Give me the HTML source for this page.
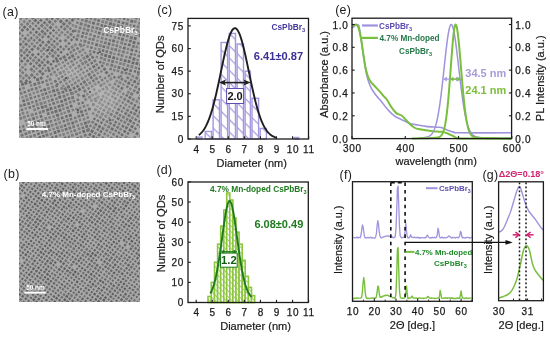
<!DOCTYPE html>
<html><head><meta charset="utf-8"><title>Figure</title>
<style>
html,body{margin:0;padding:0;background:#fff;width:550px;height:338px;overflow:hidden}
svg{display:block}
text{font-family:"Liberation Sans", Arial, sans-serif}
</style></head><body>
<svg width="550" height="338" viewBox="0 0 550 338">
<rect width="550" height="338" fill="#fff"/>
<defs><filter id="tblur" x="-5%" y="-5%" width="110%" height="110%"><feGaussianBlur stdDeviation="0.7"/></filter></defs>
<clipPath id="ca"><rect x="19" y="18" width="121" height="120"/></clipPath>
<rect x="19" y="18" width="121" height="120" fill="#adadad"/>
<g clip-path="url(#ca)" filter="url(#tblur)">
<path fill="#6a6a6a" d="M23.6 14.4 25.4 16 23.9 17.8 22 16.3zM28.9 13.3 30.9 15 29.2 17.1 27.2 15.4zM32.5 16.4 34.3 17.9 32.8 19.8 30.9 18.2zM24.4 25.2 26.6 27 24.8 29.1 22.6 27.3zM22.2 28.3 24.3 30 22.5 32.1 20.5 30.4zM35.1 18.4 37.3 20.3 35.5 22.5 33.3 20.6zM27.4 27.8 29.2 29.4 27.7 31.2 25.8 29.7zM40.7 18.5 42.7 20.2 41.1 22.1 39.1 20.5zM38.1 21.1 39.9 22.6 38.4 24.5 36.6 22.9zM33.1 27.4 35 29 33.4 30.9 31.5 29.3zM25.2 36.8 27.2 38.5 25.5 40.5 23.5 38.8zM20.5 42.6 22.4 44.2 20.8 46.2 18.9 44.6zM49.3 14.7 51.5 16.6 49.7 18.8 47.5 16.9zM44.3 21 46.3 22.6 44.6 24.6 42.6 22.9zM38.8 26.9 40.6 28.4 39.1 30.3 37.2 28.7zM36.3 30.2 38.3 31.9 36.6 34 34.5 32.3zM31.1 36.4 32.9 37.9 31.4 39.7 29.5 38.2zM25.9 42.4 28.1 44.1 26.3 46.3 24.1 44.5zM54.8 14.4 56.8 16.1 55.1 18 53.1 16.4zM52 17.2 53.9 18.7 52.3 20.6 50.5 19zM49.5 20.1 51.7 22 49.9 24.1 47.7 22.3zM42.1 29.6 44.2 31.3 42.5 33.4 40.4 31.6zM21.3 53.8 23.2 55.4 21.6 57.3 19.8 55.7zM50.4 25.5 52.6 27.3 50.7 29.6 48.5 27.7zM47.3 29.1 49.1 30.5 47.6 32.3 45.9 30.8zM39.6 38.3 41.5 40 39.9 41.9 37.9 40.3zM32.1 47.5 34.1 49.3 32.4 51.3 30.3 49.6zM29.4 50.4 31.2 51.9 29.7 53.7 27.9 52.2zM27.2 53.5 29.3 55.2 27.6 57.3 25.5 55.6zM24.4 56.4 26.3 58 24.7 60 22.8 58.3zM21.6 59.3 23.6 61 21.9 63 19.9 61.3zM60.7 19.3 62.9 21.2 61 23.5 58.8 21.6zM53.4 28.7 55.3 30.3 53.7 32.1 51.8 30.6zM50.4 31.5 52.2 33 50.7 34.9 48.8 33.3zM48.3 34.9 50.3 36.6 48.6 38.6 46.6 36.9zM42.7 40.6 44.7 42.2 43 44.1 41.1 42.5zM40.3 43.6 42.3 45.3 40.7 47.3 38.7 45.6zM32.5 53 34.5 54.7 32.8 56.7 30.8 55zM27.5 58.9 29.5 60.7 27.8 62.7 25.7 61zM17.3 71.4 19.1 72.9 17.6 74.7 15.9 73.2zM69.4 15.7 71.4 17.3 69.7 19.3 67.7 17.6zM66.6 18.9 68.6 20.6 66.9 22.6 64.9 20.9zM63.7 21.9 65.9 23.8 64 26 61.8 24.1zM61.1 25.2 63 26.7 61.4 28.6 59.6 27zM48.5 40 50.8 41.9 48.9 44.1 46.6 42.3zM38.2 52.5 40.1 54 38.5 55.9 36.7 54.3zM30.5 62 32.5 63.6 30.9 65.5 28.9 63.9zM72.4 17.9 74.6 19.8 72.7 22.1 70.5 20.2zM54.1 39.7 55.9 41.2 54.4 43.1 52.6 41.5zM49 45.8 50.8 47.3 49.3 49.2 47.5 47.6zM38.7 58.2 40.7 59.9 39 61.9 37 60.2zM33.8 64.7 35.6 66.2 34.1 67.9 32.4 66.5zM60.1 39.2 62 40.8 60.4 42.7 58.5 41.1zM51.9 48.3 54.2 50.2 52.3 52.4 50.1 50.6zM47.1 54.7 49.1 56.4 47.5 58.4 45.5 56.7zM39.5 63.6 41.7 65.4 39.8 67.6 37.6 65.8zM26.3 79.1 28.2 80.7 26.6 82.6 24.7 81zM72.9 29.4 74.9 31 73.2 33 71.3 31.3zM60.5 45.3 62.3 46.7 60.8 48.5 59 47zM57.9 47.8 59.8 49.4 58.2 51.2 56.4 49.7zM47.7 60.1 49.9 61.9 48 64.2 45.8 62.3zM39.9 69.4 42.1 71.2 40.3 73.4 38.1 71.6zM34.4 75.8 36.3 77.4 34.7 79.2 32.9 77.7zM71.4 38.3 73.2 39.8 71.7 41.6 69.9 40.1zM68.8 41.8 70.6 43.3 69.1 45.1 67.3 43.6zM60.9 50.5 62.8 52 61.2 53.9 59.4 52.3zM58.1 54 59.9 55.5 58.4 57.4 56.6 55.8zM56 56.8 57.8 58.3 56.3 60.2 54.4 58.6zM53.4 59.5 55.4 61.2 53.7 63.1 51.7 61.5zM50.8 62.6 52.7 64.2 51.1 66.1 49.2 64.5zM48 66.2 49.8 67.7 48.3 69.6 46.5 68zM42.6 72 44.6 73.7 42.9 75.8 40.8 74zM75.9 37.7 78.4 38.4 77.7 40.9 75.2 40.2zM86 15.7 88.9 16.4 88.1 19.3 85.3 18.5zM82.3 31.5 84.6 32.1 84 34.4 81.7 33.8zM81.3 34.9 83.7 35.5 83.1 37.9 80.6 37.3zM87.7 24.5 90.2 25.2 89.5 27.7 87 27.1zM92.5 21.4 95.2 22.2 94.5 24.9 91.8 24.1zM97.7 19 100.2 19.7 99.5 22.1 97 21.5zM93.7 34.7 96 35.3 95.4 37.5 93.1 36.9zM90.5 46.2 92.8 46.8 92.2 49.1 89.9 48.5zM102.7 15.7 105.4 16.4 104.7 19.2 101.9 18.4zM100.9 24 103.3 24.6 102.6 26.9 100.3 26.3zM99.6 27.6 102 28.3 101.4 30.6 99 30zM98.2 31.4 100.9 32.1 100.2 34.8 97.5 34.1zM95.6 43.1 98.3 43.8 97.5 46.5 94.9 45.8zM93.2 50.6 95.6 51.3 95 53.6 92.6 53zM104.2 24.8 107 25.6 106.3 28.4 103.5 27.6zM97.1 51.7 99.3 52.3 98.7 54.5 96.5 53.9zM109.5 22 112.3 22.7 111.5 25.6 108.7 24.8zM107.4 29.7 109.9 30.4 109.3 32.9 106.8 32.2zM102.9 45.1 105.4 45.7 104.7 48.2 102.2 47.5zM102.3 49.1 104.6 49.7 104 52.1 101.7 51.4zM108.1 42.3 110.7 43 110 45.6 107.4 44.9zM104.6 53.7 107.4 54.4 106.7 57.2 103.9 56.5zM118 20.3 120.3 21 119.7 23.3 117.4 22.7zM117.3 24.2 119.8 24.8 119.1 27.3 116.6 26.6zM112.6 39.2 115.3 39.9 114.6 42.6 111.9 41.9zM108.6 54.8 111.3 55.6 110.6 58.4 107.8 57.6zM123.3 17.2 125.7 17.8 125 20.1 122.7 19.5zM122.1 21.4 124.7 22.1 124 24.6 121.5 23.9zM120.9 24.9 123.4 25.5 122.8 28 120.3 27.4zM118.9 32.6 121.6 33.3 120.9 36 118.2 35.3zM112.7 55.9 115.4 56.7 114.7 59.4 111.9 58.7zM124.9 26.2 127.7 26.9 126.9 29.6 124.2 28.9zM123.6 29.9 126.3 30.6 125.6 33.2 122.9 32.5zM122.9 33.8 125.2 34.4 124.6 36.7 122.3 36.1zM121.4 37.5 124.2 38.2 123.4 40.9 120.7 40.2zM130.8 19.5 133.5 20.3 132.8 23 130.1 22.3zM124.5 42.7 126.7 43.3 126.1 45.6 123.8 45zM123.3 46.4 126 47.1 125.3 49.7 122.6 49zM118 65.8 120.6 66.4 119.9 69.1 117.3 68.4zM133.4 24.5 135.6 25.1 135 27.3 132.8 26.7zM132.5 28.3 135 28.9 134.3 31.4 131.9 30.7zM129.5 39.5 132 40.1 131.3 42.6 128.8 42zM128.3 43.2 130.9 43.9 130.2 46.6 127.6 45.8zM124.2 59 126.9 59.7 126.2 62.5 123.4 61.8zM139.7 17.7 142.1 18.3 141.5 20.7 139.1 20.1zM134.2 36.8 136.9 37.5 136.2 40.3 133.5 39.5zM133 40.8 135.8 41.5 135 44.4 132.2 43.6zM130.9 48.4 133.6 49.1 132.9 51.8 130.2 51.1zM130.4 52.7 132.8 53.4 132.1 55.7 129.7 55.1zM129.2 56.1 131.5 56.8 130.9 59.1 128.6 58.5zM128 59.7 130.7 60.4 130 63.2 127.3 62.4zM126.1 67.7 128.4 68.4 127.8 70.7 125.5 70.1zM140 30.1 142.7 30.9 141.9 33.6 139.2 32.9zM138.9 33.9 141.5 34.6 140.8 37.2 138.2 36.5zM135.5 49.6 137.7 50.2 137.1 52.4 134.9 51.8zM132.9 57.3 135.7 58.1 134.9 60.9 132.1 60.1zM132 61.3 134.7 62 134 64.6 131.3 63.9zM129.8 69.1 132.2 69.7 131.5 72.2 129.1 71.5zM141 42.7 143.9 43.5 143.1 46.3 140.3 45.6zM135.9 61.8 138.7 62.5 138 65.3 135.2 64.5zM134.2 70 136.3 70.6 135.8 72.8 133.6 72.2zM138.4 67.2 140.8 67.8 140.2 70.2 137.8 69.5zM137.4 70.9 139.9 71.6 139.2 74.1 136.7 73.4zM141.2 72.1 143.8 72.8 143.1 75.4 140.5 74.7zM16.2 123 18.7 122.1 19.5 124.6 17 125.5zM17.6 126.6 19.9 125.8 20.7 128.1 18.3 128.9zM18.7 130.5 21.3 129.6 22.2 132.3 19.5 133.1zM21.2 138 23.7 137.2 24.6 139.8 22 140.6zM16.3 97.2 19 96.4 19.9 99.1 17.2 99.9zM20.6 109.1 22.8 108.4 23.5 110.6 21.3 111.3zM26.8 127.9 29.3 127.2 30 129.6 27.6 130.3zM17.9 88.4 20.4 87.6 21.3 90.2 18.7 91zM21.9 100.1 24.5 99.2 25.3 101.8 22.8 102.6zM22.9 103.9 25.3 103.1 26.1 105.5 23.6 106.3zM31.7 130.4 34 129.7 34.8 132 32.5 132.7zM20.8 83.4 23.4 82.5 24.3 85.2 21.6 86.1zM23.2 91.4 25.4 90.7 26.2 92.9 23.9 93.6zM28.3 106.7 30.5 106 31.3 108.2 29 109zM31.9 117.7 34.4 116.8 35.3 119.4 32.7 120.2zM34.1 125.4 36.7 124.6 37.6 127.2 35 128zM35.7 129.2 38.1 128.4 38.9 130.9 36.5 131.7zM36.9 133 39.3 132.2 40.1 134.6 37.7 135.4zM38 136.7 40.7 135.8 41.6 138.5 38.9 139.4zM24 82.2 26.8 81.3 27.7 84.1 24.9 85zM32.1 105.5 34.3 104.8 35 107 32.8 107.7zM38.1 124.4 40.4 123.7 41.2 126 38.9 126.7zM40.6 131.5 43 130.8 43.8 133.2 41.4 134zM41.9 135.3 44.3 134.6 45 136.9 42.7 137.7zM28.4 81.3 30.9 80.5 31.7 83 29.2 83.8zM34.8 100.5 37 99.8 37.7 102 35.5 102.7zM36.7 107.5 39 106.8 39.8 109.1 37.5 109.8zM39.4 115.6 41.9 114.8 42.7 117.3 40.2 118.1zM41.8 122.6 44.5 121.7 45.4 124.4 42.7 125.3zM33.1 83.4 35.7 82.6 36.5 85.2 33.9 86zM40.6 106.2 43.3 105.4 44.2 108.1 41.5 109zM45.7 121.6 48.3 120.7 49.2 123.3 46.6 124.2zM47 125.6 49.6 124.8 50.5 127.4 47.8 128.3zM50.9 136.8 53.2 136 54 138.3 51.6 139.1zM35.8 78.7 38.6 77.8 39.5 80.5 36.7 81.4zM39.9 89.9 42 89.2 42.7 91.3 40.6 92zM45.8 109.1 48.5 108.2 49.3 110.8 46.7 111.7zM53.3 131.6 55.9 130.7 56.8 133.4 54.1 134.3zM54.7 135.8 57 135.1 57.7 137.3 55.4 138.1zM55.8 139.6 58.1 138.8 58.9 141.1 56.5 141.9zM39.5 77.1 42 76.3 42.9 78.9 40.3 79.7zM41.1 81.4 43.4 80.6 44.2 82.9 41.8 83.7zM43 88.8 45.6 88 46.5 90.6 43.9 91.5zM44.4 92.7 46.8 91.9 47.6 94.3 45.2 95.1zM49.1 107.6 51.9 106.7 52.8 109.5 50 110.4zM50.9 111.6 53.1 110.9 53.9 113.2 51.6 113.9zM56.9 130.3 59.6 129.5 60.4 132.1 57.8 133zM50.7 99.1 53.1 98.3 53.9 100.7 51.5 101.5zM52.1 102.6 54.5 101.9 55.3 104.3 52.9 105zM54.1 110.4 56.9 109.5 57.7 112.3 55 113.2zM55.7 114.3 58.5 113.4 59.4 116.2 56.6 117.1zM63.4 137 65.9 136.2 66.8 138.8 64.2 139.6zM51.8 89.9 54.6 89 55.5 91.8 52.7 92.7zM53.3 94.2 55.6 93.5 56.4 95.8 54 96.5zM57.2 105.4 59.9 104.5 60.8 107.2 58.1 108.1zM58.3 109.2 60.9 108.4 61.8 111 59.1 111.9zM60.6 117 63.1 116.2 63.9 118.7 61.4 119.6zM63.4 124.7 65.9 123.9 66.7 126.3 64.2 127.1zM64.4 128.4 67 127.6 67.8 130.1 65.3 131zM58 96.2 60.7 95.3 61.6 98 58.9 98.9zM59.9 100.5 62.5 99.7 63.3 102.3 60.7 103.1zM64.8 115.5 67.2 114.7 68 117.1 65.6 117.9zM61.3 91.2 63.8 90.4 64.6 92.9 62.1 93.7zM63.5 98.9 66.2 98 67.1 100.7 64.4 101.5zM68.4 114.4 71.3 113.5 72.2 116.3 69.4 117.2zM71 122.1 73.6 121.3 74.4 123.9 71.9 124.7zM76.2 137.4 78.5 136.6 79.3 139 77 139.7zM67.4 97.7 69.7 96.9 70.5 99.2 68.2 100zM69.5 105.3 72 104.4 72.9 107 70.3 107.8zM69.9 92.6 72.5 91.8 73.4 94.4 70.8 95.2zM76.4 111.7 78.6 111 79.3 113.1 77.1 113.8zM82 130.6 84.7 129.7 85.6 132.4 82.9 133.3zM79.7 110.8 82.4 109.9 83.2 112.6 80.6 113.5zM81 114.3 83.4 113.5 84.2 116 81.8 116.8zM83.6 122.2 86.3 121.3 87.1 123.9 84.5 124.8zM86 129.3 88.8 128.4 89.7 131.2 86.9 132.1zM81.2 102 83.4 101.3 84.1 103.5 81.9 104.2zM84.1 109.7 86.3 109 87 111.2 84.8 111.9zM87.6 108.1 90.3 107.2 91.2 109.9 88.5 110.8zM95.4 99 97.5 100.3 96.3 102.4 94.2 101.2zM100.9 97.9 103.2 99.3 101.9 101.6 99.5 100.3zM94.1 117.3 96 118.5 94.9 120.4 92.9 119.3zM117.9 84.6 120.1 85.9 118.9 88.1 116.7 86.8zM113.5 91.2 116.1 92.7 114.6 95.2 112.1 93.7zM111.9 95.1 113.9 96.2 112.8 98.2 110.8 97.1zM107.9 101.7 110.3 103.1 108.9 105.5 106.5 104.1zM103.5 108.5 105.7 109.7 104.4 111.9 102.2 110.7zM97.5 119.1 99.5 120.3 98.3 122.3 96.3 121.1zM95.4 122.7 97.7 124 96.4 126.3 94.1 125zM91.6 129.3 94.1 130.8 92.6 133.3 90.1 131.8zM89.5 132.8 91.7 134.1 90.4 136.4 88.1 135.1zM121.4 86.4 123.8 87.8 122.4 90.2 120 88.8zM114.9 96.7 117.1 98 115.8 100.2 113.6 98.9zM103 118 105 119.2 103.8 121.3 101.8 120.1zM101 121 103 122.2 101.8 124.2 99.9 123zM99 124.7 101.3 126.1 100 128.4 97.6 127.1zM93 134.8 95.3 136.1 94 138.4 91.7 137.1zM91.3 138.7 93.5 140 92.3 142.2 90.1 140.9zM128.3 81.3 130.7 82.7 129.3 85.1 126.9 83.7zM120.7 95.6 122.7 96.7 121.6 98.7 119.5 97.6zM110.7 112.5 113.1 113.9 111.7 116.3 109.3 114.9zM100.5 129.9 102.6 131.1 101.4 133.2 99.3 132zM98.6 133.3 100.9 134.5 99.6 136.8 97.3 135.5zM134.1 79.7 136.6 81.1 135.2 83.6 132.8 82.2zM126.3 93.7 128.4 95 127.2 97.1 125 95.9zM120.1 104.4 122.1 105.6 120.9 107.6 118.9 106.4zM118 107.4 120.5 108.8 119.1 111.3 116.6 109.9zM116.3 111.2 118.7 112.6 117.3 115 114.9 113.6zM129.4 95.7 131.7 97 130.4 99.3 128.1 98zM127.8 99.5 129.9 100.8 128.7 102.9 126.5 101.7zM123.4 106.6 125.3 107.8 124.2 109.7 122.2 108.6zM117.7 116.8 120.1 118.1 118.7 120.5 116.4 119.1zM115.3 120.6 117.3 121.7 116.1 123.7 114.1 122.6zM113.7 123.5 115.9 124.8 114.6 127 112.5 125.7zM111.6 127.1 114 128.5 112.6 130.9 110.3 129.5zM138.9 87.4 141.2 88.7 139.9 91 137.6 89.7zM137.2 90.8 139.3 92 138.1 94.2 135.9 92.9zM134.4 103.7 136.5 105 135.3 107.1 133.2 105.9zM130.6 110.7 132.7 111.9 131.5 113.9 129.4 112.8zM122.4 124.5 124.6 125.7 123.3 127.9 121.2 126.6zM116.6 134.9 118.6 136.1 117.5 138.1 115.4 137zM114.6 137.8 117.1 139.3 115.6 141.8 113.1 140.3zM142.1 98.3 144.6 99.8 143.1 102.3 140.6 100.8zM138 105.7 140.1 106.9 138.9 109 136.8 107.8zM135.8 108.7 138.1 110 136.8 112.3 134.5 111zM129.8 119.1 132.3 120.5 130.9 123 128.4 121.6zM125.9 126 128.2 127.3 126.9 129.6 124.6 128.3zM124.2 129.6 126.6 130.9 125.2 133.3 122.8 131.9zM121.6 133.1 123.9 134.4 122.6 136.6 120.4 135.3zM141.4 107 143.9 108.5 142.4 110.9 139.9 109.5zM139.6 110.5 142.2 112 140.7 114.5 138.1 113zM135.2 118 137.3 119.2 136.1 121.2 134.1 120zM131.5 124.7 133.9 126.1 132.5 128.5 130.1 127.1zM129.5 128.3 131.9 129.7 130.5 132.1 128.1 130.7zM127.6 132 129.6 133.1 128.4 135.1 126.4 133.9zM140.6 116.2 142.8 117.4 141.5 119.6 139.3 118.3zM138.9 119.7 140.9 120.9 139.7 122.9 137.7 121.7zM134.9 127.1 136.9 128.2 135.7 130.3 133.7 129.1zM136.6 131.8 139 133.2 137.6 135.6 135.1 134.2zM132.2 139 134.7 140.5 133.3 143 130.8 141.5zM69.2 47.6 70.4 49.6 68.4 50.8 67.2 48.8zM77.9 46.9 79.1 48.8 77.2 50 76 48.1zM67.9 52.9 69.2 54.9 67.2 56.1 65.9 54.1zM64.6 54.9 66.2 57.4 63.7 58.9 62.2 56.5zM61.1 56.9 62.5 59.1 60.3 60.5 58.9 58.3zM57.8 58.9 59.4 61.4 56.9 62.9 55.4 60.5zM73.1 54 74.6 56.4 72.2 57.9 70.6 55.5zM69.9 56.1 71.3 58.3 69.1 59.6 67.7 57.5zM66.2 58.3 67.6 60.6 65.3 62.1 63.9 59.7zM56.4 64.6 57.6 66.6 55.6 67.8 54.4 65.9zM49.5 68.7 51 71 48.6 72.5 47.2 70.1zM75 57.6 76.3 59.6 74.3 60.9 73 58.9zM68.3 61.9 69.5 63.9 67.6 65.1 66.4 63.1zM65 64.3 66.2 66.2 64.3 67.4 63.1 65.5zM87.8 54.6 89.2 56.9 86.9 58.4 85.4 56zM73.7 63.1 75 65.1 73 66.4 71.7 64.4zM60.7 71.1 62.2 73.5 59.8 75 58.3 72.6zM93 55.6 94.4 57.8 92.2 59.1 90.8 56.9zM89.8 58.1 91.1 60.2 89 61.4 87.8 59.4zM79.4 64.2 80.9 66.7 78.5 68.2 77 65.7zM76.1 66.7 77.4 68.8 75.3 70 74 68zM62.6 74.8 64 77.1 61.8 78.4 60.4 76.2zM55.8 79.4 57.2 81.6 55 83 53.6 80.8zM92.1 61.5 93.4 63.5 91.3 64.8 90 62.8zM81.5 67.4 83 69.8 80.6 71.3 79.1 68.9zM78.5 70 79.8 72 77.8 73.2 76.5 71.2zM65 78 66.5 80.5 64.1 82 62.5 79.5zM57.6 82.7 58.9 84.7 56.9 85.9 55.6 83.9zM100.6 60.5 101.8 62.5 99.9 63.7 98.7 61.7zM94.2 64.8 95.7 67.1 93.3 68.6 91.9 66.2zM87.4 69.3 88.6 71.3 86.7 72.5 85.5 70.6zM83.9 70.9 85.2 73 83.1 74.3 81.8 72.2zM77 75.6 78.3 77.6 76.3 78.9 75 76.9zM102.6 64.3 103.8 66.3 101.8 67.5 100.6 65.6zM99.2 66.3 100.5 68.3 98.4 69.6 97.2 67.6zM89.6 72.4 91.1 74.9 88.6 76.4 87.1 73.9zM68.9 84.8 70.4 87.3 67.9 88.9 66.4 86.4zM105 67.2 106.4 69.6 104.1 71.1 102.6 68.7zM91.6 75.8 93.1 78.1 90.8 79.5 89.3 77.2zM84.8 79.9 86.3 82.4 83.9 83.9 82.3 81.4zM81.4 82.4 82.7 84.4 80.7 85.6 79.4 83.6zM78.1 84.4 79.5 86.7 77.2 88.1 75.8 85.8zM74.5 86.3 75.9 88.5 73.7 89.9 72.3 87.7zM70.8 88.2 72.3 90.5 69.9 92 68.5 89.6zM107 70.8 108.5 73.1 106.1 74.6 104.6 72.3zM93.8 79.1 95.1 81.2 93 82.5 91.7 80.4zM79.9 87.6 81.4 90 79 91.5 77.5 89.1zM102.6 78.4 103.8 80.4 101.8 81.7 100.5 79.7zM98.9 80.6 100.2 82.7 98.2 84 96.9 81.9zM114.7 75.7 116 77.7 114 78.9 112.8 76.9zM101.4 83.3 102.9 85.8 100.5 87.4 98.9 84.9zM84.2 93.9 85.8 96.4 83.3 98 81.7 95.5zM106.7 85.4 107.9 87.5 105.9 88.7 104.7 86.7zM103.5 87.4 104.8 89.5 102.7 90.8 101.3 88.7zM95.3 97.3 96.5 99.2 94.6 100.4 93.4 98.5z"/>
<path fill="#747474" d="M18.8 25.9 20.7 27.5 19.1 29.5 17.1 27.8zM16.1 29.2 17.9 30.7 16.4 32.5 14.7 31zM29.6 19.5 31.4 21 29.9 22.8 28.1 21.3zM27.4 22 29.4 23.7 27.7 25.7 25.7 24zM19.3 31.4 21.4 33.2 19.6 35.2 17.5 33.5zM16.8 34.8 18.5 36.3 17 38 15.3 36.6zM37.9 15.8 39.8 17.3 38.2 19.2 36.4 17.6zM32.7 21.8 34.5 23.3 33 25.1 31.2 23.6zM30 24.8 31.9 26.4 30.3 28.4 28.4 26.8zM35.9 24.2 37.7 25.8 36.2 27.6 34.3 26zM30.6 30.7 32.6 32.4 31 34.4 29 32.7zM46.7 17.5 48.7 19.2 47 21.2 45 19.5zM41.7 23.6 43.9 25.5 42 27.7 39.8 25.8zM21 48.5 23.1 50.3 21.4 52.4 19.3 50.6zM39.3 32.6 41.4 34.3 39.7 36.4 37.6 34.7zM34 38.6 35.8 40.1 34.3 41.9 32.5 40.4zM26.5 48 28.6 49.8 26.8 51.9 24.7 50.1zM24.2 50.8 26.1 52.4 24.5 54.4 22.5 52.7zM16.1 60.1 17.9 61.6 16.4 63.5 14.6 61.9zM57.6 16.7 59.6 18.3 58 20.4 55.9 18.7zM55.2 19.6 57.1 21.2 55.5 23.1 53.6 21.5zM44.7 31.8 47 33.6 45.1 35.9 42.9 34zM42.4 35.1 44.4 36.8 42.8 38.8 40.8 37.1zM34.4 44.5 36.4 46.2 34.8 48.2 32.8 46.5zM37.9 46.6 40 48.3 38.3 50.4 36.2 48.7zM30.2 56.3 32.1 58 30.5 59.9 28.6 58.3zM46.1 43.2 48.1 44.9 46.4 46.9 44.4 45.2zM43.6 46.6 45.6 48.3 43.9 50.4 41.9 48.7zM35.4 55.8 37.3 57.4 35.7 59.3 33.9 57.7zM25.4 67.9 27.2 69.4 25.7 71.2 23.9 69.7zM22.6 70.9 24.5 72.5 22.9 74.4 21 72.8zM75 15.2 77.2 17 75.3 19.2 73.1 17.4zM69.6 21.1 71.7 22.9 69.9 25.1 67.7 23.3zM64.6 27.1 66.7 28.9 64.9 31 62.8 29.2zM56.8 36.8 58.7 38.3 57.1 40.2 55.3 38.6zM51.8 42.9 53.8 44.5 52.1 46.5 50.1 44.8zM41.3 55.2 43 56.7 41.5 58.4 39.8 57zM36.4 61.1 38.5 62.8 36.7 64.9 34.7 63.1zM31.2 67.3 33.4 69.2 31.5 71.4 29.3 69.5zM26.1 73.5 28.3 75.3 26.5 77.5 24.3 75.7zM20.9 79.5 23.1 81.4 21.3 83.6 19.1 81.7zM70.2 27.1 72 28.6 70.5 30.4 68.7 28.9zM67.5 30.4 69.3 31.9 67.8 33.7 66 32.2zM49.6 51.7 51.6 53.3 50 55.2 48 53.6zM44.2 58 46 59.5 44.5 61.3 42.7 59.8zM41.9 60.4 44.2 62.2 42.3 64.5 40.1 62.6zM31.6 73 33.9 74.9 32 77.2 29.8 75.3zM29 76.1 31 77.7 29.4 79.7 27.4 78zM70.7 32.4 72.9 34.2 71.1 36.4 68.9 34.6zM68 35.4 70 37.1 68.3 39.1 66.3 37.4zM65.4 38.5 67.5 40.3 65.7 42.5 63.6 40.7zM52.7 54 55 55.9 53.1 58.1 50.8 56.2zM44.6 63.4 46.6 65.1 45 67.1 43 65.4zM42.6 66.7 44.4 68.2 42.9 70 41.1 68.5zM73.7 35.4 75.5 36.9 73.9 38.7 72.1 37.2zM63.5 47.4 65.4 49 63.8 50.9 62 49.3zM76.6 21.3 78.8 21.9 78.2 24.1 76 23.5zM74.4 29.2 76.8 29.9 76.1 32.3 73.7 31.7zM82.1 14.4 84.9 15.1 84.1 17.9 81.3 17.2zM81.6 18.7 83.8 19.3 83.2 21.5 81 20.9zM80.1 22.1 82.9 22.9 82.1 25.7 79.3 25zM79.2 26.5 81.6 27.1 81 29.6 78.5 28.9zM85.2 19.1 88 19.9 87.3 22.7 84.5 21.9zM79.1 42.9 81.5 43.6 80.8 46 78.4 45.3zM90.1 16.9 92.5 17.5 91.9 19.9 89.5 19.3zM86.9 28.4 89.7 29.1 88.9 31.9 86.2 31.1zM85.7 32.2 88.1 32.8 87.4 35.2 85 34.6zM83.9 39.6 86.6 40.3 85.9 43 83.2 42.3zM95 13.5 97.9 14.3 97.1 17.1 94.2 16.4zM91.9 25.8 94.4 26.4 93.7 28.9 91.2 28.3zM88.9 37.5 91.2 38.1 90.6 40.4 88.3 39.8zM87.7 41.1 90.2 41.7 89.5 44.2 87.1 43.5zM98.8 15.2 101.2 15.9 100.5 18.2 98.2 17.6zM97 22.5 99.5 23.2 98.9 25.8 96.3 25.1zM95.9 26.5 98.6 27.2 97.9 29.9 95.2 29.1zM92.3 37.8 94.9 38.5 94.2 41.1 91.6 40.4zM106.6 17.1 109.5 17.8 108.7 20.7 105.9 19.9zM102.3 32.9 104.6 33.5 103.9 35.8 101.6 35.2zM106.4 33.4 108.8 34 108.2 36.4 105.8 35.8zM105.2 37.8 107.4 38.4 106.9 40.6 104.6 40zM104.3 41.3 106.9 42 106.2 44.5 103.7 43.8zM100.9 52.8 103.5 53.5 102.8 56 100.3 55.3zM100.3 56.4 102.8 57.1 102.2 59.6 99.7 58.9zM113 23.1 115.7 23.8 114.9 26.5 112.2 25.8zM112.3 26.9 114.9 27.6 114.2 30.2 111.6 29.5zM111.3 30.8 114 31.5 113.3 34.2 110.6 33.5zM109.1 38.7 111.4 39.4 110.8 41.7 108.4 41.1zM105.8 49.9 108.5 50.6 107.8 53.3 105.1 52.5zM116.2 27.5 119 28.3 118.2 31.1 115.4 30.3zM110 51.1 112.6 51.8 111.9 54.4 109.3 53.7zM108 58.9 110.3 59.6 109.7 61.9 107.3 61.3zM123.8 13.4 126.5 14.1 125.8 16.8 123.1 16.1zM120.1 28.9 122.6 29.6 121.9 32.1 119.5 31.4zM118 36.8 120.3 37.4 119.7 39.8 117.3 39.1zM115.9 44.2 118.3 44.8 117.6 47.2 115.2 46.6zM114.7 47.9 117.4 48.6 116.7 51.4 113.9 50.6zM111.6 59.8 114.4 60.6 113.6 63.3 110.9 62.6zM110.7 63.6 113.4 64.3 112.7 67.1 110 66.3zM109.8 67.4 112.2 68.1 111.6 70.5 109.1 69.9zM127.9 14.3 130.7 15 129.9 17.8 127.2 17zM125.8 21.9 128.6 22.7 127.9 25.5 125.1 24.7zM117.8 53 120 53.6 119.4 55.9 117.2 55.3zM116.4 57.2 118.6 57.7 118 60 115.8 59.4zM128.4 26.8 131 27.5 130.3 30.1 127.7 29.4zM127.7 31.2 130 31.9 129.4 34.2 127.1 33.6zM126.5 34.6 128.9 35.3 128.2 37.7 125.9 37zM122.5 50.2 125 50.9 124.4 53.4 121.8 52.8zM120.1 58 122.7 58.7 122 61.2 119.4 60.5zM135.4 16.3 138 17 137.3 19.7 134.7 19zM130.4 35.9 133.3 36.7 132.5 39.5 129.6 38.8zM122.2 67 124.4 67.7 123.8 69.9 121.5 69.3zM121 70.8 123.7 71.5 122.9 74.2 120.3 73.5zM140.7 13.6 143.4 14.3 142.6 17 139.9 16.3zM135.2 32.9 137.8 33.6 137.1 36.3 134.4 35.6zM132.4 44.7 135.1 45.4 134.4 48.1 131.7 47.4zM125.1 71.5 127.7 72.2 127 74.8 124.4 74.1zM141.4 26 144.2 26.7 143.5 29.6 140.7 28.8zM137.4 41.7 139.9 42.4 139.2 45 136.7 44.3zM134.1 53.3 136.3 53.9 135.7 56.1 133.5 55.5zM128.8 72.5 131.1 73.2 130.5 75.5 128.1 74.9zM142 38.5 144.8 39.2 144 42.1 141.2 41.3zM139.1 50.9 141.4 51.5 140.8 53.7 138.5 53.1zM137.9 54.4 140.3 55 139.7 57.5 137.2 56.8zM135.1 66.4 137.4 67 136.8 69.3 134.5 68.7zM140.7 59.6 143 60.2 142.4 62.5 140.1 61.9zM139.6 63.5 141.9 64.1 141.3 66.5 138.9 65.9zM15.3 131.3 17.9 130.5 18.8 133.1 16.1 134zM16.4 135.3 18.7 134.6 19.4 136.9 17.1 137.6zM17.8 138.9 20.4 138 21.3 140.7 18.6 141.5zM20.3 134.4 23 133.5 23.8 136.1 21.2 137zM15.1 106 17.7 105.1 18.6 107.8 15.9 108.6zM16.9 110.2 19.3 109.4 20.1 111.8 17.7 112.5zM18.3 114 20.4 113.3 21.1 115.5 19 116.2zM19.1 117.6 21.7 116.7 22.5 119.3 20 120.1zM21.7 125.6 24 124.8 24.8 127.2 22.4 128zM22.6 129.1 25 128.4 25.7 130.7 23.4 131.4zM24.1 132.9 26.8 132 27.7 134.7 25 135.6zM27.8 131.6 30.2 130.8 30.9 133.2 28.6 134zM29.2 135.8 31.5 135.1 32.3 137.4 29.9 138.2zM29.8 139.2 32.6 138.3 33.5 141.1 30.7 142zM26.6 115.1 28.9 114.4 29.6 116.6 27.4 117.3zM30.2 126.5 33 125.6 33.9 128.3 31.1 129.2zM32.9 134.6 35.4 133.8 36.1 136.2 33.7 137zM34.5 138 36.8 137.2 37.6 139.6 35.2 140.4zM26.8 102.7 29.6 101.8 30.5 104.6 27.7 105.6zM32.8 121.5 35.5 120.7 36.3 123.3 33.7 124.2zM27.1 89.8 29.6 89 30.4 91.5 27.9 92.3zM29.2 97.2 31.9 96.4 32.7 99 30.1 99.8zM30.9 101.5 33.1 100.8 33.8 103 31.6 103.7zM34.5 113 36.7 112.3 37.5 114.6 35.2 115.3zM36.7 120.5 39.5 119.5 40.4 122.4 37.6 123.3zM30.4 88.5 32.9 87.7 33.7 90.2 31.2 91zM33.4 96.3 35.7 95.6 36.4 97.8 34.2 98.6zM38.4 111.8 40.8 111 41.6 113.4 39.2 114.2zM40.6 119.3 42.9 118.6 43.7 120.9 41.4 121.6zM42.7 126.5 45.5 125.5 46.5 128.4 43.7 129.3zM44 130.4 46.8 129.5 47.7 132.2 44.9 133.1zM45.1 134.1 47.8 133.2 48.7 135.9 46 136.8zM46.8 138.2 49.1 137.4 49.9 139.8 47.5 140.6zM34.5 87.6 37 86.8 37.8 89.3 35.3 90.2zM37.1 95.2 39.5 94.4 40.2 96.8 37.9 97.5zM41.6 110.5 44.2 109.6 45.1 112.2 42.4 113.1zM37 82.2 39.7 81.3 40.6 84 37.9 84.9zM44 105.4 46.7 104.5 47.6 107.2 44.9 108.1zM46.5 112.7 49.2 111.8 50.1 114.5 47.4 115.4zM49.3 120.5 51.7 119.8 52.5 122.1 50.1 122.9zM48.4 104 50.6 103.2 51.3 105.4 49.1 106.1zM53.7 119.4 55.9 118.7 56.6 120.9 54.4 121.6zM54.5 123.3 56.9 122.5 57.7 124.9 55.3 125.6zM45 79.9 47.2 79.2 48 81.5 45.7 82.2zM45.9 83.8 48.3 83.1 49.1 85.4 46.7 86.2zM53.6 106.8 56 106 56.8 108.4 54.4 109.2zM54.9 97.9 57.2 97.2 57.9 99.5 55.6 100.2zM62.3 120.4 64.7 119.6 65.4 121.9 63.1 122.7zM67.4 136 69.6 135.3 70.3 137.5 68.1 138.2zM55 85 57.4 84.3 58.2 86.7 55.8 87.4zM55.7 89.1 58.3 88.3 59.1 90.9 56.5 91.7zM57.1 92.3 59.9 91.4 60.8 94.2 58 95.1zM60.7 104.4 63.3 103.5 64.2 106.2 61.5 107zM68.1 127.1 70.7 126.2 71.6 128.9 68.9 129.7zM71.9 138.5 74.3 137.8 75 140.1 72.7 140.8zM62.4 95.3 64.9 94.5 65.8 97.1 63.2 97.9zM65.7 106.9 68.3 106 69.2 108.6 66.6 109.5zM66.9 110.3 69.7 109.4 70.6 112.2 67.8 113.1zM69.4 118.3 71.8 117.5 72.6 120 70.2 120.8zM72 125.8 74.5 125 75.3 127.5 72.8 128.4zM73.2 129.8 75.7 128.9 76.5 131.5 74 132.3zM74.8 133.2 77.5 132.3 78.3 135 75.7 135.8zM64.8 90 67.1 89.3 67.8 91.5 65.6 92.3zM73.7 117.1 75.9 116.4 76.7 118.6 74.4 119.4zM76.4 124.8 78.6 124.1 79.3 126.3 77.1 127zM70.8 96.7 73.6 95.8 74.5 98.6 71.7 99.5zM72.4 100.5 74.7 99.7 75.4 102.1 73.1 102.8zM77.2 115.4 79.9 114.5 80.7 117.2 78 118.1zM81.2 127 83.8 126.2 84.6 128.7 82.1 129.6zM83.5 134.4 86.1 133.5 87 136.1 84.4 136.9zM84.7 138.3 87.1 137.5 87.8 139.9 85.4 140.7zM76.3 99.1 78.6 98.3 79.4 100.6 77.1 101.4zM77.3 102.9 79.7 102.2 80.4 104.5 78.1 105.3zM84.8 125.5 87.6 124.6 88.5 127.4 85.7 128.3zM86.3 116.8 88.5 116.1 89.2 118.3 87 119zM92.9 102.6 95.5 104.1 94 106.6 91.5 105.2zM105.1 91.1 107.2 92.3 106 94.4 103.8 93.2zM102.7 94.6 104.9 95.9 103.6 98.1 101.4 96.8zM99 101 101.3 102.4 100 104.7 97.6 103.3zM95 107.8 97.3 109.2 96 111.5 93.6 110.2zM118.4 75.5 120.7 76.8 119.4 79.1 117.1 77.8zM114.5 82.2 116.8 83.6 115.5 85.9 113.1 84.6zM112.3 85.8 114.8 87.2 113.4 89.8 110.9 88.3zM101.9 103 104.4 104.4 102.9 106.9 100.5 105.4zM100 106.7 102.1 107.9 100.9 109.9 98.9 108.7zM98.2 109.9 100.6 111.3 99.2 113.7 96.8 112.3zM96.5 113.8 98.7 115 97.4 117.3 95.2 116zM92.2 120.4 94.4 121.7 93.2 123.9 91 122.6zM90.1 124.3 92.1 125.4 90.9 127.4 89 126.2zM88 127.7 90.2 128.9 88.9 131.1 86.8 129.8zM121.5 77.5 123.8 78.8 122.5 81 120.2 79.7zM115.5 87.8 117.9 89.1 116.5 91.5 114.2 90.1zM105.6 105 108.1 106.5 106.6 108.9 104.2 107.5zM101.8 112.1 104.2 113.5 102.8 115.9 100.4 114.5zM99.9 115.6 102.1 116.8 100.9 119 98.7 117.7zM87.7 136.6 89.7 137.8 88.6 139.8 86.6 138.6zM127.3 76.1 129.6 77.4 128.3 79.6 126 78.3zM125 79.4 127.2 80.7 126 82.9 123.8 81.6zM108.9 107.3 111.3 108.7 109.9 111.2 107.5 109.7zM107.3 110.6 109.8 112 108.4 114.4 105.9 113zM97.4 127.9 99.5 129.1 98.3 131.2 96.2 130zM126.9 85.1 129 86.3 127.8 88.4 125.7 87.2zM122.9 92.3 124.9 93.5 123.7 95.6 121.7 94.4zM116.3 102.1 118.8 103.6 117.3 106.1 114.8 104.7zM114.4 105.8 116.5 107 115.3 109 113.2 107.9zM112.5 109.5 114.5 110.7 113.4 112.8 111.3 111.6zM106.6 119.8 108.8 121 107.5 123.3 105.3 122zM102.4 126.6 104.9 128 103.5 130.5 101 129.1zM96.3 136.6 98.8 138 97.3 140.6 94.8 139.1zM136.2 76.1 138.8 77.5 137.3 80.1 134.8 78.6zM131.9 83.6 133.9 84.7 132.7 86.7 130.8 85.6zM124.1 97.3 126.5 98.7 125.1 101.2 122.7 99.8zM122.3 101 124.3 102.2 123.1 104.3 121.1 103.1zM114.2 114.7 116.5 116 115.2 118.2 112.9 116.9zM110 121.5 112.3 122.8 111 125.2 108.6 123.8zM108.2 124.9 110.6 126.3 109.2 128.8 106.8 127.4zM104.3 132.3 106.3 133.5 105.1 135.5 103.1 134.3zM100.3 138.5 102.8 139.9 101.3 142.5 98.8 141zM137.6 81.9 139.9 83.3 138.6 85.6 136.3 84.3zM135.4 85.2 137.8 86.5 136.4 88.9 134.1 87.5zM133.8 89 135.9 90.3 134.7 92.4 132.6 91.2zM131.2 92 133.6 93.5 132.2 95.9 129.8 94.5zM121.5 109.7 123.5 110.9 122.3 112.9 120.3 111.8zM119.6 113.5 121.8 114.8 120.5 117 118.3 115.7zM130.9 101.4 133.3 102.8 131.9 105.1 129.5 103.8zM127.1 108.4 129.4 109.8 128.1 112.1 125.7 110.8zM125.2 111.5 127.7 112.9 126.3 115.4 123.8 114zM123 115.3 125.4 116.7 124 119.1 121.6 117.7zM120.9 119.1 122.9 120.2 121.7 122.2 119.7 121.1zM118.8 122.3 120.8 123.4 119.7 125.4 117.7 124.2zM117.1 125.4 119.5 126.8 118.1 129.2 115.8 127.8zM115.3 129 117.4 130.2 116.2 132.4 114 131.1zM113.1 132.5 115.3 133.8 114 135.9 111.9 134.7zM110.8 136.3 113 137.6 111.8 139.8 109.5 138.5zM140.5 92.9 142.9 94.3 141.5 96.8 139.1 95.4zM132.7 106.5 135 107.9 133.6 110.2 131.3 108.9zM128.5 113.7 130.9 115.1 129.5 117.6 127.1 116.2zM126.6 117.5 128.8 118.7 127.6 120.9 125.4 119.7zM118.5 131 120.8 132.3 119.5 134.6 117.2 133.3zM134 111.9 136.5 113.3 135 115.8 132.6 114.3zM127.9 122.8 130.1 124 128.8 126.1 126.7 124.9zM119.8 136.5 121.8 137.6 120.7 139.7 118.7 138.5zM133.2 121.4 135.5 122.7 134.2 124.9 131.9 123.6zM123.3 138.3 125.6 139.6 124.3 142 121.9 140.6zM137.1 123.4 139.1 124.6 138 126.6 136 125.4zM128.9 137.1 131.5 138.6 130 141.1 127.4 139.7zM142.4 121.4 144.9 122.8 143.4 125.3 140.9 123.9zM140 125 142.3 126.3 141 128.7 138.7 127.3zM74.3 48.3 75.7 50.5 73.5 51.9 72.1 49.7zM63.2 60.9 64.4 62.9 62.5 64.1 61.2 62.1zM53 66.7 54.3 68.9 52.2 70.2 50.9 68.1zM78.7 55.6 79.9 57.7 77.9 59 76.6 56.9zM72.1 59.8 73.5 62.1 71.2 63.6 69.7 61.2zM61.9 66.2 63.1 68.2 61.2 69.4 59.9 67.4zM58.2 68 59.5 70 57.5 71.3 56.2 69.3zM55 70.3 56.4 72.5 54.2 73.9 52.8 71.7zM48 75 49.2 76.9 47.3 78.1 46.1 76.2zM70.8 65 72.3 67.4 69.9 68.9 68.4 66.5zM64.2 69.4 65.7 71.9 63.3 73.4 61.8 71zM86.3 60.1 87.8 62.6 85.3 64.1 83.8 61.7zM83.1 61.8 84.6 64.2 82.2 65.7 80.7 63.3zM72.9 68.9 74.2 70.9 72.1 72.2 70.9 70.2zM69.1 70.5 70.4 72.6 68.3 74 66.9 71.8zM65.7 72.9 66.9 74.9 64.9 76.1 63.7 74.2zM59.1 76.9 60.4 78.9 58.4 80.2 57.1 78.2zM95.3 59 96.7 61.3 94.4 62.7 93 60.4zM88.4 63.2 89.7 65.4 87.5 66.8 86.2 64.6zM85 65.9 86.2 67.9 84.3 69.1 83.1 67.1zM68.1 75.9 69.6 78.4 67.2 79.9 65.6 77.4zM61.1 80.3 62.5 82.6 60.2 84.1 58.7 81.7zM97.1 63 98.3 65.1 96.3 66.3 95 64.3zM90.4 67.2 91.7 69.2 89.6 70.5 88.4 68.5zM70.1 79.9 71.4 81.9 69.3 83.1 68.1 81.1zM82.7 76.3 84.2 78.8 81.7 80.4 80.2 77.9zM78.9 78.8 80.3 81.1 78 82.5 76.6 80.2zM75.6 81.1 77 83.3 74.8 84.7 73.5 82.5zM72.4 83.2 73.7 85.2 71.7 86.5 70.4 84.5zM65.5 86.9 67 89.2 64.7 90.7 63.2 88.3zM94.7 73.7 96 75.8 93.9 77.2 92.6 75.1zM100.6 75.4 101.8 77.4 99.8 78.6 98.6 76.6zM96.9 76.8 98.4 79.1 96 80.6 94.5 78.2zM83.5 85.7 84.9 87.9 82.7 89.3 81.4 87.1zM76.4 89.9 77.7 92.1 75.6 93.5 74.2 91.3zM109.4 74 110.8 76.3 108.6 77.7 107.2 75.4zM105.5 76.4 106.8 78.5 104.8 79.8 103.5 77.7zM89 86.8 90.3 88.8 88.3 90.2 86.9 88.1zM85.3 89 86.9 91.4 84.4 92.9 82.9 90.5zM110.2 82.9 111.7 85.2 109.3 86.7 107.9 84.3zM96.5 91.7 97.9 93.9 95.7 95.4 94.2 93.1zM90.1 95.3 91.6 97.7 89.1 99.2 87.6 96.8z"/>
<path fill="#7e7e7e" d="M17.7 14.8 19.5 16.3 18 18.1 16.2 16.6zM20.7 16.9 22.7 18.5 21 20.5 19.1 18.8zM18.2 20 20.4 21.9 18.6 24.1 16.3 22.3zM26.4 16.5 28.3 18.1 26.7 20 24.8 18.4zM24.1 19.8 26 21.4 24.4 23.4 22.5 21.7zM21.5 22.8 23.5 24.5 21.8 26.5 19.8 24.8zM22.3 34.1 24.1 35.6 22.6 37.4 20.8 35.9zM19.9 37.2 22 39 20.2 41.1 18.1 39.3zM17.4 40.3 19.4 42 17.7 43.9 15.7 42.3zM43.5 15.3 45.2 16.8 43.7 18.5 42 17zM27.8 33.5 29.7 35.1 28.1 37 26.3 35.4zM23.2 39.9 25.1 41.5 23.5 43.4 21.6 41.8zM17.6 45.8 19.6 47.5 17.9 49.5 15.9 47.8zM33.8 33.4 35.6 34.9 34.1 36.7 32.3 35.2zM28.6 38.7 30.9 40.6 29 42.8 26.7 40.9zM23.1 45.3 25.1 47 23.5 49 21.5 47.3zM18.3 51 20.5 52.8 18.6 54.9 16.5 53.1zM47 23.3 49 25 47.3 27 45.3 25.3zM44.7 26.4 46.8 28.1 45.1 30.1 43 28.4zM36.8 35.4 38.9 37.2 37.1 39.4 35 37.6zM31.8 42 33.8 43.6 32.1 45.6 30.1 44zM29.1 44.7 31 46.3 29.4 48.2 27.6 46.6zM18.6 56.7 20.8 58.5 19 60.6 16.8 58.8zM60.7 13.6 62.7 15.3 61 17.3 59 15.6zM52.7 22.6 54.6 24.2 53 26.1 51.1 24.5zM37 41.1 38.9 42.7 37.3 44.5 35.4 43zM19.1 62.6 21.2 64.3 19.4 66.4 17.4 64.6zM16.7 66 18.6 67.6 17 69.6 15.1 67.9zM63.3 16.2 65.1 17.7 63.6 19.6 61.8 18zM56 25.6 57.8 27.1 56.3 28.8 54.5 27.3zM25.1 62.4 27.2 64.1 25.4 66.2 23.4 64.4zM22.3 65.4 24.5 67.2 22.7 69.3 20.5 67.5zM19.9 68.5 22 70.2 20.3 72.2 18.2 70.5zM58.7 28.3 60.5 29.8 59 31.7 57.1 30.1zM56.2 31 58.2 32.7 56.6 34.6 54.6 33zM53.4 34.3 55.3 35.9 53.7 37.7 51.9 36.2zM51 37.4 52.9 39 51.3 40.9 49.4 39.3zM41.1 49.2 43.1 50.8 41.4 52.8 39.4 51.1zM33.3 58.4 35.5 60.3 33.6 62.5 31.4 60.6zM20 74.1 22.1 75.9 20.4 78 18.2 76.2zM17.6 76.7 19.9 78.6 18 80.9 15.7 79zM67.2 24.3 69.4 26.2 67.6 28.4 65.3 26.5zM61.7 30.8 63.7 32.5 62 34.4 60 32.8zM59.3 33.6 61.2 35.2 59.6 37.1 57.7 35.5zM46.5 48.9 48.4 50.5 46.8 52.4 44.9 50.8zM43.6 52.3 45.5 53.9 43.9 55.8 42 54.2zM23.1 76.3 25.1 78 23.4 80 21.4 78.3zM72.8 23.8 74.6 25.3 73.1 27.1 71.3 25.6zM65 33.2 66.9 34.7 65.3 36.6 63.5 35zM57.1 41.9 59.3 43.8 57.4 46.1 55.2 44.2zM54.4 45 56.6 46.9 54.7 49.1 52.5 47.2zM36.5 66.9 38.3 68.5 36.8 70.3 34.9 68.8zM33.8 69.7 35.8 71.3 34.1 73.3 32.2 71.6zM55 50.6 57.3 52.5 55.4 54.8 53.2 52.9zM37.1 72.4 39 74 37.4 76 35.5 74.4zM66 44.4 68.1 46.2 66.3 48.3 64.2 46.5zM45.6 69 47.5 70.6 45.9 72.4 44 70.9zM78.3 14.1 80.5 14.7 79.9 16.9 77.7 16.3zM77.3 17.3 79.7 17.9 79 20.3 76.6 19.7zM75.1 25 77.6 25.7 76.9 28.1 74.4 27.5zM78 29.8 80.5 30.5 79.8 33 77.3 32.4zM77 33.8 79.8 34.6 79 37.4 76.2 36.7zM84.3 23.2 87.1 23.9 86.3 26.7 83.5 26zM83.2 27.2 86 28 85.2 30.7 82.5 30zM80.2 39.3 82.4 39.9 81.8 42.1 79.6 41.5zM88.9 20.6 91.3 21.2 90.7 23.7 88.2 23zM85 35.9 87.3 36.5 86.7 38.8 84.4 38.2zM83.1 43.7 85.3 44.3 84.7 46.5 82.5 45.9zM94 17.9 96.7 18.6 96 21.2 93.3 20.5zM91.1 29.3 93.5 29.9 92.8 32.3 90.5 31.6zM89.7 33.1 92.2 33.7 91.5 36.2 89 35.5zM86.8 45.2 89 45.8 88.4 48.1 86.2 47.5zM94.9 30.3 97.2 31 96.6 33.3 94.2 32.7zM91.4 41.8 94 42.5 93.3 45.1 90.8 44.4zM89.4 49.7 91.7 50.3 91.1 52.5 88.8 51.9zM101.8 20 104.4 20.7 103.7 23.3 101.1 22.6zM97.3 35.4 99.8 36 99.2 38.6 96.6 37.9zM96.6 39.4 98.8 40 98.3 42.2 96 41.6zM94.4 47.3 96.7 47.9 96.1 50.1 93.9 49.5zM105.4 20.9 107.8 21.6 107.2 24.1 104.7 23.4zM103.2 28.6 105.5 29.2 104.9 31.5 102.6 30.9zM101.2 36.5 103.8 37.2 103.1 39.8 100.5 39.1zM100.5 40.2 103 40.9 102.4 43.4 99.9 42.7zM99.4 43.9 102.1 44.6 101.4 47.3 98.7 46.6zM98.4 47.8 101 48.5 100.3 51.1 97.7 50.4zM96.1 55.6 98.3 56.2 97.7 58.4 95.5 57.8zM111.3 14.1 113.5 14.7 112.9 16.9 110.7 16.3zM110.2 18.3 112.7 19 112.1 21.5 109.5 20.9zM108 25.3 110.9 26.1 110.1 28.9 107.3 28.1zM115.5 15.5 118 16.2 117.4 18.7 114.8 18zM114.6 19.1 116.9 19.7 116.3 22 114 21.4zM109.9 34.5 112.2 35.1 111.6 37.5 109.3 36.8zM106.8 45.8 109.6 46.5 108.8 49.3 106.1 48.5zM103.7 57.7 106.4 58.5 105.7 61.2 102.9 60.5zM102.7 61.5 105.1 62.2 104.5 64.6 102.1 63.9zM119.1 16.6 121.4 17.3 120.8 19.6 118.4 19zM114.2 35.7 116.7 36.4 116 38.9 113.5 38.2zM112.1 43.2 114.7 43.9 114 46.5 111.4 45.8zM111 47.2 113.7 47.9 113 50.5 110.3 49.8zM106.4 62.8 109 63.5 108.3 66 105.8 65.4zM116.5 40.5 119 41.1 118.3 43.6 115.9 42.9zM113.6 52.5 115.8 53.1 115.2 55.3 113 54.7zM127 18.2 129.5 18.9 128.8 21.4 126.3 20.7zM120.7 41.1 123.5 41.9 122.8 44.7 120 43.9zM119.4 45.6 121.9 46.3 121.2 48.8 118.7 48.1zM118.4 49.3 121 50 120.3 52.6 117.7 51.9zM115.7 60.8 118 61.4 117.4 63.7 115.1 63.1zM114.2 64.9 116.7 65.6 116 68.1 113.5 67.4zM113.3 68.6 115.8 69.2 115.1 71.7 112.7 71zM132 15.8 134.2 16.4 133.6 18.6 131.4 18zM129.8 23.7 132 24.3 131.4 26.5 129.2 25.9zM125.6 38.8 127.9 39.4 127.3 41.8 124.9 41.1zM121 53.8 123.8 54.5 123.1 57.3 120.3 56.6zM119.4 61.9 122 62.6 121.3 65.2 118.7 64.5zM117 69.2 119.7 69.9 119 72.6 116.3 71.9zM134.3 20.1 136.9 20.8 136.2 23.3 133.6 22.6zM127.2 47.5 129.6 48.2 128.9 50.5 126.6 49.9zM126.6 51.3 128.8 51.9 128.2 54.1 126 53.5zM125.6 55.5 127.8 56.1 127.2 58.3 125 57.7zM122.9 62.5 125.5 63.2 124.8 65.9 122.2 65.2zM119.9 74.7 122.4 75.4 121.7 77.8 119.3 77.2zM138.5 21.6 141.1 22.3 140.4 24.9 137.8 24.2zM137.1 24.9 139.8 25.7 139.1 28.4 136.3 27.7zM136.6 29 139.2 29.7 138.5 32.4 135.9 31.7zM127 64 129.8 64.7 129.1 67.5 126.3 66.8zM136 45.4 138.5 46.1 137.8 48.6 135.3 47.9zM130.9 64.9 133.7 65.6 132.9 68.4 130.1 67.7zM140 46.5 142.3 47.1 141.6 49.5 139.3 48.8zM136.8 58.6 139 59.2 138.4 61.4 136.2 60.8zM141.7 55.7 144.2 56.3 143.5 58.8 141 58.2zM15.4 118.9 17.8 118.1 18.6 120.6 16.2 121.4zM25.5 136.7 28 135.9 28.8 138.4 26.3 139.2zM15.4 93.6 17.6 92.9 18.3 95.1 16.1 95.8zM19.2 104.8 21.9 104 22.8 106.7 20 107.6zM21.4 112.5 23.9 111.6 24.7 114.1 22.2 114.9zM22.5 116.2 25.2 115.3 26.1 118 23.4 118.9zM24.3 120.1 26.8 119.2 27.7 121.8 25.1 122.6zM25.6 123.8 28.1 122.9 29 125.5 26.4 126.3zM16.8 84.9 19.2 84.1 20 86.5 17.6 87.3zM19.4 92.5 22.1 91.6 23 94.4 20.3 95.3zM21 96.6 23.2 95.9 23.9 98.1 21.7 98.8zM24.3 107.8 26.5 107.1 27.2 109.3 25 110zM25.9 111.8 28.1 111.1 28.8 113.3 26.6 114zM27.9 118.9 30.5 118 31.4 120.6 28.7 121.5zM29.3 122.9 31.9 122.1 32.7 124.6 30.2 125.4zM21.8 87.3 24.4 86.4 25.3 89 22.7 89.8zM24.5 95.3 26.9 94.5 27.7 96.9 25.2 97.7zM25.5 98.8 28.2 97.9 29.1 100.6 26.4 101.5zM30.3 113.9 33.1 113 34 115.8 31.2 116.7zM28.4 93.8 30.9 92.9 31.7 95.4 29.2 96.3zM33 108.9 35.6 108.1 36.4 110.6 33.8 111.5zM35.4 116.5 37.7 115.8 38.4 118.1 36.2 118.8zM39.2 128.1 41.4 127.4 42.1 129.6 39.9 130.3zM43 139.2 45.5 138.4 46.3 140.9 43.9 141.7zM29.5 84.8 31.8 84 32.5 86.3 30.3 87zM32.3 92.4 34.5 91.7 35.2 93.8 33 94.5zM35.4 103.6 38.1 102.7 39 105.4 36.3 106.3zM36 91.1 38.4 90.3 39.1 92.7 36.7 93.5zM38.2 98.9 40.4 98.2 41.2 100.5 38.9 101.2zM39.3 102.5 42.1 101.6 43 104.4 40.2 105.4zM44.1 117.6 46.7 116.7 47.5 119.3 44.9 120.2zM48.1 129.2 50.4 128.5 51.1 130.7 48.9 131.5zM49.2 133.3 51.7 132.5 52.5 135 50 135.8zM38.2 86.2 40.5 85.4 41.2 87.7 38.9 88.5zM40.8 93.6 43.5 92.7 44.3 95.4 41.7 96.2zM41.9 97.4 44.6 96.5 45.5 99.2 42.8 100.1zM43.2 101.7 45.8 100.8 46.6 103.4 44 104.3zM48 116.8 50.4 116 51.2 118.4 48.8 119.2zM50.5 124.2 53.1 123.4 53.9 126 51.3 126.9zM52 128.3 54.3 127.5 55 129.8 52.8 130.5zM45.9 96.2 48.5 95.3 49.3 97.9 46.7 98.8zM47.4 100.2 49.7 99.5 50.4 101.8 48.1 102.5zM52 115.7 54.4 114.9 55.2 117.4 52.8 118.2zM55.6 126.8 58.4 125.9 59.3 128.7 56.5 129.6zM58.5 134.4 60.8 133.7 61.5 135.9 59.2 136.7zM59.8 138.5 62 137.7 62.7 140 60.5 140.7zM46.8 87.6 49.4 86.7 50.2 89.3 47.6 90.2zM48.1 91.2 50.6 90.4 51.4 92.9 48.9 93.7zM49.7 95.3 51.9 94.6 52.6 96.8 50.4 97.5zM56.6 118.1 59.2 117.3 60.1 119.9 57.5 120.8zM58 121.7 60.5 120.9 61.3 123.4 58.8 124.2zM59.5 125.8 62.3 124.9 63.2 127.7 60.4 128.6zM61 129.6 63.4 128.8 64.1 131.2 61.8 132zM62 133.5 64.5 132.7 65.3 135.2 62.8 136zM50 82.7 52.2 82 53 84.2 50.7 85zM51 86.3 53.5 85.5 54.3 88 51.8 88.8zM55.9 101.3 58.4 100.5 59.2 103 56.7 103.8zM59.9 113 62.3 112.2 63.1 114.6 60.7 115.4zM66.2 132.3 68.4 131.6 69.2 133.8 66.9 134.5zM68 139.6 70.8 138.7 71.7 141.5 68.9 142.4zM62 107.9 64.3 107.2 65 109.4 62.8 110.2zM63.3 112 65.5 111.3 66.2 113.5 64 114.2zM65.6 119.1 68.4 118.2 69.3 121 66.5 121.9zM66.8 122.9 69.6 122 70.5 124.7 67.7 125.6zM69.7 130.8 71.9 130.1 72.6 132.2 70.4 132.9zM70.5 134.3 73.2 133.4 74.1 136.2 71.4 137.1zM60 87.6 62.6 86.7 63.4 89.3 60.9 90.1zM64.5 103 67.1 102.1 68 104.8 65.4 105.6zM65.8 93.8 68.2 93 69 95.4 66.6 96.2zM68.5 101.3 71.1 100.5 72 103.1 69.3 104zM71.3 109.1 73.7 108.4 74.5 110.7 72.1 111.5zM74.3 120.7 77 119.8 77.9 122.5 75.2 123.3zM77.4 128 80 127.2 80.8 129.7 78.3 130.5zM78.3 131.9 80.6 131.1 81.4 133.4 79.1 134.1zM79.4 136.1 81.9 135.3 82.7 137.7 80.2 138.5zM80.9 139.4 83.7 138.5 84.6 141.3 81.8 142.2zM75 108.2 77.4 107.4 78.1 109.8 75.7 110.6zM78.6 119.3 80.8 118.6 81.6 120.8 79.3 121.6zM80 123.3 82.4 122.5 83.1 124.9 80.8 125.7zM78.6 107.1 80.9 106.4 81.7 108.7 79.4 109.4zM82.5 118.3 84.9 117.5 85.7 119.9 83.2 120.7zM82.3 105.5 84.9 104.6 85.7 107.2 83.1 108zM85.1 113 87.4 112.2 88.1 114.5 85.9 115.2zM86.9 120.9 89.7 120 90.6 122.8 87.8 123.7zM86.2 104.5 88.4 103.8 89.2 106 86.9 106.7zM97.1 95.8 99.6 97.3 98.1 99.8 95.6 98.3zM106.8 87.4 109.1 88.7 107.8 91 105.5 89.7zM97 105 99 106.1 97.8 108.1 95.8 107zM92.7 111.7 94.9 113 93.7 115.3 91.4 114zM116.3 79.2 118.5 80.4 117.2 82.6 115 81.4zM110.4 89.6 112.6 90.9 111.3 93.1 109.2 91.8zM108 92.4 110.5 93.9 109 96.4 106.5 94.9zM106 96.2 108.2 97.4 107 99.6 104.8 98.3zM104.4 99.7 106.7 101 105.4 103.4 103 102zM119.4 80.8 121.9 82.2 120.5 84.6 118 83.2zM109.4 98.5 111.6 99.8 110.3 101.9 108.2 100.7zM93.4 125.7 95.9 127.2 94.5 129.6 92 128.2zM123 83 125 84.2 123.9 86.1 121.9 85zM119.3 89.5 121.8 91 120.3 93.5 117.8 92zM117.3 93.3 119.3 94.4 118.2 96.4 116.2 95.3zM113.3 100.4 115.5 101.7 114.3 103.9 112 102.6zM111.4 103.5 113.6 104.8 112.3 107 110.1 105.7zM105.2 114.1 107.7 115.6 106.3 118 103.8 116.6zM95 131.6 97.1 132.8 95.9 135 93.8 133.8zM132.4 74.4 134.7 75.7 133.4 78.1 131 76.7zM130.6 78.2 132.8 79.5 131.5 81.7 129.3 80.4zM118.7 98.8 121.2 100.2 119.8 102.7 117.3 101.3zM108.7 116.4 110.7 117.5 109.5 119.5 107.6 118.3zM104.7 123.3 106.9 124.5 105.7 126.7 103.5 125.5zM137.9 73 140 74.2 138.8 76.3 136.7 75.1zM129.9 87.2 131.9 88.4 130.7 90.4 128.7 89.2zM127.9 90.4 130.3 91.8 128.9 94.2 126.5 92.8zM112.2 118.4 114.3 119.6 113.1 121.6 111.1 120.4zM106.2 128.6 108.7 130.1 107.3 132.6 104.8 131.1zM102.3 135.8 104.4 137 103.2 139.2 101 137.9zM141.7 74.9 144 76.2 142.7 78.6 140.4 77.2zM139.5 78.7 141.9 80.1 140.5 82.5 138.1 81.1zM125.3 103.1 127.5 104.4 126.3 106.6 124.1 105.3zM109.8 130.8 111.8 132 110.7 134 108.7 132.8zM107.4 134 109.5 135.2 108.3 137.3 106.2 136.1zM105.4 137.4 107.8 138.8 106.4 141.1 104.1 139.8zM141 84.5 142.9 85.7 141.8 87.7 139.8 86.5zM132.8 97.5 135.3 99 133.9 101.5 131.3 100zM128.9 105.2 130.9 106.4 129.7 108.3 127.8 107.2zM142.7 89.6 144.7 90.7 143.5 92.8 141.5 91.6zM138.5 96.2 141 97.6 139.6 100.1 137.1 98.7zM136.4 99.6 138.7 100.9 137.4 103.2 135.1 101.9zM124.3 120.3 126.8 121.7 125.4 124.2 122.9 122.8zM120.2 127.6 122.5 128.9 121.1 131.1 118.9 129.8zM140.1 101.6 142.6 103.1 141.1 105.6 138.6 104.1zM131.9 115.9 134.1 117.2 132.8 119.5 130.6 118.2zM137.4 114 139.9 115.5 138.4 118 135.9 116.6zM125.5 135 128 136.4 126.6 138.8 124.2 137.5zM132.7 130.2 134.9 131.4 133.6 133.6 131.5 132.3zM134.4 135.4 136.5 136.7 135.3 138.8 133.1 137.6zM142.1 130.8 144.1 132 142.9 134 140.9 132.8zM140 134.1 142.3 135.4 141 137.7 138.7 136.4zM138 137.7 140.3 139.1 139 141.4 136.7 140zM75.8 43 77.2 45.3 74.9 46.7 73.4 44.4zM72.5 45 74.1 47.5 71.6 49 70.1 46.5zM81.5 44 82.9 46.3 80.7 47.7 79.3 45.4zM71.4 50.5 72.8 52.8 70.5 54.2 69 51.9zM83.4 48 84.8 50.2 82.6 51.6 81.2 49.3zM80.2 49.8 81.7 52.1 79.3 53.6 77.9 51.3zM76.4 52.2 77.6 54.1 75.7 55.3 74.5 53.4zM59.5 62.5 60.9 64.7 58.7 66.1 57.3 63.9zM85.7 51.5 86.9 53.4 84.9 54.6 83.7 52.7zM82.3 53.7 83.5 55.6 81.6 56.8 80.4 54.9zM51.6 72.5 53 74.7 50.7 76.2 49.3 73.9zM90.8 52.6 92.2 54.9 89.9 56.3 88.5 54.1zM84.6 56.2 86.1 58.7 83.6 60.2 82.1 57.8zM81.1 58.8 82.5 61.1 80.3 62.5 78.9 60.2zM77.1 61 78.4 63 76.4 64.2 75.2 62.3zM67 67.2 68.4 69.3 66.2 70.7 64.9 68.5zM56.9 73.6 58.2 75.7 56.1 77 54.8 74.9zM50.6 77.6 52 79.9 49.7 81.3 48.3 79zM75.1 72.1 76.5 74.4 74.2 75.8 72.8 73.5zM71.5 73.9 72.9 76.1 70.7 77.5 69.3 75.3zM80.7 72.8 82.2 75.2 79.8 76.7 78.3 74.3zM73.5 77.2 75.1 79.7 72.6 81.2 71.1 78.7zM66.9 81.7 68.2 83.9 66.1 85.2 64.7 83zM63.6 84.2 64.9 86.3 62.9 87.6 61.6 85.5zM96.2 68.2 97.7 70.6 95.3 72.1 93.8 69.7zM92.8 70.2 94.1 72.4 91.9 73.8 90.5 71.6zM86 74.4 87.3 76.5 85.2 77.9 83.8 75.7zM101.7 69.8 102.9 71.8 100.9 73 99.7 71zM98.1 71.7 99.3 73.6 97.4 74.8 96.2 72.9zM87.8 78 89.1 80.1 87 81.4 85.7 79.4zM90.3 81 91.8 83.4 89.4 84.9 87.9 82.5zM86.8 83.1 88.2 85.4 85.9 86.8 84.5 84.5zM73.1 91.5 74.5 93.8 72.2 95.3 70.8 93zM112.3 72.3 113.6 74.4 111.5 75.6 110.3 73.6zM95.7 82.3 97.1 84.7 94.8 86.1 93.3 83.8zM92.4 84.6 93.8 86.7 91.7 88 90.3 85.9zM78.9 93.1 80.5 95.5 78 97 76.5 94.6zM111.4 77 112.9 79.4 110.5 80.9 109 78.5zM107.9 79.4 109.4 81.8 107 83.3 105.5 80.9zM104.6 81.7 106.1 84.2 103.7 85.8 102.1 83.3zM94.6 87.8 96 90 93.8 91.4 92.5 89.2zM87.8 92.5 89.1 94.6 87 95.9 85.7 93.8zM100 88.9 101.6 91.3 99.1 92.9 97.5 90.4zM93.1 93.2 94.6 95.6 92.2 97.1 90.7 94.7zM86.1 97.6 87.6 100.1 85.2 101.6 83.7 99.1zM98.8 94.9 100.1 96.9 98.1 98.2 96.8 96.1zM91.9 98.6 93.4 101 91 102.5 89.6 100.1z"/>
</g>
<defs><filter id="soft" x="-50%" y="-50%" width="200%" height="200%"><feGaussianBlur stdDeviation="5"/></filter></defs>
<g clip-path="url(#ca)" filter="url(#soft)" opacity="0.35"><ellipse cx="72" cy="72" rx="16" ry="9" fill="#c4c4c4"/><ellipse cx="105" cy="98" rx="16" ry="18" fill="#c4c4c4"/></g>
<circle cx="66" cy="78" r="1.1" fill="#3a3a3a" opacity="0.8"/>
<circle cx="90" cy="92" r="1.1" fill="#3a3a3a" opacity="0.8"/>
<circle cx="33" cy="122" r="1.1" fill="#3a3a3a" opacity="0.8"/>
<circle cx="110" cy="120" r="1.1" fill="#3a3a3a" opacity="0.8"/>
<circle cx="48" cy="50" r="1.1" fill="#3a3a3a" opacity="0.8"/>
<circle cx="125" cy="70" r="1.1" fill="#3a3a3a" opacity="0.8"/>
<circle cx="78" cy="110" r="1.1" fill="#3a3a3a" opacity="0.8"/>
<circle cx="100" cy="52" r="1.1" fill="#3a3a3a" opacity="0.8"/>
<clipPath id="cb"><rect x="19" y="182" width="121" height="120"/></clipPath>
<rect x="19" y="182" width="121" height="120" fill="#a9a9a9"/>
<g clip-path="url(#cb)" filter="url(#tblur)">
<path fill="#5e5e5e" d="M23 181 24.8 182.3 23.5 184.1 21.7 182.8zM28.2 180.3 30 181.6 28.7 183.4 26.9 182.1zM26 183.3 27.7 184.5 26.5 186.1 24.8 185zM23.8 186.2 25.5 187.4 24.3 189 22.7 187.9zM22.1 189.1 23.7 190.3 22.6 191.9 21 190.8zM17.9 195.1 19.6 196.3 18.4 198 16.7 196.8zM15.9 198 17.5 199.2 16.4 200.8 14.7 199.7zM33.1 179.4 35 180.7 33.7 182.6 31.8 181.3zM20.9 197.3 22.5 198.4 21.4 200 19.8 198.9zM38 178.7 39.9 180 38.6 181.9 36.6 180.6zM34.2 184.6 35.9 185.8 34.7 187.5 33 186.3zM30.1 190.5 31.7 191.7 30.6 193.4 28.9 192.2zM25.8 196 27.8 197.4 26.4 199.4 24.4 198zM23.5 199.3 25.2 200.5 24 202.1 22.4 201zM16.4 216.1 18.3 217.4 16.9 219.3 15 218zM46.1 179.9 47.8 181.1 46.6 182.8 44.9 181.6zM44 183.1 45.6 184.2 44.5 185.7 42.9 184.7zM38 191.8 39.8 193.1 38.5 194.8 36.8 193.6zM33.7 197.8 35.2 198.9 34.1 200.4 32.6 199.4zM31.5 200.7 33.2 201.8 32 203.5 30.4 202.3zM27.7 206.5 29.5 207.8 28.2 209.6 26.4 208.3zM19.1 218.2 21 219.5 19.6 221.4 17.8 220.1zM46.8 184.7 48.6 185.9 47.4 187.7 45.6 186.5zM40.7 194 42.4 195.1 41.2 196.7 39.6 195.6zM38.5 196.5 40.4 197.9 39.1 199.7 37.2 198.4zM34.8 202.3 36.8 203.7 35.4 205.7 33.4 204.3zM26.6 214.3 28.4 215.5 27.1 217.4 25.3 216.1zM54.2 180.9 55.9 182 54.7 183.7 53.1 182.5zM41.6 198.6 43.5 200 42.1 201.9 40.2 200.6zM39.6 201.9 41.2 203.1 40.1 204.7 38.4 203.6zM33.4 210.7 35 211.8 33.9 213.4 32.3 212.3zM29.4 216.3 31.3 217.6 30 219.5 28.1 218.2zM25.2 222.2 26.9 223.4 25.7 225 24.1 223.9zM59 180.2 60.9 181.5 59.6 183.3 57.8 182.1zM55.1 186.2 57 187.4 55.7 189.2 53.9 188zM53.1 189.2 54.8 190.3 53.6 192 52 190.8zM46.6 198 48.3 199.2 47.1 200.9 45.4 199.7zM44.6 200.7 46.4 202 45.1 203.9 43.3 202.6zM38.3 209.5 40.1 210.8 38.8 212.6 37 211.3zM36.5 212.5 38.2 213.7 37 215.4 35.3 214.2zM28.2 223.9 30.2 225.3 28.8 227.3 26.8 225.9zM15.5 242.1 17.5 243.4 16.1 245.4 14.1 244zM64 179.4 65.7 180.6 64.5 182.2 62.8 181.1zM61.8 182.1 63.8 183.5 62.4 185.5 60.5 184.1zM57.8 188.3 59.5 189.5 58.3 191.2 56.6 190zM53.8 193.8 55.7 195.1 54.4 197 52.5 195.7zM47.7 202.8 49.4 203.9 48.2 205.6 46.5 204.4zM37.2 217.5 39.1 218.9 37.8 220.8 35.8 219.5zM35.2 220.5 37.1 221.9 35.7 223.8 33.8 222.4zM33.3 223.5 34.9 224.7 33.8 226.3 32.1 225.1zM62.9 187.3 64.7 188.6 63.5 190.4 61.7 189.1zM60.8 190.1 62.7 191.5 61.4 193.4 59.5 192.1zM54.5 198.9 56.4 200.3 55 202.3 53.1 200.9zM46.5 210.5 48.4 211.8 47.1 213.6 45.3 212.4zM40 219.3 42 220.7 40.6 222.6 38.6 221.2zM36 225.2 38 226.6 36.6 228.6 34.6 227.2zM34.1 228.5 35.8 229.6 34.6 231.2 33 230.1zM32.1 231.2 33.8 232.4 32.6 234.2 30.8 233zM17.7 252.4 19.2 253.5 18.1 255 16.6 253.9zM72.2 180.6 74 181.8 72.8 183.6 71 182.3zM65.8 189.4 67.4 190.5 66.3 192.1 64.7 191zM59.7 198.2 61.6 199.5 60.2 201.4 58.4 200zM57.7 201.3 59.4 202.4 58.2 204.1 56.5 203zM55.7 203.7 57.6 205 56.3 207 54.4 205.6zM39.2 227.7 41 228.9 39.8 230.7 38 229.5zM35 233.3 36.9 234.6 35.6 236.6 33.6 235.2zM32.9 236.2 34.7 237.5 33.4 239.3 31.6 238zM30.7 239.5 32.5 240.8 31.3 242.6 29.5 241.3zM28.5 242.6 30.3 243.8 29 245.5 27.3 244.3zM26.8 245.6 28.4 246.7 27.3 248.3 25.7 247.2zM22.6 251.3 24.3 252.5 23.1 254.2 21.4 253zM77.1 179.4 78.9 180.7 77.6 182.5 75.9 181.2zM72.8 185.5 74.7 186.8 73.4 188.7 71.5 187.4zM69 191.3 70.8 192.5 69.5 194.2 67.8 193zM27.6 250.5 29.3 251.7 28.1 253.4 26.4 252.2zM25.5 253.1 27.5 254.5 26.1 256.4 24.2 255.1zM17.2 264.9 19 266.2 17.7 268 15.9 266.7zM82.1 178.6 83.8 179.8 82.6 181.5 80.9 180.3zM73.9 190.1 75.8 191.5 74.5 193.5 72.5 192.1zM63.6 205.3 65.4 206.6 64.1 208.4 62.3 207.1zM61.6 208.1 63.3 209.2 62.1 210.9 60.5 209.7zM55.4 216.9 57.1 218 55.9 219.7 54.2 218.5zM53.1 220.1 54.7 221.2 53.6 222.8 52 221.7zM42.9 235 44.5 236.1 43.4 237.7 41.8 236.6zM38.9 240.4 40.6 241.7 39.4 243.4 37.6 242.2zM20.1 267.1 21.8 268.3 20.6 269.9 19 268.8zM87.1 177.7 88.8 178.9 87.6 180.6 85.9 179.4zM76.9 192.6 78.7 193.9 77.4 195.7 75.6 194.4zM74.7 195.6 76.4 196.8 75.2 198.6 73.5 197.3zM72.6 198.2 74.4 199.5 73.1 201.3 71.3 200zM68.7 204.2 70.7 205.6 69.3 207.5 67.4 206.2zM62.4 213.1 64.1 214.3 63 216 61.2 214.8zM60.4 216 62.1 217.2 60.9 218.8 59.3 217.7zM54.1 224.8 55.9 226 54.6 227.8 52.8 226.6zM51.9 227.8 53.7 229.1 52.5 230.9 50.7 229.6zM17.1 277.7 18.9 279 17.6 280.9 15.8 279.6zM75.7 200.7 77.4 201.8 76.2 203.5 74.5 202.3zM65.3 215.2 66.9 216.3 65.8 217.9 64.2 216.8zM57.1 226.9 58.9 228.2 57.6 230 55.8 228.7zM50.7 235.7 52.5 237 51.2 238.9 49.4 237.6zM49 238.7 50.8 240 49.5 241.9 47.7 240.6zM44.8 244.4 46.7 245.7 45.4 247.6 43.5 246.3zM42.4 247.5 44.2 248.8 43 250.6 41.2 249.3zM40.7 250.6 42.6 251.9 41.2 253.9 39.3 252.5zM34.4 259.3 36.3 260.7 35 262.6 33 261.2zM26.1 271.4 27.7 272.5 26.6 274.1 25 273zM22.1 277.4 23.8 278.6 22.6 280.3 20.8 279.1zM84.9 193.6 86.9 195 85.5 197 83.5 195.6zM76.4 205.7 78.1 206.9 76.9 208.6 75.2 207.4zM74.3 208.5 75.9 209.5 74.8 211.1 73.2 210zM72.5 211.4 74.1 212.5 72.9 214.1 71.4 213zM70.2 214.1 71.9 215.3 70.7 217.1 69 215.9zM68.1 217.1 70.1 218.5 68.7 220.5 66.7 219.1zM59.9 229 61.6 230.2 60.4 231.9 58.7 230.7zM58 231.9 59.8 233.2 58.5 235 56.7 233.7zM49.7 243.8 51.5 245.1 50.2 246.9 48.4 245.6zM47.6 246.8 49.2 247.9 48.1 249.5 46.5 248.4zM43.3 252.6 45.1 253.9 43.9 255.7 42.1 254.4zM41.2 255.8 43 257.1 41.8 258.8 40 257.6zM39.5 258.8 41.1 259.9 40 261.5 38.4 260.4zM37.3 261.9 38.9 263 37.8 264.5 36.2 263.4zM33.1 267.2 35.1 268.6 33.7 270.6 31.7 269.2zM31.1 270.5 32.9 271.7 31.6 273.5 29.9 272.2zM29 272.9 30.9 274.3 29.6 276.3 27.6 274.9zM26.8 276.3 28.4 277.4 27.3 279 25.7 277.9zM16.8 291.1 18.6 292.4 17.3 294.3 15.5 293zM94.1 187.1 95.7 188.3 94.6 189.9 92.9 188.8zM83.7 201.7 85.4 202.9 84.2 204.7 82.5 203.4zM73.2 216.1 75.1 217.5 73.8 219.4 71.9 218zM71.3 219.5 73 220.6 71.8 222.3 70.1 221.2zM67.1 225.1 69.1 226.5 67.7 228.5 65.7 227.1zM60.9 234.1 62.6 235.3 61.4 237.1 59.6 235.9zM50.5 248.9 52.5 250.2 51.1 252.2 49.2 250.8zM48.5 251.6 50.3 252.8 49 254.6 47.2 253.4zM46.4 254.7 48.1 255.9 46.9 257.6 45.2 256.4zM38.2 266.2 40.1 267.6 38.8 269.5 36.9 268.1zM36.2 269.5 38.1 270.8 36.8 272.7 34.9 271.3zM32.1 275.2 33.8 276.4 32.6 278.1 30.9 276.9zM19.6 293.1 21.3 294.3 20.1 296 18.4 294.8zM17.6 295.8 19.3 297 18.1 298.7 16.4 297.6zM92.7 194.6 94.5 195.9 93.2 197.7 91.4 196.4zM80.3 212.4 82.3 213.8 80.9 215.8 78.8 214.4zM63.9 236 65.8 237.3 64.4 239.2 62.5 237.9zM61.9 239.3 63.6 240.5 62.4 242.1 60.7 241zM51.6 253.8 53.2 255 52.1 256.6 50.4 255.5zM47.3 259.5 49.2 260.8 47.8 262.7 45.9 261.4zM40.9 268.8 42.6 270 41.4 271.6 39.8 270.4zM39.2 271.6 40.8 272.7 39.6 274.3 38 273.2zM30.7 283.4 32.4 284.6 31.2 286.3 29.5 285.1zM105.9 181.8 107.9 183.2 106.5 185.1 104.5 183.8zM95.9 196.9 97.5 198 96.3 199.6 94.7 198.5zM79.3 220.5 81.1 221.8 79.8 223.7 78 222.4zM72.8 229.1 74.8 230.5 73.4 232.5 71.4 231.1zM68.9 235.5 70.6 236.7 69.4 238.4 67.7 237.2zM60.7 247.1 62.3 248.2 61.2 249.7 59.6 248.7zM58.3 250.2 60 251.4 58.8 253 57.2 251.9zM56.4 252.7 58.3 254 57 255.9 55.1 254.6zM50.4 261.4 52.4 262.8 51 264.8 49 263.4zM48 265 49.7 266.2 48.5 267.9 46.8 266.7zM44.2 270.4 46.1 271.7 44.8 273.6 42.9 272.3zM25.5 297.3 27.3 298.6 26 300.3 24.3 299.1zM110.8 181.1 112.5 182.3 111.3 184 109.6 182.8zM106.8 187.4 108.4 188.6 107.3 190.2 105.7 189zM79.8 225.2 81.8 226.5 80.4 228.5 78.4 227.1zM78.1 228.5 79.8 229.7 78.6 231.4 76.9 230.2zM71.6 237.5 73.3 238.7 72.1 240.4 70.5 239.2zM61.5 251.8 63.4 253.1 62 255 60.2 253.7zM59.3 254.9 61.2 256.2 59.9 258.1 58 256.8zM55 261.1 56.8 262.3 55.6 264.1 53.8 262.8zM48.9 269.9 50.5 270.9 49.4 272.5 47.8 271.4zM47.2 272.6 49.2 274 47.8 276 45.8 274.6zM44.8 275.7 46.6 276.9 45.4 278.7 43.6 277.4zM36.5 287.5 38.4 288.8 37.1 290.8 35.2 289.4zM30.7 296.4 32.3 297.6 31.2 299.2 29.6 298.1zM115.8 180.4 117.8 181.8 116.4 183.8 114.4 182.4zM107.7 192 109.5 193.2 108.3 195.1 106.4 193.8zM101.6 200.8 103.6 202.2 102.2 204.2 100.2 202.8zM97.4 207.2 99.1 208.4 97.9 210 96.2 208.9zM78.9 233.4 80.6 234.6 79.4 236.3 77.7 235.1zM76.8 236.6 78.3 237.7 77.3 239.3 75.7 238.2zM64.3 254.3 66 255.5 64.8 257.2 63.1 256zM60.4 259.8 62.3 261.2 61 263.1 59.1 261.7zM49.8 274.8 51.4 275.9 50.3 277.4 48.7 276.3zM47.8 277.6 49.6 278.9 48.3 280.8 46.4 279.5zM33.5 298.1 35.4 299.4 34.1 301.4 32.1 300zM121.1 179.4 123.1 180.8 121.7 182.8 119.7 181.4zM110.5 194.5 112.2 195.7 111 197.4 109.3 196.2zM108.6 197.3 110.2 198.5 109.1 200.2 107.4 199zM100.4 208.9 102.3 210.2 100.9 212.2 99 210.8zM98.2 211.8 100.1 213.1 98.8 215 96.9 213.7zM92 220.8 93.8 222.1 92.5 223.9 90.7 222.6zM87.8 226.7 89.5 227.9 88.3 229.6 86.6 228.4zM81.8 235.3 83.7 236.6 82.4 238.5 80.5 237.1zM75.5 244.6 77.1 245.7 76 247.4 74.4 246.2zM63.2 262 65.2 263.3 63.8 265.3 61.9 263.9zM58.9 267.8 60.9 269.2 59.5 271.2 57.5 269.8zM50.6 279.7 52.4 281 51.1 282.8 49.3 281.5zM38.5 297.5 40.4 298.8 39.1 300.7 37.2 299.4zM36.2 300.3 38 301.6 36.7 303.4 34.9 302.1zM34.4 303.1 36.2 304.4 34.9 306.3 33 305zM126.1 179 127.7 180.1 126.6 181.6 125 180.6zM123.8 181.6 125.6 182.8 124.4 184.5 122.6 183.3zM119.8 187.8 121.4 188.9 120.3 190.4 118.7 189.3zM99 216.9 100.8 218.2 99.6 220 97.8 218.7zM97.2 219.9 99 221.1 97.7 222.9 95.9 221.7zM95.1 222.7 96.9 224 95.6 225.7 93.9 224.5zM91 228.9 92.5 230 91.5 231.5 89.9 230.4zM80.7 243.6 82.5 244.9 81.2 246.8 79.4 245.5zM78.6 246.6 80.3 247.8 79.1 249.5 77.4 248.3zM72.4 255.5 74.1 256.7 72.9 258.4 71.2 257.2zM64.3 267.1 66.1 268.4 64.8 270.2 63 268.9zM57.9 276.1 59.5 277.2 58.4 278.8 56.8 277.7zM47.6 290.9 49.2 292 48.1 293.6 46.5 292.5zM45.5 293.6 47.2 294.8 46 296.5 44.3 295.3zM43.3 296.6 44.9 297.7 43.7 299.3 42.1 298.2zM131 177.5 132.9 178.8 131.5 180.7 129.6 179.4zM129.2 180.7 130.9 181.9 129.7 183.6 128 182.4zM124.8 186.8 126.3 187.9 125.2 189.5 123.7 188.4zM122.8 189.4 124.7 190.7 123.4 192.6 121.5 191.3zM118.6 195.5 120.3 196.7 119.1 198.4 117.4 197.2zM114.4 201.1 116.2 202.4 115 204.2 113.2 202.9zM110.2 207.1 112 208.3 110.8 210.2 108.9 208.9zM100.2 221.9 101.8 223.1 100.7 224.8 99 223.6zM95.8 227.8 97.7 229.2 96.4 231.1 94.4 229.7zM94 231 95.6 232.1 94.5 233.7 92.9 232.6zM87.6 239.7 89.2 240.8 88.1 242.4 86.5 241.3zM73.2 260.4 75.1 261.7 73.8 263.5 71.9 262.2zM69.3 266.4 71 267.6 69.8 269.3 68 268.1zM67.2 269.2 69.1 270.6 67.8 272.5 65.8 271.2zM48.4 295.7 50 296.8 48.8 298.4 47.2 297.3zM129.7 185.7 131.4 186.9 130.2 188.6 128.5 187.4zM125.7 191.6 127.4 192.8 126.2 194.5 124.5 193.3zM123.8 194.7 125.5 195.9 124.3 197.6 122.6 196.4zM115.2 206.4 117.2 207.8 115.8 209.8 113.8 208.4zM113.4 209.3 115.4 210.7 114 212.7 112 211.3zM109.2 215.3 111.1 216.6 109.7 218.4 107.9 217.1zM94.8 235.5 96.7 236.8 95.4 238.7 93.5 237.4zM92.5 239 94.1 240.1 93 241.6 91.5 240.5zM90.7 241.9 92.2 243 91.1 244.6 89.6 243.5zM80.3 256.6 82.2 257.9 80.9 259.7 79.1 258.4zM78.4 259.3 80.3 260.5 79 262.3 77.2 261.1zM61.7 283 63.5 284.2 62.3 286.1 60.4 284.8zM59.9 286.2 61.5 287.4 60.4 289 58.7 287.9zM55.5 291.8 57.1 292.9 56 294.5 54.4 293.4zM53.7 294.9 55.5 296.2 54.2 298.1 52.4 296.8zM51.6 298 53.2 299.2 52.1 300.9 50.4 299.7zM49.2 300.9 51.1 302.1 49.8 303.9 48 302.7zM134.7 184.5 136.7 185.9 135.3 187.9 133.3 186.5zM130.9 190.8 132.8 192.1 131.5 194 129.6 192.7zM103.9 229.1 105.8 230.4 104.5 232.3 102.6 231zM99.6 235.1 101.3 236.2 100.1 237.9 98.4 236.7zM97.6 237.9 99.3 239.1 98.1 240.8 96.3 239.6zM93.5 243.9 95.1 245.1 94 246.7 92.3 245.6zM87.5 252.6 89.5 254 88.1 256 86.1 254.6zM79 264.7 80.8 265.9 79.6 267.6 77.8 266.4zM74.9 270.2 76.9 271.6 75.5 273.6 73.5 272.2zM73.1 273 75 274.4 73.7 276.3 71.8 275zM68.9 279.4 70.5 280.5 69.4 282 67.9 280.9zM64.7 284.9 66.5 286.2 65.2 288.1 63.4 286.8zM56.4 296.6 58.3 298 56.9 299.9 55 298.6zM54.5 300 56.3 301.3 55 303.1 53.2 301.8zM141.9 181 143.5 182.1 142.4 183.8 140.8 182.6zM137.8 187 139.5 188.3 138.3 190.1 136.5 188.8zM135.7 189.9 137.5 191.1 136.2 192.9 134.5 191.7zM131.6 195.7 133.3 197 132.1 198.8 130.3 197.5zM129.6 198.5 131.3 199.7 130.1 201.4 128.4 200.3zM125.6 204.2 127.6 205.6 126.2 207.6 124.2 206.2zM123.5 207.3 125.2 208.6 124 210.4 122.2 209.1zM121.2 210.6 122.9 211.8 121.7 213.6 119.9 212.4zM100.6 239.8 102.4 241.1 101.1 242.8 99.3 241.6zM98.4 243 100.3 244.3 99 246.2 97.1 244.9zM94.5 248.8 96.2 250 95 251.8 93.2 250.6zM92.3 251.7 94.4 253.1 92.9 255.1 90.9 253.7zM90.5 254.6 92.4 255.8 91.1 257.7 89.2 256.4zM73.9 278.6 75.5 279.6 74.4 281.2 72.8 280.1zM71.6 281.5 73.2 282.6 72.1 284.2 70.5 283.1zM59.4 298.8 61.2 300 59.9 301.8 58.1 300.6zM57.4 302 59 303.1 57.9 304.7 56.3 303.6zM138.8 191.9 140.6 193.1 139.4 194.8 137.7 193.6zM136.8 195 138.6 196.3 137.3 198.1 135.5 196.8zM132.8 200.8 134.4 202 133.3 203.6 131.6 202.5zM128.6 207 130.2 208.1 129.1 209.6 127.5 208.5zM122.2 215.2 124.1 216.6 122.7 218.5 120.8 217.1zM111.8 230 113.7 231.4 112.3 233.3 110.4 231.9zM105.8 239.2 107.3 240.3 106.2 241.9 104.7 240.8zM95.3 253.5 97.2 254.9 95.9 256.9 93.9 255.5zM84.8 268.6 86.6 269.9 85.3 271.6 83.6 270.4zM81 274.6 82.7 275.7 81.5 277.4 79.8 276.2zM76.8 280.3 78.8 281.6 77.4 283.6 75.4 282.2zM68.4 292.4 70.1 293.6 68.9 295.3 67.1 294.1zM66.5 294.7 68.5 296.1 67.1 298.2 65.1 296.7zM64.5 298 66.5 299.5 65.1 301.5 63.1 300.1zM133.5 205.7 135.1 206.8 134 208.5 132.3 207.3zM125.3 217.6 126.9 218.7 125.8 220.2 124.3 219.1zM123 220.6 124.7 221.9 123.5 223.6 121.8 222.4zM119 226.4 120.9 227.8 119.6 229.7 117.7 228.3zM117.1 229.7 118.6 230.8 117.5 232.4 116 231.3zM112.9 235.4 114.5 236.6 113.4 238.2 111.7 237.1zM106.5 244.3 108.2 245.5 107 247.2 105.3 246zM96.1 258.9 97.7 260 96.6 261.6 95 260.5zM88 270.5 89.8 271.7 88.6 273.5 86.8 272.3zM75.5 288.7 77 289.8 76 291.3 74.4 290.2zM65.1 303 66.8 304.2 65.6 306 63.8 304.8zM142.8 198.7 144.6 200 143.3 201.9 141.5 200.6zM134.4 210.7 136 211.9 134.9 213.5 133.2 212.4zM130.2 216.5 132.2 217.9 130.8 219.9 128.9 218.5zM125.8 222.8 127.6 224 126.4 225.8 124.6 224.5zM113.5 240.4 115.4 241.7 114.1 243.6 112.2 242.3zM111.4 243.2 113.1 244.4 111.9 246.1 110.2 244.9zM109.5 246.1 111.2 247.3 110 249 108.3 247.8zM107.6 249.1 109.2 250.3 108.1 251.9 106.5 250.8zM90.9 272.6 92.9 274 91.5 276 89.5 274.6zM78.6 290.5 80.3 291.7 79.1 293.4 77.4 292.2zM135.4 215.7 137.2 217 135.9 218.9 134.1 217.6zM131.1 221.8 132.9 223.1 131.7 224.8 129.9 223.6zM128.8 224.4 130.7 225.8 129.3 227.6 127.5 226.3zM118.8 239.6 120.5 240.8 119.3 242.4 117.6 241.3zM114.7 245.4 116.4 246.6 115.2 248.3 113.5 247.1zM112.3 248.5 113.9 249.7 112.8 251.3 111.2 250.1zM110.3 251.2 111.9 252.3 110.8 253.9 109.2 252.8zM99.9 266.1 101.5 267.3 100.4 268.9 98.8 267.8zM96.1 272 97.8 273.1 96.6 274.8 95 273.6zM91.6 277.6 93.3 278.8 92.1 280.5 90.4 279.3zM89.7 280.6 91.5 281.8 90.2 283.5 88.5 282.3zM75.2 301.4 76.9 302.6 75.7 304.4 73.9 303.2zM142.5 212.2 144.2 213.4 143 215.1 141.3 213.9zM140 214.9 141.9 216.3 140.6 218.2 138.7 216.8zM132 226.8 133.5 227.9 132.4 229.5 130.9 228.4zM105.3 265.2 107.1 266.5 105.8 268.3 104 267zM99 274 100.7 275.2 99.5 276.9 97.8 275.7zM92.6 282.6 94.6 284 93.2 285.9 91.3 284.6zM88.6 288.4 90.3 289.7 89.1 291.4 87.3 290.2zM82.2 297.3 84.1 298.6 82.8 300.5 80.9 299.2zM141.2 220.2 142.7 221.2 141.6 222.8 140.1 221.7zM132.7 231.9 134.2 233 133.1 234.6 131.6 233.5zM130.6 234.8 132.4 236.1 131.1 237.9 129.3 236.7zM128.6 237.4 130.5 238.7 129.2 240.6 127.3 239.3zM122.5 246.4 124.1 247.6 122.9 249.2 121.3 248zM99.9 278.9 102 280.3 100.5 282.3 98.5 280.9zM91.5 290.8 93.2 292 92 293.6 90.4 292.5zM87.4 296.8 89.1 298 87.9 299.6 86.2 298.5zM85.4 299.6 87.1 300.8 85.9 302.6 84.2 301.4zM141.9 224.7 143.7 226 142.4 227.8 140.6 226.5zM135.9 233.6 137.9 235 136.5 237 134.5 235.6zM133.8 237 135.3 238.1 134.2 239.6 132.7 238.5zM131.5 239.6 133.5 241 132.1 242.9 130.2 241.6zM129.6 242.7 131.2 243.8 130 245.4 128.4 244.3zM121.2 254.6 122.8 255.8 121.7 257.4 120 256.3zM117.2 260.5 118.8 261.6 117.7 263.2 116.1 262.1zM114.9 263.3 116.8 264.6 115.5 266.5 113.6 265.2zM113 266 114.8 267.3 113.5 269.1 111.8 267.8zM102.7 280.8 104.6 282.1 103.3 284 101.4 282.6zM98.5 286.9 100.3 288.2 99 290.1 97.2 288.8zM94.4 292.5 96.4 293.8 95 295.8 93 294.4zM92.2 295.7 93.9 296.9 92.7 298.6 91 297.4zM134.8 242 136.5 243.1 135.3 244.8 133.7 243.6zM113.8 271.2 115.7 272.6 114.4 274.5 112.4 273.2zM103.5 285.8 105.4 287.2 104.1 289.1 102.2 287.7zM97.5 294.8 99.3 296.1 98 297.9 96.2 296.6zM95.5 297.8 97.4 299.1 96.1 301 94.2 299.7zM93.1 300.7 95 302 93.7 304 91.7 302.6zM129.2 255.7 131 256.9 129.7 258.7 127.9 257.5zM127.2 258.6 129 259.8 127.8 261.6 126 260.4zM102.4 293.9 104.1 295.1 102.9 296.8 101.2 295.6zM98.4 299.8 100.3 301.1 99 303 97.1 301.7zM96 302.8 97.9 304.1 96.6 306.1 94.7 304.7zM140.3 245.9 142.3 247.3 140.9 249.3 138.9 247.9zM128.2 263.4 130.1 264.8 128.8 266.8 126.8 265.4zM126.2 266.7 128 267.9 126.8 269.7 125 268.5zM121.9 272.1 123.9 273.5 122.5 275.4 120.6 274zM113.4 284.2 115.3 285.5 114 287.4 112.1 286.1zM105.2 295.9 107.1 297.3 105.8 299.2 103.8 297.9zM103.5 298.6 105.4 300 104.1 301.9 102.1 300.6zM139.1 253.6 141.1 254.9 139.7 256.9 137.8 255.5zM137.2 256.6 139.1 257.8 137.8 259.7 135.9 258.4zM122.8 277.5 124.7 278.7 123.4 280.6 121.6 279.3zM120.6 280.4 122.4 281.6 121.1 283.4 119.3 282.2zM114.5 289.2 116.3 290.4 115 292.2 113.3 291zM112.5 292.4 114.2 293.6 113 295.4 111.2 294.2zM108.4 298.2 109.9 299.2 108.8 300.8 107.3 299.7zM142.4 255.9 144.1 257.2 142.9 259 141.1 257.7zM140.2 259 141.9 260.2 140.7 261.9 139 260.7zM138.3 261.6 140.3 263 138.9 265 136.8 263.6zM131.8 270.9 133.5 272.1 132.3 273.7 130.7 272.6zM123.7 282.3 125.6 283.6 124.3 285.5 122.3 284.2zM115.4 294.4 117.2 295.6 116 297.3 114.2 296.1zM111.2 299.9 113 301.2 111.8 303 110 301.7zM141.2 263.5 143.2 264.9 141.8 266.9 139.8 265.5zM139.1 266.9 140.8 268 139.6 269.7 137.9 268.5zM124.6 287.2 126.5 288.6 125.2 290.5 123.2 289.1zM122.5 290.3 124.2 291.5 123 293.1 121.4 292zM120.4 293.7 122 294.8 120.9 296.3 119.4 295.2zM118.3 296.2 120 297.4 118.8 299.1 117.1 297.9zM141.8 268.6 143.6 269.9 142.3 271.8 140.5 270.5zM137.7 274.8 139.6 276 138.3 277.9 136.5 276.6zM125.2 292.5 127.2 293.9 125.8 295.8 123.9 294.4zM121.3 298.1 123.2 299.4 121.8 301.3 119.9 300zM134.5 285.6 136.1 286.7 135 288.3 133.4 287.2zM122.2 303 124.2 304.4 122.8 306.3 120.9 305zM129.3 299.6 131 300.8 129.8 302.6 128.1 301.3zM138.5 293 140.2 294.1 139 295.8 137.3 294.6zM136.6 295.7 138.1 296.8 137 298.3 135.5 297.3zM132.3 301.7 133.9 302.8 132.7 304.4 131.1 303.3z"/>
<path fill="#666666" d="M21.2 184.1 23.1 185.5 21.8 187.4 19.9 186.1zM19.1 187.1 21 188.4 19.7 190.3 17.8 189zM24.7 191.6 26.4 192.8 25.2 194.4 23.6 193.3zM18.6 200.2 20.3 201.4 19.1 203.2 17.4 202zM16.7 203.4 18.3 204.5 17.2 206.1 15.6 205zM32 187.3 33.8 188.6 32.5 190.5 30.6 189.1zM21.6 202.4 23.2 203.5 22.1 205.1 20.5 204zM17.4 208.1 18.9 209.2 17.8 210.7 16.3 209.6zM43.4 177.5 45.2 178.8 43.9 180.6 42.1 179.3zM41.1 180.7 42.6 181.8 41.5 183.4 40 182.3zM37.2 186.7 38.8 187.8 37.7 189.4 36.1 188.3zM35.1 189.4 37 190.7 35.6 192.6 33.7 191.3zM30.6 195.4 32.3 196.5 31.1 198.2 29.5 197zM28.7 198.4 30.5 199.7 29.2 201.5 27.4 200.3zM26.7 201.3 28.5 202.6 27.2 204.4 25.4 203.1zM24.6 204.1 26.4 205.4 25.1 207.3 23.3 205.9zM22.6 207.1 24.5 208.4 23.2 210.4 21.2 209zM20.6 210.2 22.2 211.3 21 212.9 19.4 211.8zM41.9 185.6 43.6 186.8 42.4 188.5 40.7 187.3zM35.7 194.5 37.5 195.8 36.2 197.7 34.4 196.4zM51.3 178.9 53.3 180.3 51.9 182.2 49.9 180.9zM30.5 208.5 32.3 209.8 31 211.6 29.2 210.3zM28.6 211.5 30.4 212.7 29.2 214.6 27.3 213.3zM20 222.8 21.9 224.2 20.5 226.2 18.6 224.8zM18.3 226.4 20 227.5 18.8 229.2 17.2 228zM15.9 229 17.9 230.4 16.5 232.4 14.5 231zM56 178.2 57.6 179.3 56.5 180.8 54.9 179.7zM51.9 184.1 53.6 185.3 52.4 186.9 50.8 185.8zM50.1 186.7 51.8 188 50.6 189.7 48.8 188.5zM37.4 204.4 39.3 205.7 38 207.6 36.1 206.2zM21.2 228 23.1 229.4 21.8 231.3 19.9 229.9zM19 231.2 20.6 232.3 19.5 233.9 17.8 232.8zM17 234.3 18.6 235.5 17.5 237.1 15.9 236zM51 192.1 52.7 193.3 51.5 195 49.8 193.8zM48.8 194.8 50.7 196.2 49.4 198.1 47.5 196.8zM42.8 203.7 44.4 204.9 43.3 206.5 41.7 205.4zM34.4 215.4 36.1 216.5 34.9 218.2 33.2 217zM22 233.3 23.6 234.4 22.5 236.1 20.8 234.9zM17.7 239.2 19.4 240.4 18.2 242.2 16.5 241zM55.8 191.1 57.6 192.3 56.4 194.1 54.6 192.9zM51.9 196.9 53.4 198.1 52.3 199.6 50.7 198.5zM39.2 214.8 41 216.1 39.7 217.8 38 216.6zM28.9 229.4 30.7 230.6 29.4 232.5 27.6 231.2zM26.8 232.1 28.6 233.3 27.3 235.2 25.5 233.9zM24.9 235.6 26.4 236.7 25.4 238.2 23.8 237.1zM67 181.3 68.7 182.5 67.5 184.2 65.8 183zM65 184.3 66.9 185.6 65.6 187.5 63.7 186.1zM52.7 201.6 54.6 203 53.2 204.9 51.3 203.5zM50.4 205 52.2 206.2 51 208 49.2 206.8zM48.4 207.9 50.3 209.3 48.9 211.1 47.1 209.8zM44.5 213.6 46.4 215 45 217 43.1 215.6zM38 222.5 39.9 223.8 38.5 225.7 36.7 224.4zM27.9 237.3 29.5 238.4 28.4 240.1 26.8 238.9zM23.6 243.2 25.5 244.6 24.2 246.6 22.2 245.2zM21.7 245.8 23.7 247.2 22.3 249.1 20.4 247.8zM70.1 183.3 71.7 184.5 70.6 186.1 69 184.9zM61.9 195.4 63.5 196.5 62.4 198.1 60.8 197zM53.4 206.7 55.4 208.1 54 210.1 52 208.7zM49.3 213.1 50.9 214.2 49.8 215.8 48.2 214.7zM47.4 216.1 49 217.2 47.9 218.8 46.3 217.7zM36.9 230.7 38.5 231.9 37.4 233.6 35.7 232.4zM24.7 248.2 26.4 249.4 25.2 251.1 23.5 249.9zM20.5 254 22.2 255.2 21 256.8 19.3 255.7zM18.4 257.2 20 258.4 18.9 260 17.2 258.8zM70.7 188.4 72.5 189.6 71.3 191.3 69.5 190.1zM64.7 196.9 66.7 198.3 65.3 200.3 63.3 198.9zM62.5 200.4 64.2 201.5 63 203.2 61.3 202.1zM54.5 211.9 56.2 213 55 214.6 53.4 213.5zM52.3 214.8 54.1 216 52.8 217.7 51.1 216.5zM48.3 221 50 222.2 48.8 223.9 47.1 222.7zM44 226.4 45.9 227.8 44.6 229.8 42.6 228.4zM40.1 232.5 41.9 233.8 40.6 235.5 38.9 234.3zM37.8 235.2 39.6 236.6 38.3 238.5 36.4 237.1zM33.6 241.7 35.3 242.8 34.1 244.5 32.5 243.3zM23.2 256.3 25 257.6 23.8 259.4 22 258.1zM19.2 262.2 20.8 263.3 19.7 264.8 18.1 263.7zM80.3 181.7 81.9 182.8 80.8 184.5 79.1 183.3zM78.1 184.4 79.8 185.6 78.6 187.3 76.9 186.1zM71.7 193.3 73.7 194.7 72.3 196.7 70.3 195.3zM69.8 196.1 71.7 197.4 70.4 199.3 68.5 197.9zM65.4 202 67.3 203.3 66 205.2 64.1 203.9zM50.9 222.7 52.8 224.1 51.5 226 49.6 224.6zM46.8 228.4 48.7 229.8 47.4 231.7 45.4 230.4zM40.8 237.7 42.6 238.9 41.3 240.7 39.5 239.5zM32.5 249.4 34.3 250.6 33.1 252.4 31.3 251.1zM28.6 255.3 30.2 256.4 29 258.1 27.4 256.9zM26.4 258.3 28.3 259.6 27 261.5 25.1 260.2zM24.3 261.3 26.1 262.5 24.8 264.3 23 263zM22 264.1 24 265.4 22.6 267.4 20.7 266zM82.9 183.8 84.5 184.9 83.4 186.6 81.7 185.4zM70.5 201.3 72.4 202.6 71.1 204.5 69.2 203.2zM66.4 207.1 68.1 208.3 66.9 210 65.3 208.8zM58.2 219.1 59.7 220.2 58.6 221.8 57.1 220.7zM56.3 222.2 57.9 223.3 56.8 224.8 55.2 223.7zM50 230.8 51.7 232 50.5 233.7 48.7 232.5zM47.7 233.6 49.6 234.9 48.3 236.8 46.4 235.5zM45.9 236.8 47.4 237.9 46.3 239.5 44.7 238.4zM37.7 248.3 39.6 249.7 38.2 251.6 36.3 250.3zM35.5 251.6 37.1 252.7 36 254.3 34.4 253.2zM33.4 254.6 35 255.8 33.8 257.4 32.2 256.3zM27.4 263 29.3 264.4 28 266.4 26 265zM25.4 266.5 27 267.6 25.9 269.3 24.2 268.1zM23.2 269.2 24.8 270.4 23.7 272.1 22 270.9zM20.8 272.1 22.6 273.3 21.4 275 19.6 273.8zM90.1 179.9 91.9 181.1 90.6 182.8 88.9 181.6zM87.8 182.8 89.6 184 88.3 185.7 86.6 184.5zM85.8 185.8 87.5 187 86.3 188.6 84.6 187.5zM83.7 188.8 85.3 190 84.2 191.6 82.5 190.5zM81.7 191.4 83.5 192.6 82.2 194.4 80.4 193.2zM61.1 220.8 63.1 222.2 61.7 224.1 59.8 222.7zM59 223.9 60.9 225.3 59.5 227.2 57.6 225.8zM52.9 232.6 54.8 233.9 53.5 235.8 51.6 234.5zM46.6 241.6 48.4 242.9 47.1 244.7 45.3 243.4zM38.3 253.5 40.3 254.9 38.9 256.8 37 255.5zM32.4 262.2 34.3 263.6 33 265.6 31 264.2zM28.2 268.3 29.8 269.4 28.7 271.1 27 269.9zM23.9 274.1 25.5 275.2 24.4 276.9 22.8 275.7zM18 283 19.6 284.2 18.4 285.8 16.8 284.7zM86.7 190.9 88.5 192.1 87.2 193.9 85.5 192.7zM80.7 199.5 82.4 200.7 81.2 202.4 79.5 201.2zM78.5 202.7 80.3 204 79 205.8 77.2 204.5zM64.1 223.5 65.7 224.6 64.6 226.3 62.9 225.1zM62.2 226.4 63.8 227.5 62.7 229.1 61.1 228zM55.8 234.8 57.6 236.1 56.3 238 54.4 236.7zM25.1 279.1 26.8 280.3 25.6 282 23.9 280.8zM22.8 282.2 24.6 283.5 23.3 285.4 21.5 284.1zM18.7 288.3 20.4 289.5 19.2 291.2 17.5 290zM99.9 177.8 101.8 179.1 100.5 181 98.6 179.7zM91.8 190 93.5 191.2 92.3 193 90.6 191.7zM89.6 192.6 91.4 193.8 90.1 195.6 88.4 194.4zM87.7 195.5 89.7 196.8 88.3 198.8 86.3 197.4zM85.5 198.9 87.1 200 86 201.6 84.3 200.5zM81.4 204.5 83.3 205.8 82 207.7 80.1 206.4zM79.5 207.7 81.2 208.9 80 210.5 78.4 209.4zM77.4 210.7 79.1 211.9 77.9 213.6 76.2 212.4zM54.9 243 56.5 244.1 55.3 245.8 53.7 244.6zM52.8 246.2 54.4 247.3 53.3 248.9 51.7 247.8zM44.3 257.6 46 258.7 44.8 260.4 43.2 259.2zM29.9 278.4 31.6 279.6 30.4 281.4 28.7 280.1zM23.6 287.1 25.4 288.4 24.2 290.1 22.4 288.9zM100.7 182.9 102.7 184.3 101.3 186.3 99.3 184.9zM96.7 188.7 98.6 190 97.3 191.9 95.4 190.6zM94.6 191.9 96.3 193 95.1 194.7 93.5 193.5zM90.9 198 92.6 199.2 91.4 200.9 89.7 199.7zM88.5 200.7 90.1 201.9 89 203.6 87.3 202.4zM78.1 215.7 79.7 216.8 78.6 218.4 77 217.3zM68.2 230.2 69.8 231.3 68.7 233 67 231.8zM65.8 233.1 67.7 234.4 66.4 236.2 64.5 234.9zM55.7 248 57.2 249.2 56.1 250.7 54.6 249.6zM53.4 250.9 55.2 252.2 53.9 254 52.1 252.8zM45.2 262.3 47.2 263.7 45.8 265.7 43.8 264.3zM43.2 265.7 44.8 266.8 43.7 268.4 42.1 267.3zM37.1 274.6 39 275.9 37.7 277.7 35.8 276.4zM32.7 280.4 34.3 281.6 33.2 283.2 31.6 282.1zM28.6 286.2 30.4 287.4 29.1 289.2 27.4 287.9zM22.4 294.7 24.4 296.1 23 298.1 21 296.7zM20.5 298 22.3 299.3 21 301.1 19.1 299.8zM18.6 301 20.4 302.2 19.1 304.1 17.3 302.8zM100 191.2 101.8 192.4 100.5 194.2 98.7 193zM97.6 194 99.3 195.2 98.1 196.9 96.4 195.7zM91.7 202.8 93.4 204 92.2 205.6 90.6 204.5zM89.6 205.8 91.6 207.2 90.2 209.1 88.3 207.8zM83.5 214.5 85.1 215.7 84 217.4 82.3 216.2zM75.1 226.5 77.1 227.8 75.7 229.8 73.8 228.4zM66.6 238.1 68.5 239.4 67.2 241.3 65.3 240zM62.8 244.1 64.5 245.2 63.3 246.9 61.7 245.7zM52.2 259 54 260.2 52.8 261.9 51 260.7zM45.9 267.7 47.9 269.1 46.5 271.1 44.5 269.7zM40 276.4 41.9 277.7 40.5 279.6 38.7 278.3zM33.8 285.2 35.8 286.6 34.4 288.5 32.5 287.1zM31.5 288.4 33.1 289.5 32 291 30.4 289.9zM29.8 291.5 31.4 292.6 30.3 294.2 28.7 293.1zM113.3 178.2 115 179.4 113.8 181.1 112.1 179.9zM108.7 184.1 110.6 185.4 109.3 187.2 107.4 185.9zM104.8 190.1 106.6 191.3 105.4 193.1 103.6 191.9zM100.8 195.9 102.6 197.1 101.4 198.9 99.6 197.7zM98.8 198.9 100.6 200.1 99.3 201.9 97.5 200.7zM86.3 217 88 218.1 86.8 219.8 85.1 218.6zM84.1 219.4 85.9 220.7 84.6 222.5 82.8 221.2zM82 222.7 83.8 224 82.5 225.8 80.7 224.5zM73.9 234.4 75.8 235.7 74.5 237.6 72.6 236.3zM69.8 240.4 71.7 241.7 70.4 243.5 68.5 242.2zM65.8 246.1 67.5 247.3 66.3 248.9 64.6 247.8zM63.4 248.9 65.3 250.2 64 252.1 62.1 250.8zM57.5 258 59.3 259.3 58 261 56.3 259.8zM53.3 263.8 54.9 265 53.7 266.6 52.1 265.4zM40.7 281.7 42.3 282.8 41.2 284.5 39.5 283.3zM114.2 183.3 115.7 184.4 114.6 186 113.1 184.9zM111.9 186.3 113.9 187.7 112.5 189.7 110.5 188.3zM105.7 195.1 107.3 196.2 106.2 197.8 104.6 196.7zM95.4 209.9 97.1 211.1 95.9 212.8 94.1 211.6zM91.2 215.6 93.2 217 91.8 218.9 89.8 217.6zM89.2 218.6 91.2 220 89.8 221.9 87.9 220.5zM81 230.4 82.7 231.6 81.5 233.3 79.8 232.1zM74.7 239.3 76.5 240.6 75.2 242.5 73.3 241.2zM66.6 250.9 68.6 252.3 67.2 254.3 65.2 252.9zM62.1 257 63.9 258.3 62.7 260.1 60.9 258.8zM54 269.1 55.6 270.2 54.5 271.7 53 270.6zM45.7 280.5 47.5 281.8 46.3 283.7 44.4 282.4zM43.7 283.9 45.3 285 44.2 286.7 42.5 285.5zM41.5 286.6 43.4 288 42 289.9 40.1 288.5zM37.6 292.5 39.5 293.9 38.2 295.8 36.3 294.4zM35.3 295.3 37.2 296.7 35.9 298.6 34 297.2zM112.8 191.2 114.6 192.5 113.3 194.3 111.5 193zM102.3 206.2 104.1 207.4 102.9 209.2 101.1 208zM94.3 218 96 219.2 94.8 221 93 219.7zM83.7 232.4 85.6 233.8 84.3 235.8 82.3 234.4zM79.9 238.7 81.6 239.8 80.4 241.5 78.8 240.3zM67.2 256.1 68.8 257.2 67.7 258.9 66.1 257.7zM61.1 265.1 62.9 266.4 61.6 268.3 59.8 267zM56.9 271 58.5 272.1 57.4 273.6 55.8 272.5zM48.5 282.3 50.5 283.7 49.1 285.7 47.1 284.3zM40.3 294.4 42.1 295.6 40.8 297.4 39.1 296.2zM121.8 184.4 123.6 185.6 122.3 187.4 120.5 186.2zM117.6 190.6 119.2 191.7 118.1 193.4 116.5 192.2zM115.7 193.4 117.6 194.7 116.2 196.7 114.3 195.3zM111.8 199 113.6 200.3 112.3 202.2 110.5 200.9zM107.5 205.1 109.5 206.4 108.1 208.4 106.1 207zM101.2 213.9 102.9 215.1 101.7 216.9 99.9 215.7zM93 226 94.6 227.2 93.5 228.8 91.8 227.6zM86.6 234.9 88.3 236 87.1 237.7 85.5 236.5zM84.7 237.5 86.6 238.8 85.3 240.7 83.4 239.4zM82.6 240.4 84.5 241.7 83.2 243.6 81.3 242.3zM74.2 252.2 76 253.4 74.8 255.1 73 253.9zM59.8 272.8 61.8 274.2 60.4 276.1 58.5 274.8zM53.7 281.7 55.7 283.1 54.3 285 52.4 283.6zM51.8 284.9 53.6 286.2 52.3 288.1 50.5 286.8zM39.2 302.1 41.2 303.6 39.8 305.6 37.8 304.2zM127.1 183.5 128.9 184.7 127.6 186.5 125.9 185.3zM112.6 204.2 114.5 205.5 113.2 207.4 111.3 206.1zM106.4 213.2 108.1 214.4 106.9 216 105.3 214.9zM104.4 216 106 217.2 104.9 218.8 103.2 217.7zM102.3 219.1 104.2 220.4 102.8 222.3 101 220.9zM91.8 233.7 93.5 234.9 92.3 236.6 90.7 235.4zM85.8 242.8 87.4 243.9 86.3 245.6 84.6 244.4zM83.5 245.4 85.2 246.6 84 248.4 82.3 247.1zM77.4 254.2 79.2 255.5 77.9 257.3 76.1 256.1zM75.3 257.4 77.3 258.7 75.9 260.7 73.9 259.3zM56.7 283.9 58.3 285 57.2 286.5 55.6 285.4zM50.7 293.1 52.3 294.2 51.2 295.8 49.6 294.7zM46.2 298.3 48.1 299.7 46.8 301.6 44.8 300.2zM44.2 301.7 46 303 44.8 304.8 43 303.5zM134 179.8 135.7 181 134.5 182.8 132.8 181.6zM128 188.8 129.6 190 128.5 191.6 126.9 190.5zM119.8 200.4 121.5 201.6 120.3 203.3 118.6 202.1zM117.6 203.3 119.3 204.6 118.1 206.3 116.4 205.1zM111.2 212.6 112.9 213.7 111.7 215.3 110.1 214.2zM107.2 218.5 108.7 219.6 107.6 221.1 106.1 220zM100.9 227 102.4 228.1 101.3 229.6 99.8 228.5zM98.8 230.1 100.6 231.4 99.3 233.2 97.6 231.9zM96.9 232.8 98.7 234.1 97.4 235.8 95.7 234.6zM88.8 244.9 90.3 246 89.2 247.6 87.7 246.5zM76.3 262.2 78.1 263.4 76.8 265.3 75 264zM72.1 268.3 74.1 269.7 72.7 271.6 70.8 270.2zM67.9 274 69.7 275.2 68.5 277 66.7 275.7zM65.9 277.1 67.7 278.3 66.4 280.1 64.7 278.8zM63.8 280.2 65.5 281.3 64.3 283 62.7 281.8zM137.1 182.1 138.7 183.2 137.6 184.8 136 183.7zM124.4 199.7 126.3 201 124.9 202.9 123 201.6zM122.7 202.6 124.3 203.8 123.1 205.4 121.5 204.3zM120.6 205.7 122.2 206.8 121.1 208.4 119.5 207.3zM114.4 214.4 116.1 215.6 114.9 217.3 113.2 216.1zM110.2 220.1 112.1 221.5 110.7 223.4 108.8 222.1zM105.8 226.2 107.5 227.4 106.3 229.1 104.6 227.9zM102.1 232.2 103.6 233.2 102.5 234.8 101 233.7zM89.6 249.7 91.3 250.9 90.1 252.6 88.3 251.4zM81.2 261.5 82.9 262.7 81.7 264.4 80 263.2zM76.9 267.4 78.5 268.5 77.4 270.1 75.8 269zM66.9 282.3 68.7 283.5 67.5 285.3 65.7 284.1zM58.4 293.7 60.3 295.1 59 297 57 295.6zM52.5 302.9 54.2 304.1 53 305.8 51.3 304.6zM127.4 201.3 129.4 202.6 128 204.6 126 203.2zM117.1 216.5 118.7 217.6 117.6 219.2 116 218.1zM111.2 225.2 113.1 226.6 111.7 228.6 109.8 227.2zM104.8 234.5 106.3 235.6 105.3 237.1 103.7 236zM96.7 246.1 98.3 247.3 97.2 248.9 95.6 247.8zM86.1 260.8 87.6 261.9 86.5 263.4 85 262.3zM81.9 266.6 83.7 267.9 82.4 269.7 80.6 268.4zM67.5 287.1 69.1 288.2 68 289.8 66.5 288.7zM126.4 209.6 128 210.7 126.9 212.3 125.3 211.2zM124.1 212.9 125.7 214 124.6 215.6 123.1 214.5zM103.8 242.3 105.4 243.5 104.2 245.1 102.6 243.9zM101.5 245.1 103.4 246.4 102.1 248.2 100.2 246.9zM97.4 250.9 99.3 252.2 98 254.1 96.1 252.8zM93.2 256.9 94.8 258.1 93.7 259.7 92 258.6zM91.4 259.3 93.4 260.7 92 262.7 90 261.3zM89.3 262.7 91.2 264.1 89.9 266 87.9 264.7zM87.3 265.4 89.1 266.7 87.8 268.5 86 267.2zM78.7 277.4 80.4 278.6 79.2 280.3 77.5 279.1zM74.9 283.4 76.6 284.6 75.4 286.3 73.7 285.1zM70.5 289.4 72.2 290.6 71 292.4 69.3 291.2zM62.1 300.8 64.1 302.2 62.7 304.2 60.7 302.8zM137.5 199.7 139.4 201 138.1 202.9 136.2 201.6zM135.5 202.7 137.2 203.9 136 205.7 134.2 204.5zM129.5 211.6 131.1 212.7 130 214.4 128.3 213.2zM114.8 232 116.8 233.4 115.4 235.4 113.4 234zM110.6 238 112.5 239.3 111.2 241.1 109.3 239.8zM108.6 241.2 110.3 242.4 109.1 244.1 107.4 242.9zM104.6 247.4 106.1 248.5 105 250 103.5 249zM102.4 250.1 104.2 251.3 102.9 253.1 101.2 251.8zM100.2 253 101.9 254.2 100.7 255.9 99.1 254.7zM92 264.8 93.7 266 92.5 267.8 90.7 266.5zM85.8 273.6 87.6 274.8 86.3 276.7 84.5 275.4zM83.9 276.6 85.7 277.8 84.4 279.6 82.7 278.3zM79.8 282.7 81.3 283.7 80.2 285.3 78.7 284.2zM77.7 285.4 79.5 286.6 78.3 288.5 76.4 287.2zM69.4 297.1 71.2 298.4 69.9 300.2 68.1 298.9zM67.2 299.9 69.1 301.2 67.8 303.2 65.9 301.8zM132.3 213.8 134.1 215 132.8 216.8 131 215.6zM128.2 219.3 130.1 220.6 128.8 222.6 126.8 221.2zM124 225.3 125.8 226.6 124.5 228.4 122.7 227.1zM105.5 252 107.4 253.4 106 255.4 104.1 254zM103.4 254.9 105.1 256.1 103.9 257.8 102.2 256.6zM101.2 258.2 103 259.4 101.7 261.2 100 259.9zM96.9 263.5 98.9 264.9 97.5 266.9 95.5 265.5zM95.1 266.6 97.1 268 95.7 270 93.7 268.6zM93 270 94.7 271.2 93.5 272.9 91.8 271.7zM86.7 278.5 88.3 279.7 87.1 281.3 85.5 280.2zM80.7 287.7 82.3 288.8 81.1 290.4 79.5 289.3zM74.5 296.3 76 297.4 74.9 299 73.4 297.9zM72.4 299.3 74.2 300.6 72.9 302.4 71.1 301.1zM141.3 206.7 143.2 208 141.8 209.9 139.9 208.6zM139.2 209.7 141.1 211 139.7 212.9 137.9 211.6zM137.1 212.8 138.6 213.9 137.5 215.5 136 214.4zM133.3 219 134.9 220.1 133.8 221.6 132.2 220.5zM125.1 230.5 126.8 231.7 125.6 233.5 123.9 232.3zM106.2 257.2 108.1 258.5 106.8 260.3 105 259zM104.3 260 106.3 261.4 104.9 263.4 102.9 262zM98.1 268.8 99.9 270.1 98.7 272 96.8 270.7zM94 274.6 95.9 275.9 94.6 277.9 92.7 276.5zM85.7 286.6 87.5 287.9 86.2 289.7 84.4 288.5zM81.4 292.6 83 293.7 81.9 295.3 80.3 294.2zM137.9 217.8 139.7 219 138.5 220.8 136.7 219.5zM136.2 220.9 137.9 222.1 136.7 223.8 135 222.6zM128 232.5 129.8 233.7 128.5 235.5 126.8 234.2zM123.8 238.6 125.8 239.9 124.4 241.9 122.5 240.5zM115.4 250.6 117 251.8 115.9 253.4 114.2 252.3zM113.2 252.8 115.2 254.2 113.8 256.2 111.8 254.8zM111.1 256.2 113.1 257.6 111.7 259.5 109.8 258.1zM109.3 258.8 111.2 260.1 109.9 262.1 107.9 260.7zM107.2 262 109.1 263.4 107.8 265.3 105.9 263.9zM102.9 267.9 104.5 269.1 103.4 270.7 101.7 269.6zM100.8 271 102.4 272.1 101.3 273.6 99.7 272.5zM90.7 285.4 92.5 286.7 91.2 288.5 89.4 287.3zM86.5 291.6 88.3 292.9 87 294.7 85.2 293.4zM134.8 229 136.5 230.2 135.3 231.9 133.6 230.7zM124.7 243.4 126.6 244.7 125.3 246.7 123.4 245.3zM114.4 258.2 116.3 259.6 115 261.6 113 260.2zM110 264.1 111.8 265.3 110.5 267.1 108.7 265.9zM108.1 267 109.9 268.3 108.6 270.1 106.8 268.8zM97.9 282.1 99.5 283.3 98.4 284.9 96.7 283.8zM140 227.9 141.9 229.2 140.6 231.1 138.7 229.8zM119.3 257.2 121.1 258.5 119.8 260.4 118 259zM111 269.1 112.8 270.4 111.5 272.3 109.7 271zM108.8 271.9 110.7 273.2 109.4 275.1 107.5 273.8zM104.9 278 106.7 279.2 105.5 281.1 103.7 279.8zM96.7 289.8 98.4 290.9 97.2 292.5 95.6 291.4zM90.4 298.4 92.2 299.7 90.9 301.5 89.1 300.2zM88.2 301.9 89.7 303 88.6 304.6 87.1 303.5zM140.9 232.9 142.5 234 141.4 235.6 139.8 234.5zM136.7 238.9 138.3 240 137.2 241.6 135.6 240.5zM130.5 247.3 132.5 248.6 131.1 250.6 129.1 249.2zM126.3 253.8 127.9 255 126.8 256.6 125.2 255.4zM122.4 259.6 123.9 260.7 122.8 262.3 121.3 261.2zM118.1 265.5 119.8 266.7 118.6 268.4 116.9 267.2zM116.2 268.4 118 269.6 116.7 271.4 114.9 270.1zM111.9 274.4 113.7 275.6 112.5 277.4 110.7 276.1zM109.9 277.2 111.5 278.3 110.4 280 108.7 278.8zM105.5 282.9 107.2 284.1 106 285.8 104.4 284.6zM101.5 288.8 103.4 290.1 102.1 292 100.2 290.7zM99.7 291.8 101.4 293 100.2 294.7 98.5 293.5zM141.6 237.7 143.3 239 142.1 240.8 140.3 239.5zM139.4 240.5 141.4 241.9 140 243.9 138 242.5zM135.4 246.7 137.2 248 135.9 249.9 134 248.6zM133.3 249.7 135.1 250.9 133.9 252.6 132.1 251.4zM131.5 252.7 133.1 253.8 132 255.4 130.4 254.3zM117 273.4 118.6 274.5 117.4 276.1 115.9 275zM114.9 276.5 116.6 277.7 115.4 279.4 113.7 278.2zM112.6 279.2 114.1 280.3 113 281.9 111.5 280.8zM110.8 282.1 112.7 283.4 111.4 285.3 109.5 284zM106.7 287.8 108.4 289.1 107.2 290.9 105.4 289.6zM100.3 296.7 102.2 298.1 100.9 300.1 98.9 298.7zM138.2 248.6 140.1 249.9 138.8 251.8 136.9 250.5zM136.5 251.8 138.5 253.2 137.1 255.1 135.2 253.8zM124.1 269.3 125.8 270.5 124.6 272.2 123 271zM115.9 281.5 117.4 282.6 116.4 284.2 114.8 283.1zM109.7 289.9 111.7 291.3 110.3 293.3 108.3 291.9zM141.2 251 143 252.3 141.7 254.1 139.9 252.8zM135.1 259.9 136.8 261.1 135.6 262.8 133.9 261.6zM132.9 262.7 134.7 263.9 133.4 265.7 131.7 264.4zM131 265.4 133 266.8 131.6 268.8 129.6 267.4zM129.1 268.6 130.7 269.7 129.6 271.3 128 270.2zM127.1 271.6 128.8 272.8 127.6 274.6 125.8 273.3zM118.4 283.2 120.4 284.6 119 286.6 117 285.2zM110.5 295 112.4 296.4 111.1 298.4 109.1 297zM130 273.3 131.8 274.6 130.5 276.4 128.7 275.2zM127.8 276.6 129.4 277.7 128.3 279.3 126.7 278.2zM121.8 285.4 123.6 286.6 122.3 288.4 120.5 287.2zM119.6 288.3 121.5 289.6 120.2 291.4 118.3 290.1zM132.9 275.7 134.5 276.8 133.4 278.3 131.8 277.2zM128.7 281.9 130.3 283 129.2 284.6 127.6 283.5zM116.3 299.3 118 300.5 116.8 302.1 115.1 301zM135.6 277.9 137.4 279.2 136.2 281 134.4 279.7zM131.7 283.7 133.4 284.9 132.2 286.5 130.5 285.4zM129.5 286.5 131.4 287.9 130.1 289.8 128.1 288.5zM119.2 301.3 120.8 302.4 119.7 304.1 118 302.9zM136.7 282.9 138.3 284 137.1 285.6 135.5 284.5zM132.7 288.4 134.5 289.7 133.3 291.5 131.4 290.2zM133.4 293.6 135.2 294.9 134 296.7 132.1 295.4zM131.3 296.9 132.9 298 131.8 299.7 130.1 298.5zM127.2 302.5 129 303.7 127.8 305.4 126 304.2zM140.5 289.5 142.5 290.9 141.1 292.8 139.1 291.4zM141.4 294.7 143.3 296.1 142 298 140 296.7z"/>
<path fill="#6e6e6e" d="M20.2 179.4 22 180.6 20.7 182.4 19 181.2zM18 182.3 19.7 183.5 18.5 185.3 16.7 184.1zM15.9 185.2 17.5 186.3 16.4 187.9 14.8 186.8zM25.2 178.3 27 179.5 25.8 181.3 24 180zM20.1 192.3 21.7 193.4 20.6 195 19 193.9zM31 182.7 32.6 183.8 31.4 185.4 29.9 184.3zM29 185.8 30.5 186.9 29.5 188.4 27.9 187.4zM27.1 188.3 28.9 189.5 27.6 191.2 25.9 190zM35.9 181.6 37.7 182.9 36.5 184.7 34.7 183.4zM28 193.2 29.8 194.4 28.6 196.2 26.8 195zM19.5 205 21.4 206.3 20.1 208.2 18.2 206.9zM39.1 183.7 41 185 39.7 186.9 37.8 185.6zM32.9 192.4 34.7 193.7 33.4 195.5 31.6 194.2zM18.4 213.4 20.1 214.5 18.9 216.2 17.2 215.1zM40.1 188.6 41.9 189.8 40.6 191.6 38.8 190.4zM29.8 203.4 31.4 204.5 30.3 206.1 28.7 205zM25.3 209.3 27.2 210.6 25.9 212.5 24 211.2zM23.3 212.2 25 213.4 23.8 215.1 22.1 213.9zM21.4 215.5 23 216.7 21.8 218.3 20.2 217.2zM17.1 221.5 18.7 222.5 17.6 224.1 16 223zM49.3 181.5 51.2 182.9 49.8 184.9 47.9 183.5zM45 188 46.7 189.1 45.5 190.8 43.8 189.6zM42.8 190.5 44.6 191.8 43.3 193.5 41.6 192.3zM36.9 199.7 38.7 201 37.4 202.8 35.6 201.5zM32.5 205.3 34.4 206.7 33.1 208.6 31.1 207.3zM24.1 217.1 25.8 218.3 24.6 220 22.9 218.8zM22.2 220 24.1 221.4 22.8 223.3 20.9 222zM48 190.2 49.6 191.3 48.5 192.8 46.9 191.7zM45.9 192.7 47.5 193.9 46.3 195.5 44.7 194.4zM43.6 195.6 45.4 196.8 44.2 198.6 42.4 197.4zM35.5 207.7 37.3 209 36 210.7 34.2 209.5zM31.3 213.6 33 214.8 31.8 216.5 30.1 215.3zM27.2 219 29.1 220.3 27.8 222.2 25.9 220.9zM22.9 225 24.8 226.3 23.5 228.2 21.6 226.9zM56.8 183.1 58.7 184.4 57.4 186.4 55.5 185zM40.5 206.4 42.5 207.8 41.1 209.8 39.1 208.4zM32.2 218.2 34.2 219.6 32.8 221.6 30.8 220.2zM30 221.3 31.8 222.6 30.6 224.4 28.7 223.1zM26.3 227.4 28.1 228.7 26.8 230.5 25 229.2zM24.2 230.2 26 231.4 24.7 233.2 22.9 232zM20 235.8 21.9 237.1 20.5 239 18.6 237.7zM60.1 185.3 61.7 186.4 60.6 188 59 186.9zM49.7 199.9 51.4 201 50.2 202.7 48.6 201.5zM45.4 205.8 47.4 207.2 46 209.2 44 207.8zM43.3 208.6 45 209.8 43.8 211.6 42.1 210.4zM41.3 211.4 43.2 212.8 41.8 214.7 39.9 213.3zM31.3 226.3 33.1 227.6 31.8 229.4 30 228.1zM22.9 238.1 24.6 239.3 23.4 240.9 21.7 239.8zM20.7 241.4 22.3 242.6 21.2 244.2 19.5 243.1zM18.6 243.8 20.5 245.1 19.2 247 17.3 245.7zM16.8 247.2 18.5 248.4 17.3 250 15.6 248.9zM69 178.3 70.8 179.5 69.6 181.2 67.8 180zM58.8 192.9 60.8 194.3 59.4 196.3 57.4 194.9zM56.7 196.1 58.4 197.3 57.2 199 55.5 197.8zM42.4 216.8 44.3 218.1 43 219.9 41.2 218.6zM29.8 234.3 31.6 235.5 30.3 237.3 28.5 236.1zM25.9 240.4 27.8 241.7 26.5 243.5 24.6 242.2zM19.8 249.3 21.5 250.5 20.3 252.2 18.6 251zM68.2 186.6 69.7 187.7 68.6 189.3 67 188.2zM51.3 209.7 53.4 211.1 52 213.1 49.9 211.7zM45.2 218.9 46.8 220.1 45.7 221.7 44 220.6zM43.3 221.7 45.2 223 43.8 225 41.9 223.6zM41.2 224.6 42.9 225.8 41.7 227.5 40 226.3zM16.5 260.2 18.1 261.3 17 262.9 15.4 261.8zM74.9 182.4 76.9 183.9 75.5 185.9 73.4 184.5zM66.9 194.1 68.7 195.4 67.4 197.2 65.6 195.9zM60.6 203.4 62.2 204.5 61.1 206.1 59.5 205zM58.5 205.9 60.4 207.2 59 209.1 57.1 207.8zM56.5 209 58.5 210.4 57.1 212.3 55.1 211zM50.2 217.9 51.8 219.1 50.7 220.8 49 219.6zM46.1 223.6 47.9 224.9 46.6 226.8 44.8 225.5zM42.1 229.6 43.9 230.8 42.7 232.6 40.9 231.4zM35.8 238.7 37.5 239.9 36.4 241.5 34.7 240.4zM31.6 244 33.6 245.4 32.2 247.4 30.2 246zM29.6 247.4 31.1 248.5 30.1 250.1 28.5 249zM75.7 187.4 77.6 188.8 76.2 190.6 74.4 189.3zM67.5 199.6 69.1 200.7 68 202.3 66.4 201.2zM59.2 211.3 61 212.5 59.7 214.3 58 213zM57.5 213.8 59.3 215 58 216.8 56.2 215.6zM44.9 231.6 46.6 232.8 45.4 234.4 43.8 233.3zM36.7 243.5 38.4 244.7 37.2 246.3 35.6 245.1zM34.6 246.7 36.3 247.9 35.1 249.6 33.4 248.4zM30.3 252.3 31.9 253.4 30.8 255.1 29.2 253.9zM18.2 270.2 19.8 271.4 18.7 273 17.1 271.8zM16.2 272.9 17.8 274 16.6 275.7 15 274.5zM85.1 180.6 87.1 182 85.7 184 83.7 182.6zM80.8 186.3 82.8 187.7 81.4 189.7 79.4 188.3zM78.7 189.4 80.7 190.8 79.3 192.8 77.3 191.4zM64.4 210.3 66.2 211.5 64.9 213.3 63.2 212.1zM43.7 239.7 45.2 240.7 44.1 242.3 42.6 241.2zM41.5 242.6 43.3 244 42 245.8 40.1 244.5zM39.8 245.4 41.7 246.7 40.4 248.5 38.5 247.2zM31.5 257.2 33.3 258.5 32 260.4 30.2 259.1zM29.3 260.4 30.9 261.5 29.7 263.1 28.1 262zM19.1 274.9 20.8 276.2 19.6 277.9 17.8 276.7zM77.9 197.8 79.4 198.9 78.3 200.5 76.8 199.4zM73.4 203.4 75.3 204.7 74 206.6 72.1 205.3zM71.4 206.3 73.1 207.4 71.9 209.1 70.2 208zM69.5 209.3 71.1 210.5 70 212.2 68.3 211zM67.4 212.4 69.1 213.6 67.9 215.3 66.2 214.1zM63.4 217.9 65.3 219.3 63.9 221.2 62 219.9zM55.1 229.9 57 231.3 55.6 233.2 53.7 231.9zM36.5 256.6 38.1 257.7 37 259.3 35.4 258.2zM30 265.6 31.7 266.8 30.5 268.4 28.9 267.2zM20 280.2 21.6 281.3 20.5 282.9 18.9 281.8zM95.3 178.8 97.2 180.1 95.9 182 93.9 180.7zM93.2 182 95 183.3 93.7 185.1 91.9 183.8zM90.9 185 92.6 186.2 91.4 187.9 89.7 186.7zM89.1 187.6 90.8 188.8 89.6 190.5 87.9 189.3zM82.7 196.8 84.4 198 83.2 199.7 81.5 198.5zM66 220 67.8 221.2 66.6 223.1 64.7 221.8zM53.8 237.6 55.7 238.9 54.4 240.9 52.4 239.5zM51.7 240.7 53.6 242.1 52.2 244 50.3 242.6zM45.3 249.5 47.3 250.9 45.9 252.9 43.9 251.5zM35.1 264.6 36.8 265.8 35.6 267.6 33.9 266.3zM20.9 284.9 22.8 286.2 21.5 288 19.7 286.7zM97.9 180.9 99.6 182.1 98.5 183.8 96.8 182.6zM95.8 184.1 97.7 185.4 96.4 187.2 94.5 185.9zM75.4 213.5 77.3 214.8 76 216.6 74.2 215.4zM69 222.2 70.6 223.3 69.5 225 67.9 223.8zM64.9 228.2 66.8 229.5 65.5 231.4 63.6 230.1zM62.7 231.3 64.6 232.6 63.3 234.4 61.4 233.1zM58.7 237.3 60.2 238.4 59.1 240 57.6 238.9zM56.8 240.1 58.7 241.4 57.4 243.2 55.5 241.9zM42.1 260.3 44 261.7 42.7 263.6 40.7 262.2zM40.4 263.6 42.2 264.8 40.9 266.5 39.2 265.3zM34.1 272.4 35.8 273.6 34.6 275.4 32.8 274.1zM28.1 281.4 29.7 282.5 28.5 284.1 26.9 283zM25.6 284.3 27.3 285.5 26.1 287.2 24.4 286zM21.6 290 23.3 291.2 22.1 292.9 20.4 291.7zM103.1 180.3 104.8 181.5 103.6 183.2 101.9 182zM99 186.3 100.7 187.4 99.5 189 97.9 187.9zM86.5 203.5 88.5 204.9 87.1 206.9 85.2 205.5zM84.5 206.8 86.2 208 85 209.6 83.4 208.5zM76.3 218.2 78.3 219.6 76.9 221.6 74.9 220.2zM74 221.5 75.8 222.8 74.5 224.6 72.7 223.3zM72.1 224.2 74 225.5 72.7 227.4 70.8 226.1zM70.2 227.2 71.9 228.4 70.7 230.1 69 228.9zM59.5 241.9 61.3 243.2 60.1 245 58.2 243.7zM57.6 245 59.4 246.3 58.1 248 56.4 246.8zM49.4 256.6 51.4 258 50 260 48 258.6zM35 277.5 36.8 278.8 35.6 280.6 33.7 279.3zM26.8 289.3 28.6 290.6 27.3 292.4 25.5 291.1zM24.4 292.2 26.3 293.5 25 295.4 23.1 294.1zM107.9 179.2 109.7 180.5 108.4 182.3 106.6 181zM103.9 185.2 105.5 186.3 104.4 187.9 102.8 186.8zM101.7 188.2 103.3 189.3 102.2 190.9 100.6 189.8zM93.6 199.7 95.6 201.1 94.2 203.1 92.2 201.7zM87.2 208.7 89 209.9 87.7 211.8 85.9 210.5zM85.5 211.7 87.2 212.8 86 214.5 84.4 213.3zM81 217.2 82.9 218.6 81.6 220.5 79.6 219.1zM70.9 232.4 72.6 233.6 71.4 235.3 69.7 234.1zM64.8 241.2 66.6 242.4 65.3 244.2 63.5 243zM54.6 256 56.2 257.1 55.1 258.7 53.5 257.6zM41.8 273.5 43.8 274.9 42.4 276.8 40.4 275.5zM38 279.6 39.9 280.9 38.6 282.8 36.7 281.5zM35.7 282.4 37.3 283.6 36.2 285.2 34.6 284zM27.3 294.1 29.3 295.4 27.9 297.4 25.9 296zM23.4 300.2 25.1 301.4 23.9 303.2 22.2 302zM21.2 303.1 22.8 304.2 21.6 305.8 20 304.7zM102.9 193 104.8 194.3 103.5 196.2 101.6 194.9zM96.8 202 98.4 203.1 97.2 204.7 95.7 203.6zM92.2 207.8 94.1 209.1 92.8 211.1 90.9 209.7zM90.2 210.9 91.8 212 90.7 213.7 89 212.5zM88.3 213.6 90 214.8 88.8 216.5 87.2 215.3zM76 231.5 77.7 232.6 76.5 234.3 74.8 233.1zM67.7 243.2 69.6 244.6 68.3 246.6 66.3 245.2zM51 266.6 52.9 267.9 51.6 269.7 49.7 268.4zM42.9 278.3 44.8 279.6 43.5 281.5 41.6 280.2zM38.7 284.8 40.4 286 39.2 287.6 37.5 286.5zM34.6 290.4 36.5 291.7 35.1 293.6 33.2 292.3zM32.7 293.2 34.7 294.6 33.3 296.5 31.3 295.1zM28.2 299.3 30.2 300.7 28.8 302.6 26.9 301.2zM26.3 302.2 28.1 303.5 26.8 305.4 25 304.1zM109.9 189.1 111.8 190.4 110.5 192.3 108.6 191zM103.7 198.1 105.4 199.2 104.2 200.9 102.5 199.7zM99.3 204 101.2 205.4 99.8 207.2 98 205.9zM93.1 212.5 95.1 213.8 93.7 215.8 91.8 214.4zM86.9 221.7 88.6 222.8 87.4 224.5 85.8 223.3zM85.1 224.7 86.9 226 85.6 227.7 83.9 226.5zM83 227.4 84.8 228.6 83.6 230.5 81.7 229.2zM72.7 242.1 74.5 243.4 73.2 245.3 71.4 244zM70.4 245 72.3 246.3 71 248.2 69.1 246.9zM68.6 248.5 70.3 249.7 69.1 251.3 67.5 250.2zM56 266 57.6 267.1 56.5 268.8 54.9 267.6zM52 271.9 53.8 273.2 52.5 275 50.7 273.7zM39.9 289.5 41.5 290.6 40.3 292.3 38.7 291.1zM31.2 301.2 33 302.5 31.7 304.4 29.9 303.1zM118.7 182.2 120.7 183.6 119.3 185.6 117.3 184.2zM116.9 185.6 118.6 186.8 117.4 188.5 115.6 187.3zM114.9 188.3 116.5 189.4 115.4 191 113.8 189.9zM106.4 200.4 108 201.5 106.9 203.1 105.3 202zM104.6 203.1 106.5 204.4 105.2 206.2 103.3 204.9zM96.1 214.6 98.1 216 96.7 217.9 94.8 216.6zM89.9 223.9 91.7 225.2 90.5 227 88.7 225.7zM85.7 229.7 87.7 231 86.3 232.9 84.4 231.6zM77.8 241.5 79.8 242.9 78.4 244.8 76.4 243.5zM73.4 247 75.4 248.4 74 250.4 72.1 249zM71.5 250.1 73.4 251.4 72.1 253.3 70.2 252zM69.2 253.1 71.1 254.4 69.8 256.3 67.9 255zM65.5 259.1 67.4 260.5 66.1 262.5 64.1 261.1zM54.8 273.6 56.8 275 55.4 276.9 53.5 275.6zM52.9 276.8 54.8 278.1 53.5 280 51.6 278.7zM46.6 285.8 48.5 287.1 47.2 288.9 45.3 287.7zM44.6 288.5 46.5 289.8 45.2 291.8 43.3 290.4zM42.6 291.8 44.1 292.8 43 294.4 41.5 293.3zM113.9 196.2 115.6 197.4 114.4 199.1 112.7 197.9zM109.4 202.2 111.3 203.6 110 205.5 108.1 204.1zM105.2 208.2 107.1 209.6 105.8 211.4 103.9 210.1zM103.3 211.1 105.3 212.5 103.9 214.5 102 213.1zM88.9 231.8 90.7 233 89.5 234.8 87.7 233.5zM76.4 249.5 78.1 250.7 76.9 252.4 75.2 251.2zM70.4 258.4 72 259.5 70.9 261.1 69.3 260zM68.1 261.4 69.7 262.5 68.5 264.1 66.9 263zM66.3 264.4 68 265.6 66.8 267.3 65.1 266.1zM62.2 269.8 64.1 271.2 62.8 273.1 60.9 271.7zM55.7 278.5 57.7 279.9 56.3 281.9 54.3 280.5zM49.5 287.8 51.3 289.1 50 290.9 48.2 289.6zM41.6 299.8 43.2 300.9 42.1 302.5 40.5 301.4zM120.6 192.6 122.4 193.9 121.2 195.7 119.4 194.4zM116.5 198.2 118.3 199.5 117 201.4 115.2 200.1zM108.4 210.2 110.3 211.5 109 213.3 107.1 212zM97.9 225.1 99.7 226.3 98.4 228.2 96.6 226.9zM89.7 236.8 91.3 238 90.2 239.6 88.6 238.5zM81.3 248.5 83.2 249.8 81.9 251.7 80 250.4zM79.3 251.8 80.9 252.9 79.8 254.5 78.2 253.3zM71.3 263.3 73.2 264.6 71.9 266.5 70 265.2zM65 272.2 66.7 273.4 65.5 275.1 63.8 273.9zM63.1 275.4 64.6 276.5 63.6 278 62 276.9zM61 277.9 62.7 279.1 61.6 280.8 59.9 279.6zM58.8 281.1 60.6 282.3 59.4 284 57.6 282.8zM54.5 286.7 56.3 288 55 289.8 53.2 288.5zM52.8 289.6 54.6 290.9 53.3 292.8 51.5 291.5zM132.1 182.7 134.1 184.1 132.7 186.1 130.7 184.7zM121.4 197.7 123.1 198.9 121.9 200.5 120.3 199.4zM105 220.9 107 222.3 105.6 224.3 103.6 222.9zM103 224 104.7 225.3 103.5 227 101.8 225.8zM86.5 247.6 88.4 249 87.1 250.9 85.1 249.6zM84.3 250.6 86.3 252 84.9 254 83 252.6zM82.6 253.6 84.5 254.9 83.2 256.9 81.2 255.5zM69.9 271 71.9 272.4 70.5 274.4 68.5 273zM57.8 288.8 59.6 290.1 58.3 292 56.5 290.7zM139.2 179 140.8 180.2 139.7 181.9 138 180.7zM133 187.8 134.9 189.1 133.5 191.1 131.6 189.7zM128.5 193.8 130.3 195 129 196.8 127.3 195.5zM126.6 196.6 128.5 197.9 127.2 199.8 125.3 198.5zM118.5 208.1 120.5 209.5 119.1 211.5 117.1 210.1zM116.1 211.4 118 212.7 116.7 214.6 114.8 213.3zM112.1 217.3 114 218.7 112.7 220.6 110.7 219.3zM107.8 223.2 109.7 224.4 108.4 226.3 106.5 225zM95.7 241 97.3 242.1 96.2 243.6 94.6 242.5zM91.5 246.9 93.2 248.1 92 249.8 90.3 248.6zM85.5 255.6 87.1 256.7 85.9 258.3 84.4 257.1zM83.4 258.5 85.2 259.8 84 261.6 82.1 260.3zM71 276.2 72.8 277.5 71.6 279.3 69.8 278zM62.7 287.8 64.6 289.1 63.2 291 61.4 289.7zM60.7 291.3 62.3 292.4 61.2 294 59.6 292.9zM139.8 184 141.5 185.2 140.3 187 138.5 185.7zM133.6 192.7 135.5 194.1 134.2 196 132.2 194.7zM119.2 213.8 120.8 214.8 119.7 216.4 118.2 215.3zM115 219.4 116.7 220.6 115.5 222.2 113.8 221.1zM113 222.1 115 223.4 113.6 225.4 111.7 224zM108.8 228 110.6 229.2 109.3 231 107.6 229.8zM106.7 231.1 108.3 232.2 107.2 233.8 105.6 232.7zM102.8 237 104.7 238.3 103.3 240.2 101.4 238.9zM88.4 257.6 90.3 258.9 89 260.8 87.2 259.5zM84 263.4 85.8 264.6 84.5 266.3 82.8 265.1zM80.1 269.7 81.7 270.8 80.6 272.4 79 271.3zM77.9 272.1 79.8 273.5 78.5 275.4 76.5 274zM75.8 275.3 77.8 276.7 76.4 278.6 74.5 277.2zM69.5 284.3 71.2 285.5 70 287.2 68.3 286zM65.4 290.2 67 291.4 65.9 293 64.2 291.9zM63.7 293 65.6 294.3 64.3 296.2 62.4 294.9zM61.5 295.7 63.5 297.1 62.1 299.1 60.2 297.7zM140.7 188.9 142.3 190 141.2 191.7 139.6 190.5zM134.6 197.8 136.4 199 135.2 200.7 133.4 199.5zM130.4 203.7 132 204.8 130.9 206.4 129.3 205.3zM120.3 218.8 121.8 219.9 120.7 221.4 119.2 220.3zM118.1 221.2 119.9 222.5 118.6 224.3 116.8 223zM116.2 224.5 117.8 225.6 116.6 227.2 115 226.1zM114 227.1 115.9 228.4 114.6 230.3 112.7 229zM109.7 233.1 111.6 234.4 110.3 236.3 108.4 234.9zM107.7 236 109.5 237.2 108.2 239 106.4 237.8zM99.5 247.7 101.4 249 100.1 250.8 98.2 249.5zM83 271.4 84.8 272.7 83.6 274.5 81.8 273.2zM72.8 286.1 74.8 287.5 73.4 289.5 71.4 288.1zM141.5 193.9 143.2 195.1 142 196.9 140.2 195.7zM139.7 196.8 141.7 198.2 140.3 200.1 138.4 198.8zM131.3 208.7 132.9 209.8 131.8 211.4 130.3 210.3zM127.3 214.6 128.8 215.7 127.7 217.3 126.2 216.2zM121.2 223.6 122.8 224.7 121.7 226.4 120.1 225.2zM98.4 255.8 100.1 257 98.9 258.7 97.2 257.5zM94.2 261.6 96.1 262.9 94.8 264.8 92.9 263.5zM90.2 267.9 91.8 269.1 90.7 270.7 89 269.6zM81.8 279.5 83.8 280.9 82.4 282.9 80.4 281.5zM73.5 291.3 75.2 292.5 74 294.2 72.2 293zM71.2 294.1 73.2 295.5 71.8 297.4 69.9 296.1zM140.4 202.2 142.1 203.4 140.9 205.1 139.2 203.9zM138.6 205.2 140.2 206.3 139.1 207.9 137.5 206.8zM136.5 207.8 138.2 209 137 210.7 135.3 209.5zM121.9 228.5 123.6 229.7 122.4 231.4 120.7 230.2zM120 231.3 121.7 232.5 120.5 234.3 118.8 233zM117.9 234.2 119.8 235.5 118.4 237.5 116.5 236.1zM115.6 237.2 117.6 238.6 116.2 240.6 114.2 239.2zM88.9 275.6 90.8 277 89.5 278.9 87.6 277.6zM84.7 281.7 86.4 282.9 85.2 284.6 83.5 283.4zM82.8 284.5 84.4 285.6 83.3 287.2 81.7 286.1zM76.2 293 78.2 294.4 76.8 296.4 74.8 295zM70.4 302 72.5 303.4 71 305.4 69 304zM127.1 227.8 128.8 229 127.6 230.7 126 229.5zM122.8 233.4 124.6 234.6 123.3 236.4 121.5 235.2zM120.5 236.5 122.3 237.7 121.1 239.5 119.3 238.3zM116.4 242.1 118.4 243.4 117 245.3 115.1 244zM108.1 253.9 110 255.2 108.7 257.1 106.8 255.8zM102.3 263.2 103.9 264.3 102.8 265.9 101.2 264.8zM87.8 283.7 89.8 285 88.4 287 86.4 285.6zM83.8 289.5 85.5 290.7 84.3 292.5 82.5 291.3zM79.6 295.5 81.2 296.6 80.1 298.2 78.5 297.1zM77.5 298.2 79.5 299.6 78.1 301.6 76.1 300.2zM133.8 223.8 135.6 225 134.3 226.9 132.5 225.6zM129.7 229.7 131.4 230.9 130.2 232.6 128.5 231.4zM125.6 235.5 127.5 236.8 126.2 238.7 124.3 237.4zM119.4 244.4 121.3 245.8 120 247.8 118 246.4zM117.4 247.4 119.3 248.7 118 250.7 116.1 249.3zM96.7 277.1 98.3 278.3 97.2 279.9 95.5 278.8zM94.6 279.5 96.5 280.8 95.2 282.8 93.3 281.4zM84.4 294.8 86 295.9 84.9 297.4 83.3 296.4zM80.3 300.3 82.2 301.7 80.8 303.7 78.9 302.3zM78.5 303.4 80.1 304.5 79 306.1 77.3 305zM138.8 222.8 140.7 224.2 139.4 226.1 137.4 224.8zM136.8 225.7 138.6 227 137.4 228.8 135.5 227.5zM126.4 240.7 128.1 241.9 126.9 243.6 125.2 242.4zM120.3 249.5 121.9 250.6 120.8 252.2 119.2 251.1zM118.4 252.7 119.9 253.8 118.9 255.3 117.3 254.2zM116.4 255.3 118.3 256.6 117 258.5 115.1 257.2zM112.4 261.2 114 262.4 112.9 264 111.3 262.9zM106.2 270.1 107.9 271.3 106.7 273 105 271.8zM104 273 105.7 274.3 104.5 276.1 102.7 274.8zM101.9 276.2 103.6 277.4 102.4 279.1 100.8 277.9zM95.5 284.5 97.4 285.9 96.1 287.8 94.1 286.5zM93.4 288 95.1 289.2 93.9 290.9 92.3 289.7zM89.7 293.4 91.5 294.7 90.2 296.5 88.4 295.2zM83.4 302.8 85 303.9 83.9 305.5 82.3 304.4zM138 230.8 139.8 232.1 138.5 233.9 136.8 232.6zM125.6 248.4 127.6 249.8 126.2 251.8 124.1 250.4zM123.3 251.6 125.1 252.9 123.9 254.7 122 253.4zM106.7 275 108.4 276.2 107.2 278 105.4 276.8zM100.6 284 102.2 285.1 101.1 286.7 99.5 285.6zM138.6 235.9 140.6 237.3 139.2 239.3 137.2 237.9zM132.3 244.4 134.3 245.8 132.9 247.8 130.9 246.4zM128.5 250.8 130.1 251.9 129 253.4 127.4 252.3zM124.4 256.6 126.2 257.8 124.9 259.7 123.1 258.4zM120.3 262.6 122 263.8 120.8 265.5 119.1 264.3zM107.9 279.9 109.7 281.1 108.5 282.9 106.7 281.7zM137.6 243.9 139.4 245.1 138.2 246.9 136.4 245.6zM125.3 261.5 127.3 262.9 125.9 264.8 124 263.5zM123 264.5 124.6 265.5 123.5 267.1 121.9 266zM121 267.3 122.8 268.5 121.5 270.4 119.7 269.1zM118.8 270.1 120.8 271.5 119.4 273.5 117.4 272.1zM108.8 285 110.5 286.2 109.3 287.9 107.6 286.7zM104.6 291.3 106.2 292.4 105.1 294 103.5 292.9zM142.4 243.2 144 244.3 142.9 245.9 141.3 244.8zM134.4 254.8 135.9 255.9 134.8 257.5 133.3 256.4zM132.4 257.8 134.1 259 132.9 260.7 131.1 259.5zM130.2 260.5 131.8 261.7 130.6 263.3 129 262.2zM119.7 275.3 121.4 276.5 120.2 278.2 118.5 277zM118 278.5 119.8 279.7 118.5 281.5 116.7 280.3zM111.7 287 113.6 288.3 112.3 290.2 110.4 288.9zM107.6 292.8 109.5 294.1 108.2 296 106.3 294.7zM101.3 301.8 103.1 303 101.9 304.7 100.1 303.5zM124.8 274.6 126.6 275.8 125.3 277.6 123.6 276.4zM116.8 286.2 118.7 287.6 117.4 289.6 115.4 288.2zM106.2 301.1 107.9 302.3 106.7 304.1 104.9 302.8zM136.1 264.9 137.7 266 136.6 267.6 135 266.5zM134.1 267.5 135.9 268.7 134.6 270.5 132.8 269.3zM125.6 279.2 127.6 280.6 126.2 282.6 124.2 281.2zM117.5 291.1 119.3 292.5 118 294.3 116.1 293zM113.3 297.2 114.9 298.3 113.8 300 112.1 298.8zM109.2 303.3 110.8 304.4 109.7 306 108.1 304.9zM137 269.8 138.7 271 137.5 272.8 135.7 271.6zM135.1 272.6 136.9 273.9 135.6 275.7 133.8 274.4zM130.6 278.7 132.4 280 131.1 281.8 129.3 280.5zM126.6 284.4 128.4 285.6 127.2 287.4 125.4 286.1zM114.1 302.3 115.7 303.4 114.5 305 112.9 303.9zM140.1 272.1 141.7 273.3 140.5 274.9 138.9 273.8zM133.9 280.5 135.7 281.7 134.4 283.5 132.7 282.3zM127.4 289.5 129 290.6 127.9 292.2 126.3 291.1zM123.4 295.1 125.4 296.5 124 298.5 122 297.1zM140.7 276.7 142.5 277.9 141.2 279.7 139.4 278.4zM138.7 280 140.2 281.1 139.1 282.6 137.6 281.5zM130.3 291.6 132.1 292.9 130.9 294.6 129.1 293.4zM128.6 294.5 130.4 295.8 129.1 297.7 127.2 296.4zM126.3 297.2 128.2 298.6 126.9 300.5 124.9 299.2zM124.2 300.2 126.1 301.5 124.7 303.5 122.8 302.1zM141.7 282 143.5 283.3 142.2 285.1 140.4 283.8zM139.5 284.9 141.3 286.2 140 287.9 138.2 286.7zM137.5 287.8 139.4 289.1 138.1 291 136.2 289.7zM135.3 290.8 137.1 292.1 135.8 293.9 134 292.6zM142.7 287.1 144.4 288.2 143.2 289.9 141.6 288.7zM134.2 298.8 135.9 300 134.7 301.7 133 300.5zM139.5 298 141.1 299.1 140 300.6 138.4 299.5zM137.3 300.6 139.2 302 137.8 303.9 135.9 302.5zM142.4 299.9 143.9 300.9 142.9 302.5 141.3 301.4z"/>
</g>
<text x="2.5" y="16.4" font-size="12.4" fill="#1a1a1a" letter-spacing="0.4">(a)</text>
<text x="3.4" y="178.4" font-size="12.4" fill="#1a1a1a" letter-spacing="0.4">(b)</text>
<text x="103.2" y="33.2" font-size="8.5" font-weight="bold" fill="#fff">CsPbBr<tspan font-size="5.5" dy="2">3</tspan></text>
<text x="41.8" y="196.5" font-size="8" font-weight="bold" fill="#fff">4.7% Mn-doped CsPbBr<tspan font-size="5.3" dy="2">3</tspan></text>
<text x="27.2" y="126.3" font-size="6.4" font-weight="bold" fill="#fff">50 nm</text>
<rect x="26.5" y="128" width="21.5" height="2" fill="#fff"/>
<text x="26.2" y="289.9" font-size="6.4" font-weight="bold" fill="#fff">50 nm</text>
<rect x="24.2" y="291.8" width="21.6" height="1.8" fill="#fff"/>
<defs><pattern id="hp" width="8.7" height="8.7" patternUnits="userSpaceOnUse" patternTransform="rotate(45)"><rect width="8.7" height="8.7" fill="#fff"/><rect x="0" y="0" width="8.7" height="1.3" fill="#ab9fe0"/></pattern><pattern id="hg" width="4" height="4" patternUnits="userSpaceOnUse" patternTransform="rotate(45)"><rect width="4" height="4" fill="#fff"/><rect x="0" y="0" width="4" height="0.8" fill="#8cc63f"/></pattern></defs>
<rect x="197.6" y="137.04" width="4.4" height="1.96" fill="url(#hp)" stroke="#a497dc" stroke-width="1.4"/>
<rect x="205.2" y="131.46" width="6.3" height="7.54" fill="url(#hp)" stroke="#a497dc" stroke-width="1.4"/>
<rect x="213.1" y="99.79" width="6.4" height="39.21" fill="url(#hp)" stroke="#a497dc" stroke-width="1.4"/>
<rect x="221.1" y="42.49" width="6.5" height="96.51" fill="url(#hp)" stroke="#a497dc" stroke-width="1.4"/>
<rect x="229.2" y="33.44" width="6.3" height="105.56" fill="url(#hp)" stroke="#a497dc" stroke-width="1.4"/>
<rect x="237.1" y="44" width="6.4" height="95" fill="url(#hp)" stroke="#a497dc" stroke-width="1.4"/>
<rect x="245.1" y="71.14" width="5.3" height="67.86" fill="url(#hp)" stroke="#a497dc" stroke-width="1.4"/>
<rect x="252" y="98.28" width="6.6" height="40.72" fill="url(#hp)" stroke="#a497dc" stroke-width="1.4"/>
<rect x="260.2" y="128.44" width="6.2" height="10.56" fill="url(#hp)" stroke="#a497dc" stroke-width="1.4"/>
<rect x="294.1" y="137.49" width="4.6" height="1.51" fill="url(#hp)" stroke="#a497dc" stroke-width="1.4"/>
<path d="M198.77,135.09 L199.27,134.71 L199.77,134.31 L200.27,133.87 L200.77,133.39 L201.27,132.89 L201.77,132.34 L202.27,131.76 L202.77,131.13 L203.27,130.46 L203.77,129.74 L204.27,128.98 L204.77,128.17 L205.27,127.31 L205.77,126.4 L206.27,125.43 L206.77,124.4 L207.27,123.32 L207.77,122.19 L208.27,120.99 L208.77,119.73 L209.27,118.41 L209.77,117.02 L210.27,115.58 L210.77,114.07 L211.27,112.49 L211.77,110.86 L212.27,109.16 L212.77,107.4 L213.27,105.58 L213.77,103.7 L214.27,101.76 L214.77,99.76 L215.27,97.71 L215.77,95.61 L216.27,93.46 L216.77,91.26 L217.27,89.02 L217.77,86.75 L218.27,84.44 L218.77,82.1 L219.27,79.74 L219.77,77.36 L220.27,74.96 L220.77,72.56 L221.27,70.15 L221.77,67.75 L222.27,65.36 L222.77,62.99 L223.27,60.64 L223.77,58.32 L224.27,56.04 L224.77,53.8 L225.27,51.62 L225.77,49.49 L226.27,47.43 L226.77,45.44 L227.27,43.53 L227.77,41.71 L228.27,39.98 L228.77,38.35 L229.27,36.82 L229.77,35.4 L230.27,34.1 L230.77,32.91 L231.27,31.85 L231.77,30.92 L232.27,30.12 L232.77,29.45 L233.27,28.92 L233.77,28.53 L234.27,28.28 L234.77,28.17 L235.27,28.2 L235.77,28.37 L236.27,28.69 L236.77,29.15 L237.27,29.74 L237.77,30.47 L238.27,31.33 L238.77,32.32 L239.27,33.44 L239.77,34.68 L240.27,36.04 L240.77,37.51 L241.27,39.09 L241.77,40.76 L242.27,42.54 L242.77,44.4 L243.27,46.35 L243.77,48.37 L244.27,50.46 L244.77,52.61 L245.27,54.82 L245.77,57.08 L246.27,59.38 L246.77,61.71 L247.27,64.08 L247.77,66.46 L248.27,68.85 L248.77,71.26 L249.27,73.66 L249.77,76.06 L250.27,78.45 L250.77,80.83 L251.27,83.18 L251.77,85.5 L252.27,87.8 L252.77,90.06 L253.27,92.28 L253.77,94.45 L254.27,96.58 L254.77,98.66 L255.27,100.68 L255.77,102.65 L256.27,104.57 L256.77,106.42 L257.27,108.22 L257.77,109.95 L258.27,111.62 L258.77,113.23 L259.27,114.77 L259.77,116.25 L260.27,117.67 L260.77,119.02 L261.27,120.31 L261.77,121.55 L262.27,122.72 L262.77,123.83 L263.27,124.88 L263.77,125.88 L264.27,126.82 L264.77,127.71 L265.27,128.55 L265.77,129.34 L266.27,130.08 L266.77,130.77 L267.27,131.42 L267.77,132.03 L268.27,132.6 L268.77,133.12 L269.27,133.62 L269.77,134.07 L270.27,134.5 L270.77,134.89 L271.27,135.25 L271.77,135.59 L272.27,135.9 L272.77,136.18 L273.27,136.44 L273.77,136.68 L274.27,136.91 L274.77,137.11 L275.27,137.29 L275.77,137.46 L276.27,137.61" fill="none" stroke="#1e1e1e" stroke-width="1.9"/>
<line x1="223.1" y1="82.6" x2="246.4" y2="82.6" stroke="#1e1e1e" stroke-width="1.6"/>
<path d="M218.9,82.6 L225.9,79.6 L224.6,82.6 L225.9,85.6 Z" fill="#1e1e1e"/>
<path d="M250.6,82.6 L243.6,79.6 L244.9,82.6 L243.6,85.6 Z" fill="#1e1e1e"/>
<rect x="226.6" y="88.5" width="17" height="15" fill="#fff" stroke="#5b4fb0" stroke-width="1"/>
<text x="235.1" y="100.3" font-size="11" text-anchor="middle" font-weight="bold" fill="#151515">2.0</text>
<text x="271.5" y="29.6" font-size="8.3" font-weight="bold" fill="#42369c">CsPbBr<tspan font-size="5.6" dy="2">3</tspan></text>
<text x="253.8" y="60.4" font-size="11.1" font-weight="bold" fill="#3b2e94">6.41±0.87</text>
<rect x="188" y="18.4" width="120.5" height="120.6" fill="none" stroke="#1c1c1c" stroke-width="1.3"/>
<line x1="188" y1="139" x2="190.8" y2="139" stroke="#1c1c1c" stroke-width="1.1"/>
<text x="184" y="142.6" font-size="10" text-anchor="end" fill="#1a1a1a" letter-spacing="0.7" stroke="#1a1a1a" stroke-width="0.25">0</text>
<line x1="188" y1="116.38" x2="190.8" y2="116.38" stroke="#1c1c1c" stroke-width="1.1"/>
<text x="184" y="119.98" font-size="10" text-anchor="end" fill="#1a1a1a" letter-spacing="0.7" stroke="#1a1a1a" stroke-width="0.25">15</text>
<line x1="188" y1="93.76" x2="190.8" y2="93.76" stroke="#1c1c1c" stroke-width="1.1"/>
<text x="184" y="97.36" font-size="10" text-anchor="end" fill="#1a1a1a" letter-spacing="0.7" stroke="#1a1a1a" stroke-width="0.25">30</text>
<line x1="188" y1="71.14" x2="190.8" y2="71.14" stroke="#1c1c1c" stroke-width="1.1"/>
<text x="184" y="74.74" font-size="10" text-anchor="end" fill="#1a1a1a" letter-spacing="0.7" stroke="#1a1a1a" stroke-width="0.25">45</text>
<line x1="188" y1="48.52" x2="190.8" y2="48.52" stroke="#1c1c1c" stroke-width="1.1"/>
<text x="184" y="52.12" font-size="10" text-anchor="end" fill="#1a1a1a" letter-spacing="0.7" stroke="#1a1a1a" stroke-width="0.25">60</text>
<line x1="188" y1="25.9" x2="190.8" y2="25.9" stroke="#1c1c1c" stroke-width="1.1"/>
<text x="184" y="29.5" font-size="10" text-anchor="end" fill="#1a1a1a" letter-spacing="0.7" stroke="#1a1a1a" stroke-width="0.25">75</text>
<line x1="196.2" y1="139" x2="196.2" y2="136.3" stroke="#1c1c1c" stroke-width="1.1"/>
<text x="196.55" y="152.8" font-size="10" text-anchor="middle" fill="#1a1a1a" letter-spacing="0.7" stroke="#1a1a1a" stroke-width="0.25">4</text>
<line x1="212.26" y1="139" x2="212.26" y2="136.3" stroke="#1c1c1c" stroke-width="1.1"/>
<text x="212.61" y="152.8" font-size="10" text-anchor="middle" fill="#1a1a1a" letter-spacing="0.7" stroke="#1a1a1a" stroke-width="0.25">5</text>
<line x1="228.32" y1="139" x2="228.32" y2="136.3" stroke="#1c1c1c" stroke-width="1.1"/>
<text x="228.67" y="152.8" font-size="10" text-anchor="middle" fill="#1a1a1a" letter-spacing="0.7" stroke="#1a1a1a" stroke-width="0.25">6</text>
<line x1="244.38" y1="139" x2="244.38" y2="136.3" stroke="#1c1c1c" stroke-width="1.1"/>
<text x="244.73" y="152.8" font-size="10" text-anchor="middle" fill="#1a1a1a" letter-spacing="0.7" stroke="#1a1a1a" stroke-width="0.25">7</text>
<line x1="260.44" y1="139" x2="260.44" y2="136.3" stroke="#1c1c1c" stroke-width="1.1"/>
<text x="260.79" y="152.8" font-size="10" text-anchor="middle" fill="#1a1a1a" letter-spacing="0.7" stroke="#1a1a1a" stroke-width="0.25">8</text>
<line x1="276.5" y1="139" x2="276.5" y2="136.3" stroke="#1c1c1c" stroke-width="1.1"/>
<text x="276.85" y="152.8" font-size="10" text-anchor="middle" fill="#1a1a1a" letter-spacing="0.7" stroke="#1a1a1a" stroke-width="0.25">9</text>
<line x1="292.56" y1="139" x2="292.56" y2="136.3" stroke="#1c1c1c" stroke-width="1.1"/>
<text x="292.91" y="152.8" font-size="10" text-anchor="middle" fill="#1a1a1a" letter-spacing="0.7" stroke="#1a1a1a" stroke-width="0.25">10</text>
<line x1="308.62" y1="139" x2="308.62" y2="136.3" stroke="#1c1c1c" stroke-width="1.1"/>
<text x="308.97" y="152.8" font-size="10" text-anchor="middle" fill="#1a1a1a" letter-spacing="0.7" stroke="#1a1a1a" stroke-width="0.25">11</text>
<text x="251.7" y="167.3" font-size="11" text-anchor="middle" fill="#1a1a1a" stroke="#1a1a1a" stroke-width="0.2">Diameter (nm)</text>
<text transform="translate(164.4,74.35) rotate(-90)" font-size="11.2" text-anchor="middle" fill="#1a1a1a" stroke="#1a1a1a" stroke-width="0.2">Number of QDs</text>
<rect x="208" y="296.47" width="3.3" height="6.03" fill="url(#hg)" stroke="#8cc63f" stroke-width="1.6"/>
<rect x="211.3" y="282.4" width="3.2" height="20.1" fill="url(#hg)" stroke="#8cc63f" stroke-width="1.6"/>
<rect x="214.5" y="262.3" width="3.1" height="40.2" fill="url(#hg)" stroke="#8cc63f" stroke-width="1.6"/>
<rect x="217.6" y="244.21" width="3.1" height="58.29" fill="url(#hg)" stroke="#8cc63f" stroke-width="1.6"/>
<rect x="220.7" y="226.12" width="3.1" height="76.38" fill="url(#hg)" stroke="#8cc63f" stroke-width="1.6"/>
<rect x="223.8" y="210.04" width="2.9" height="92.46" fill="url(#hg)" stroke="#8cc63f" stroke-width="1.6"/>
<rect x="226.7" y="192.96" width="3.1" height="109.54" fill="url(#hg)" stroke="#8cc63f" stroke-width="1.6"/>
<rect x="229.8" y="199.99" width="3.1" height="102.51" fill="url(#hg)" stroke="#8cc63f" stroke-width="1.6"/>
<rect x="232.9" y="218.08" width="3.1" height="84.42" fill="url(#hg)" stroke="#8cc63f" stroke-width="1.6"/>
<rect x="236" y="232.15" width="3.1" height="70.35" fill="url(#hg)" stroke="#8cc63f" stroke-width="1.6"/>
<rect x="239.1" y="244.21" width="3.1" height="58.29" fill="url(#hg)" stroke="#8cc63f" stroke-width="1.6"/>
<rect x="242.2" y="260.29" width="3" height="42.21" fill="url(#hg)" stroke="#8cc63f" stroke-width="1.6"/>
<rect x="245.2" y="276.37" width="3.2" height="26.13" fill="url(#hg)" stroke="#8cc63f" stroke-width="1.6"/>
<rect x="248.4" y="287.43" width="3.1" height="15.07" fill="url(#hg)" stroke="#8cc63f" stroke-width="1.6"/>
<rect x="251.5" y="295.67" width="3.2" height="6.83" fill="url(#hg)" stroke="#8cc63f" stroke-width="1.6"/>
<path d="M210.33,293.42 L210.83,292.53 L211.33,291.55 L211.83,290.46 L212.33,289.25 L212.83,287.92 L213.33,286.47 L213.83,284.88 L214.33,283.14 L214.83,281.26 L215.33,279.23 L215.83,277.04 L216.33,274.7 L216.83,272.2 L217.33,269.54 L217.83,266.74 L218.33,263.78 L218.83,260.68 L219.33,257.46 L219.83,254.11 L220.33,250.67 L220.83,247.13 L221.33,243.53 L221.83,239.88 L222.33,236.21 L222.83,232.55 L223.33,228.93 L223.83,225.37 L224.33,221.91 L224.83,218.59 L225.33,215.45 L225.83,212.52 L226.33,209.85 L226.83,207.46 L227.33,205.41 L227.83,203.71 L228.33,202.41 L228.83,201.52 L229.33,201.06 L229.83,201.04 L230.33,201.46 L230.83,202.31 L231.33,203.58 L231.83,205.24 L232.33,207.27 L232.83,209.62 L233.33,212.28 L233.83,215.18 L234.33,218.31 L234.83,221.61 L235.33,225.06 L235.83,228.61 L236.33,232.23 L236.83,235.89 L237.33,239.56 L237.83,243.21 L238.33,246.82 L238.83,250.36 L239.33,253.81 L239.83,257.17 L240.33,260.41 L240.83,263.51 L241.33,266.48 L241.83,269.3 L242.33,271.97 L242.83,274.49 L243.33,276.84 L243.83,279.04 L244.33,281.09 L244.83,282.98 L245.33,284.73 L245.83,286.33 L246.33,287.8 L246.83,289.14 L247.33,290.35 L247.83,291.46 L248.33,292.45 L248.83,293.35 L249.33,294.15 L249.83,294.87 L250.33,295.52 L250.83,296.09 L251.33,296.6 L251.83,297.06" fill="none" stroke="#1f7a1f" stroke-width="1.9"/>
<line x1="223" y1="251.8" x2="235.1" y2="251.8" stroke="#1f7a1f" stroke-width="1.4"/>
<path d="M220.9,251.8 L224.4,249.4 L224.4,251.8 L224.4,254.2 Z" fill="#1f7a1f"/>
<path d="M237.2,251.8 L233.7,249.4 L233.7,251.8 L233.7,254.2 Z" fill="#1f7a1f"/>
<rect x="220.5" y="253.1" width="16.7" height="14.1" fill="#fff" stroke="#1f7a1f" stroke-width="1"/>
<text x="228.9" y="264.2" font-size="11.2" text-anchor="middle" font-weight="bold" fill="#145c14">1.2</text>
<text x="210" y="192.2" font-size="8.3" font-weight="bold" fill="#1f7a1f">4.7% Mn-doped CsPbBr<tspan font-size="5.6" dy="2">3</tspan></text>
<text x="254.4" y="228.4" font-size="11" font-weight="bold" fill="#1f7a1f">6.08±0.49</text>
<rect x="188" y="182" width="120.3" height="120.5" fill="none" stroke="#1c1c1c" stroke-width="1.3"/>
<line x1="188" y1="302.5" x2="190.8" y2="302.5" stroke="#1c1c1c" stroke-width="1.1"/>
<text x="184" y="306.1" font-size="10" text-anchor="end" fill="#1a1a1a" letter-spacing="0.7" stroke="#1a1a1a" stroke-width="0.25">0</text>
<line x1="188" y1="282.4" x2="190.8" y2="282.4" stroke="#1c1c1c" stroke-width="1.1"/>
<text x="184" y="286" font-size="10" text-anchor="end" fill="#1a1a1a" letter-spacing="0.7" stroke="#1a1a1a" stroke-width="0.25">10</text>
<line x1="188" y1="262.3" x2="190.8" y2="262.3" stroke="#1c1c1c" stroke-width="1.1"/>
<text x="184" y="265.9" font-size="10" text-anchor="end" fill="#1a1a1a" letter-spacing="0.7" stroke="#1a1a1a" stroke-width="0.25">20</text>
<line x1="188" y1="242.2" x2="190.8" y2="242.2" stroke="#1c1c1c" stroke-width="1.1"/>
<text x="184" y="245.8" font-size="10" text-anchor="end" fill="#1a1a1a" letter-spacing="0.7" stroke="#1a1a1a" stroke-width="0.25">30</text>
<line x1="188" y1="222.1" x2="190.8" y2="222.1" stroke="#1c1c1c" stroke-width="1.1"/>
<text x="184" y="225.7" font-size="10" text-anchor="end" fill="#1a1a1a" letter-spacing="0.7" stroke="#1a1a1a" stroke-width="0.25">40</text>
<line x1="188" y1="202" x2="190.8" y2="202" stroke="#1c1c1c" stroke-width="1.1"/>
<text x="184" y="205.6" font-size="10" text-anchor="end" fill="#1a1a1a" letter-spacing="0.7" stroke="#1a1a1a" stroke-width="0.25">50</text>
<line x1="188" y1="181.9" x2="190.8" y2="181.9" stroke="#1c1c1c" stroke-width="1.1"/>
<text x="184" y="185.5" font-size="10" text-anchor="end" fill="#1a1a1a" letter-spacing="0.7" stroke="#1a1a1a" stroke-width="0.25">60</text>
<line x1="196.2" y1="302.5" x2="196.2" y2="299.8" stroke="#1c1c1c" stroke-width="1.1"/>
<text x="196.55" y="316.3" font-size="10" text-anchor="middle" fill="#1a1a1a" letter-spacing="0.7" stroke="#1a1a1a" stroke-width="0.25">4</text>
<line x1="212.26" y1="302.5" x2="212.26" y2="299.8" stroke="#1c1c1c" stroke-width="1.1"/>
<text x="212.61" y="316.3" font-size="10" text-anchor="middle" fill="#1a1a1a" letter-spacing="0.7" stroke="#1a1a1a" stroke-width="0.25">5</text>
<line x1="228.32" y1="302.5" x2="228.32" y2="299.8" stroke="#1c1c1c" stroke-width="1.1"/>
<text x="228.67" y="316.3" font-size="10" text-anchor="middle" fill="#1a1a1a" letter-spacing="0.7" stroke="#1a1a1a" stroke-width="0.25">6</text>
<line x1="244.38" y1="302.5" x2="244.38" y2="299.8" stroke="#1c1c1c" stroke-width="1.1"/>
<text x="244.73" y="316.3" font-size="10" text-anchor="middle" fill="#1a1a1a" letter-spacing="0.7" stroke="#1a1a1a" stroke-width="0.25">7</text>
<line x1="260.44" y1="302.5" x2="260.44" y2="299.8" stroke="#1c1c1c" stroke-width="1.1"/>
<text x="260.79" y="316.3" font-size="10" text-anchor="middle" fill="#1a1a1a" letter-spacing="0.7" stroke="#1a1a1a" stroke-width="0.25">8</text>
<line x1="276.5" y1="302.5" x2="276.5" y2="299.8" stroke="#1c1c1c" stroke-width="1.1"/>
<text x="276.85" y="316.3" font-size="10" text-anchor="middle" fill="#1a1a1a" letter-spacing="0.7" stroke="#1a1a1a" stroke-width="0.25">9</text>
<line x1="292.56" y1="302.5" x2="292.56" y2="299.8" stroke="#1c1c1c" stroke-width="1.1"/>
<text x="292.91" y="316.3" font-size="10" text-anchor="middle" fill="#1a1a1a" letter-spacing="0.7" stroke="#1a1a1a" stroke-width="0.25">10</text>
<line x1="308.62" y1="302.5" x2="308.62" y2="299.8" stroke="#1c1c1c" stroke-width="1.1"/>
<text x="308.97" y="316.3" font-size="10" text-anchor="middle" fill="#1a1a1a" letter-spacing="0.7" stroke="#1a1a1a" stroke-width="0.25">11</text>
<text x="255.6" y="329.8" font-size="11.1" text-anchor="middle" fill="#1a1a1a" stroke="#1a1a1a" stroke-width="0.2">Diameter (nm)</text>
<text transform="translate(164.6,233.5) rotate(-90)" font-size="11.2" text-anchor="middle" fill="#1a1a1a" stroke="#1a1a1a" stroke-width="0.2">Number of QDs</text>
<text x="156.4" y="174.1" font-size="12.4" fill="#1a1a1a" letter-spacing="0.3">(d)</text>
<text x="157.2" y="14.1" font-size="12.4" fill="#1a1a1a" letter-spacing="0.3">(c)</text>
<path d="M352.6,28 C352.92,27.63 353.8,26.37 354.5,25.8 C355.2,25.23 356.12,24.65 356.8,24.6 C357.48,24.55 358.13,24.68 358.6,25.5 C359.07,26.32 359.15,27 359.6,29.5 C360.05,32 360.68,36.33 361.3,40.5 C361.92,44.67 362.65,50.17 363.3,54.5 C363.95,58.83 364.58,62.92 365.2,66.5 C365.82,70.08 366.43,73.45 367,76 C367.57,78.55 368.02,80.05 368.6,81.8 C369.18,83.55 369.8,85.02 370.5,86.5 C371.2,87.98 371.72,89.03 372.8,90.7 C373.88,92.37 375.63,94.78 377,96.5 C378.37,98.22 379.5,99.17 381,101 C382.5,102.83 384.27,105.43 386,107.5 C387.73,109.57 389.73,111.82 391.4,113.4 C393.07,114.98 394.28,115.95 396,117 C397.72,118.05 399.87,118.83 401.7,119.7 C403.53,120.57 405.28,121.47 407,122.2 C408.72,122.93 410.17,123.63 412,124.1 C413.83,124.57 415.68,124.62 418,125 C420.32,125.38 422.77,126.03 425.9,126.4 C429.03,126.77 434.25,127.02 436.8,127.2 C439.35,127.38 439.38,127 441.2,127.5 C443.02,128 445.52,129.38 447.7,130.2 C449.88,131.02 452.25,131.97 454.3,132.4 C456.35,132.83 450.55,132.73 460,132.8 C469.45,132.87 502.5,132.8 511,132.8" fill="none" stroke="#a093dd" stroke-width="1.6" stroke-linejoin="round"/>
<path d="M352.6,26.3 C352.92,26.08 353.9,25.28 354.5,25 C355.1,24.72 355.62,24.35 356.2,24.6 C356.78,24.85 357.48,25.53 358,26.5 C358.52,27.47 358.73,28.02 359.3,30.4 C359.87,32.78 360.7,36.65 361.4,40.8 C362.1,44.95 362.82,50.82 363.5,55.3 C364.18,59.78 364.87,64.5 365.5,67.7 C366.13,70.9 366.78,72.78 367.3,74.5 C367.82,76.22 368.03,76.78 368.6,78 C369.17,79.22 369.67,80.42 370.7,81.8 C371.73,83.18 373.42,84.82 374.8,86.3 C376.18,87.78 377.63,89.18 379,90.7 C380.37,92.22 381.63,93.85 383,95.4 C384.37,96.95 385.8,98.03 387.2,100 C388.6,101.97 389.83,104.97 391.4,107.2 C392.97,109.43 394.88,112.02 396.6,113.4 C398.32,114.78 400.13,114.4 401.7,115.5 C403.27,116.6 404.62,118.55 406,120 C407.38,121.45 408.5,122.87 410,124.2 C411.5,125.53 413.62,127.2 415,128 C416.38,128.8 416.48,128.63 418.3,129 C420.12,129.37 422.82,129.77 425.9,130.2 C428.98,130.63 434.07,131.33 436.8,131.6 C439.53,131.87 440.48,131.48 442.3,131.8 C444.12,132.12 445.88,132.77 447.7,133.5 C449.52,134.23 451.57,135.43 453.2,136.2 C454.83,136.97 456.03,137.72 457.5,138.1 C458.97,138.48 453.08,138.43 462,138.5 C470.92,138.57 502.83,138.5 511,138.5" fill="none" stroke="#79bf3e" stroke-width="2" stroke-linejoin="round"/>
<path d="M420,137.88 L420.4,137.86 L420.8,137.84 L421.2,137.82 L421.6,137.79 L422,137.76 L422.4,137.73 L422.8,137.7 L423.2,137.67 L423.6,137.63 L424,137.59 L424.4,137.54 L424.8,137.49 L425.2,137.43 L425.6,137.36 L426,137.28 L426.4,137.2 L426.8,137.1 L427.2,136.99 L427.6,136.86 L428,136.72 L428.4,136.56 L428.8,136.37 L429.2,136.16 L429.6,135.93 L430,135.65 L430.4,135.35 L430.8,135 L431.2,134.61 L431.6,134.17 L432,133.67 L432.4,133.11 L432.8,132.49 L433.2,131.79 L433.6,131.02 L434,130.16 L434.4,129.21 L434.8,128.16 L435.2,127.01 L435.6,125.74 L436,124.36 L436.4,122.85 L436.8,121.22 L437.2,119.45 L437.6,117.54 L438,115.49 L438.4,113.3 L438.8,110.96 L439.2,108.48 L439.6,105.85 L440,103.08 L440.4,100.16 L440.8,97.12 L441.2,93.94 L441.6,90.65 L442,87.25 L442.4,83.76 L442.8,80.18 L443.2,76.54 L443.6,72.85 L444,69.14 L444.4,65.41 L444.8,61.7 L445.2,58.02 L445.6,54.41 L446,50.88 L446.4,47.47 L446.8,44.19 L447.2,41.08 L447.6,38.17 L448,35.47 L448.4,33.02 L448.8,30.84 L449.2,28.95 L449.6,27.37 L450,26.13 L450.4,25.23 L450.8,24.68 L451.2,24.5 L451.6,24.66 L452,25.14 L452.4,25.93 L452.8,27.02 L453.2,28.41 L453.6,30.08 L454,32.01 L454.4,34.18 L454.8,36.58 L455.2,39.19 L455.6,41.98 L456,44.93 L456.4,48.03 L456.8,51.24 L457.2,54.55 L457.6,57.93 L458,61.37 L458.4,64.84 L458.8,68.33 L459.2,71.81 L459.6,75.27 L460,78.7 L460.4,82.07 L460.8,85.38 L461.2,88.62 L461.6,91.76 L462,94.81 L462.4,97.75 L462.8,100.58 L463.2,103.29 L463.6,105.88 L464,108.35 L464.4,110.68 L464.8,112.89 L465.2,114.97 L465.6,116.93 L466,118.76 L466.4,120.46 L466.8,122.05 L467.2,123.53 L467.6,124.89 L468,126.14 L468.4,127.3 L468.8,128.36 L469.2,129.32 L469.6,130.21 L470,131.01 L470.4,131.74 L470.8,132.4 L471.2,132.99 L471.6,133.53 L472,134.01 L472.4,134.44 L472.8,134.83 L473.2,135.17 L473.6,135.48 L474,135.75 L474.4,136 L474.8,136.21 L475.2,136.4 L475.6,136.57 L476,136.73 L476.4,136.86 L476.8,136.98 L477.2,137.08 L477.6,137.18 L478,137.26 L478.4,137.33 L478.8,137.4 L479.2,137.46 L479.6,137.51 L480,137.56 L480.4,137.6 L480.8,137.64 L481.2,137.67 L481.6,137.71 L482,137.74 L482.4,137.76 L482.8,137.79 L483.2,137.81 L483.6,137.83 L484,137.85 L484.4,137.87 L484.8,137.89 L485.2,137.91 L485.6,137.93 L486,137.94 L486.4,137.96 L486.8,137.97 L487.2,137.98 L487.6,138 L488,138.01 L488.4,138.02 L488.8,138.03 L489.2,138.05 L489.6,138.06 L490,138.07 L490.4,138.08 L490.8,138.09 L491.2,138.1 L491.6,138.11 L492,138.12 L492.4,138.13 L492.8,138.13 L493.2,138.14 L493.6,138.15 L494,138.16 L494.4,138.17 L494.8,138.17 L495.2,138.18 L495.6,138.19 L496,138.2 L496.4,138.2 L496.8,138.21 L497.2,138.22 L497.6,138.22 L498,138.23 L498.4,138.24 L498.8,138.24 L499.2,138.25 L499.6,138.25 L500,138.26 L500.4,138.26 L500.8,138.27 L501.2,138.27 L501.6,138.28 L502,138.28 L502.4,138.29 L502.8,138.29 L503.2,138.3 L503.6,138.3 L504,138.31 L504.4,138.31 L504.8,138.31 L505.2,138.32 L505.6,138.32 L506,138.33 L506.4,138.33 L506.8,138.33 L507.2,138.34 L507.6,138.34 L508,138.35 L508.4,138.35 L508.8,138.35 L509.2,138.36 L509.6,138.36 L510,138.36 L510.4,138.37 L510.8,138.37" fill="none" stroke="#a093dd" stroke-width="1.5" stroke-linejoin="round"/>
<path d="M412,138.42 L412.4,138.42 L412.8,138.41 L413.2,138.41 L413.6,138.41 L414,138.4 L414.4,138.4 L414.8,138.4 L415.2,138.39 L415.6,138.39 L416,138.38 L416.4,138.38 L416.8,138.38 L417.2,138.37 L417.6,138.37 L418,138.36 L418.4,138.36 L418.8,138.35 L419.2,138.35 L419.6,138.34 L420,138.33 L420.4,138.33 L420.8,138.32 L421.2,138.32 L421.6,138.31 L422,138.3 L422.4,138.3 L422.8,138.29 L423.2,138.28 L423.6,138.27 L424,138.26 L424.4,138.26 L424.8,138.25 L425.2,138.24 L425.6,138.23 L426,138.22 L426.4,138.21 L426.8,138.2 L427.2,138.19 L427.6,138.18 L428,138.16 L428.4,138.15 L428.8,138.14 L429.2,138.13 L429.6,138.11 L430,138.1 L430.4,138.08 L430.8,138.06 L431.2,138.05 L431.6,138.03 L432,138.01 L432.4,137.99 L432.8,137.97 L433.2,137.95 L433.6,137.92 L434,137.9 L434.4,137.87 L434.8,137.84 L435.2,137.8 L435.6,137.76 L436,137.72 L436.4,137.67 L436.8,137.61 L437.2,137.55 L437.6,137.47 L438,137.38 L438.4,137.26 L438.8,137.13 L439.2,136.97 L439.6,136.78 L440,136.55 L440.4,136.27 L440.8,135.93 L441.2,135.52 L441.6,135.04 L442,134.46 L442.4,133.76 L442.8,132.95 L443.2,131.98 L443.6,130.85 L444,129.54 L444.4,128.03 L444.8,126.29 L445.2,124.3 L445.6,122.05 L446,119.52 L446.4,116.7 L446.8,113.57 L447.2,110.14 L447.6,106.39 L448,102.33 L448.4,97.98 L448.8,93.36 L449.2,88.49 L449.6,83.41 L450,78.15 L450.4,72.78 L450.8,67.35 L451.2,61.92 L451.6,56.57 L452,51.37 L452.4,46.4 L452.8,41.75 L453.2,37.5 L453.6,33.73 L454,30.52 L454.4,27.93 L454.8,26.04 L455.2,24.89 L455.6,24.5 L456,24.81 L456.4,25.73 L456.8,27.25 L457.2,29.33 L457.6,31.93 L458,35.01 L458.4,38.52 L458.8,42.39 L459.2,46.58 L459.6,51.01 L460,55.63 L460.4,60.38 L460.8,65.21 L461.2,70.07 L461.6,74.9 L462,79.67 L462.4,84.33 L462.8,88.84 L463.2,93.19 L463.6,97.34 L464,101.27 L464.4,104.97 L464.8,108.43 L465.2,111.65 L465.6,114.61 L466,117.33 L466.4,119.81 L466.8,122.05 L467.2,124.07 L467.6,125.88 L468,127.49 L468.4,128.92 L468.8,130.18 L469.2,131.28 L469.6,132.24 L470,133.07 L470.4,133.79 L470.8,134.41 L471.2,134.94 L471.6,135.39 L472,135.78 L472.4,136.11 L472.8,136.38 L473.2,136.62 L473.6,136.82 L474,136.99 L474.4,137.13 L474.8,137.25 L475.2,137.35 L475.6,137.44 L476,137.51 L476.4,137.58 L476.8,137.63 L477.2,137.68 L477.6,137.72 L478,137.76 L478.4,137.8 L478.8,137.83 L479.2,137.86 L479.6,137.88 L480,137.91 L480.4,137.93 L480.8,137.95 L481.2,137.97 L481.6,137.99 L482,138.01 L482.4,138.03 L482.8,138.04 L483.2,138.06 L483.6,138.07 L484,138.09 L484.4,138.1 L484.8,138.11 L485.2,138.13 L485.6,138.14 L486,138.15 L486.4,138.16 L486.8,138.17 L487.2,138.18 L487.6,138.19 L488,138.2 L488.4,138.21 L488.8,138.22 L489.2,138.23 L489.6,138.24 L490,138.25 L490.4,138.25 L490.8,138.26 L491.2,138.27 L491.6,138.28 L492,138.28 L492.4,138.29 L492.8,138.3 L493.2,138.3 L493.6,138.31 L494,138.31 L494.4,138.32 L494.8,138.33 L495.2,138.33 L495.6,138.34 L496,138.34 L496.4,138.35 L496.8,138.35 L497.2,138.36 L497.6,138.36 L498,138.36 L498.4,138.37 L498.8,138.37 L499.2,138.38 L499.6,138.38 L500,138.38 L500.4,138.39 L500.8,138.39 L501.2,138.4 L501.6,138.4 L502,138.4 L502.4,138.41 L502.8,138.41 L503.2,138.41 L503.6,138.42 L504,138.42 L504.4,138.42 L504.8,138.42 L505.2,138.43 L505.6,138.43 L506,138.43 L506.4,138.43 L506.8,138.44 L507.2,138.44 L507.6,138.44 L508,138.44 L508.4,138.45 L508.8,138.45 L509.2,138.45 L509.6,138.45 L510,138.46 L510.4,138.46 L510.8,138.46" fill="none" stroke="#79bf3e" stroke-width="2" stroke-linejoin="round"/>
<line x1="445.3" y1="79.1" x2="457.8" y2="79.1" stroke="#a99de0" stroke-width="1.3"/>
<path d="M442.9,79.1 L446.9,76.7 L446.9,79.1 L446.9,81.5 Z" fill="#a99de0"/>
<path d="M460.2,79.1 L456.2,76.7 L456.2,79.1 L456.2,81.5 Z" fill="#a99de0"/>
<line x1="451.9" y1="79.1" x2="459" y2="79.1" stroke="#7cc142" stroke-width="1.3"/>
<path d="M449.5,79.1 L453.5,76.7 L453.5,79.1 L453.5,81.5 Z" fill="#7cc142"/>
<path d="M461.4,79.1 L457.4,76.7 L457.4,79.1 L457.4,81.5 Z" fill="#7cc142"/>
<text x="465.3" y="77.1" font-size="11" font-weight="bold" fill="#a99bd9">34.5 nm</text>
<text x="465.3" y="93.9" font-size="11" font-weight="bold" fill="#7cbf3c">24.1 nm</text>
<line x1="362" y1="25.5" x2="377.9" y2="25.5" stroke="#a093dd" stroke-width="2.2"/>
<line x1="362" y1="37.9" x2="377.9" y2="37.9" stroke="#79bf3e" stroke-width="2.2"/>
<text x="379" y="28.6" font-size="8.2" font-weight="bold" fill="#5a4bb0">CsPbBr<tspan font-size="5.5" dy="2">3</tspan></text>
<text x="379.5" y="41" font-size="8.2" font-weight="bold" fill="#24784a">4.7% Mn-doped</text>
<text x="399" y="54.4" font-size="8.2" font-weight="bold" fill="#24784a">CsPbBr<tspan font-size="5.5" dy="2">3</tspan></text>
<rect x="352" y="18.2" width="159.6" height="120.4" fill="none" stroke="#1c1c1c" stroke-width="1.3"/>
<line x1="352" y1="138.6" x2="354.7" y2="138.6" stroke="#1c1c1c" stroke-width="1.1"/>
<line x1="511.6" y1="138.6" x2="508.9" y2="138.6" stroke="#1c1c1c" stroke-width="1.1"/>
<text x="348.5" y="142.7" font-size="10" text-anchor="end" fill="#1a1a1a" letter-spacing="0.7" stroke="#1a1a1a" stroke-width="0.25">0.0</text>
<text x="515.2" y="142.7" font-size="10" fill="#1a1a1a" letter-spacing="0.7" stroke="#1a1a1a" stroke-width="0.25">0.0</text>
<line x1="352" y1="115.78" x2="354.7" y2="115.78" stroke="#1c1c1c" stroke-width="1.1"/>
<line x1="511.6" y1="115.78" x2="508.9" y2="115.78" stroke="#1c1c1c" stroke-width="1.1"/>
<text x="348.5" y="119.88" font-size="10" text-anchor="end" fill="#1a1a1a" letter-spacing="0.7" stroke="#1a1a1a" stroke-width="0.25">0.2</text>
<text x="515.2" y="119.88" font-size="10" fill="#1a1a1a" letter-spacing="0.7" stroke="#1a1a1a" stroke-width="0.25">0.2</text>
<line x1="352" y1="92.96" x2="354.7" y2="92.96" stroke="#1c1c1c" stroke-width="1.1"/>
<line x1="511.6" y1="92.96" x2="508.9" y2="92.96" stroke="#1c1c1c" stroke-width="1.1"/>
<text x="348.5" y="97.06" font-size="10" text-anchor="end" fill="#1a1a1a" letter-spacing="0.7" stroke="#1a1a1a" stroke-width="0.25">0.4</text>
<text x="515.2" y="97.06" font-size="10" fill="#1a1a1a" letter-spacing="0.7" stroke="#1a1a1a" stroke-width="0.25">0.4</text>
<line x1="352" y1="70.14" x2="354.7" y2="70.14" stroke="#1c1c1c" stroke-width="1.1"/>
<line x1="511.6" y1="70.14" x2="508.9" y2="70.14" stroke="#1c1c1c" stroke-width="1.1"/>
<text x="348.5" y="74.24" font-size="10" text-anchor="end" fill="#1a1a1a" letter-spacing="0.7" stroke="#1a1a1a" stroke-width="0.25">0.6</text>
<text x="515.2" y="74.24" font-size="10" fill="#1a1a1a" letter-spacing="0.7" stroke="#1a1a1a" stroke-width="0.25">0.6</text>
<line x1="352" y1="47.32" x2="354.7" y2="47.32" stroke="#1c1c1c" stroke-width="1.1"/>
<line x1="511.6" y1="47.32" x2="508.9" y2="47.32" stroke="#1c1c1c" stroke-width="1.1"/>
<text x="348.5" y="51.42" font-size="10" text-anchor="end" fill="#1a1a1a" letter-spacing="0.7" stroke="#1a1a1a" stroke-width="0.25">0.8</text>
<text x="515.2" y="51.42" font-size="10" fill="#1a1a1a" letter-spacing="0.7" stroke="#1a1a1a" stroke-width="0.25">0.8</text>
<line x1="352" y1="24.5" x2="354.7" y2="24.5" stroke="#1c1c1c" stroke-width="1.1"/>
<line x1="511.6" y1="24.5" x2="508.9" y2="24.5" stroke="#1c1c1c" stroke-width="1.1"/>
<text x="348.5" y="28.6" font-size="10" text-anchor="end" fill="#1a1a1a" letter-spacing="0.7" stroke="#1a1a1a" stroke-width="0.25">1.0</text>
<text x="515.2" y="28.6" font-size="10" fill="#1a1a1a" letter-spacing="0.7" stroke="#1a1a1a" stroke-width="0.25">1.0</text>
<line x1="352" y1="138.6" x2="352" y2="135.9" stroke="#1c1c1c" stroke-width="1.1"/>
<text x="352.35" y="152.2" font-size="10" text-anchor="middle" fill="#1a1a1a" letter-spacing="0.7" stroke="#1a1a1a" stroke-width="0.25">300</text>
<line x1="405.27" y1="138.6" x2="405.27" y2="135.9" stroke="#1c1c1c" stroke-width="1.1"/>
<text x="405.62" y="152.2" font-size="10" text-anchor="middle" fill="#1a1a1a" letter-spacing="0.7" stroke="#1a1a1a" stroke-width="0.25">400</text>
<line x1="458.54" y1="138.6" x2="458.54" y2="135.9" stroke="#1c1c1c" stroke-width="1.1"/>
<text x="458.89" y="152.2" font-size="10" text-anchor="middle" fill="#1a1a1a" letter-spacing="0.7" stroke="#1a1a1a" stroke-width="0.25">500</text>
<line x1="511.81" y1="138.6" x2="511.81" y2="135.9" stroke="#1c1c1c" stroke-width="1.1"/>
<text x="512.16" y="152.2" font-size="10" text-anchor="middle" fill="#1a1a1a" letter-spacing="0.7" stroke="#1a1a1a" stroke-width="0.25">600</text>
<text x="436.2" y="164.6" font-size="11" text-anchor="middle" fill="#1a1a1a" stroke="#1a1a1a" stroke-width="0.2">wavelength (nm)</text>
<text transform="translate(328.4,74.4) rotate(-90)" font-size="10.9" text-anchor="middle" fill="#1a1a1a" stroke="#1a1a1a" stroke-width="0.2">Absorbance (a.u.)</text>
<text transform="translate(544.2,78.3) rotate(-90)" font-size="11" text-anchor="middle" fill="#1a1a1a" stroke="#1a1a1a" stroke-width="0.2">PL Intensity (a.u.)</text>
<text x="335.2" y="13.9" font-size="12.4" fill="#1a1a1a" letter-spacing="0.3">(e)</text>
<path d="M353.3,237.44 L354,237.74 L354.7,237.57 L355.4,237.8 L356.1,237.83 L356.8,237.27 L357.5,237.21 L358.2,238.04 L358.9,237.46 L359.6,237.38 L360.3,237.7 L361,234.99 L361.7,230.15 L362.4,224.99 L363.1,226.7 L363.8,232.01 L364.5,236.43 L365.2,237.87 L365.9,237.71 L366.6,237.94 L367.3,237.87 L368,237.26 L368.7,237.96 L369.4,237.79 L370.1,237.5 L370.8,237.23 L371.5,238.07 L372.2,237.67 L372.9,237.92 L373.6,238.08 L374.3,237.91 L375,238.02 L375.7,236.71 L376.4,233.64 L377.1,225.85 L377.8,220.74 L378.5,224.05 L379.2,231.1 L379.9,235.8 L380.6,237.13 L381.3,237.99 L382,237.36 L382.7,237.41 L383.4,236.88 L384.1,236.85 L384.8,236.45 L385.5,236.14 L386.2,236.11 L386.9,235.91 L387.6,236.12 L388.3,235.89 L389,236.24 L389.7,236.35 L390.4,236.74 L391.1,236.7 L391.8,236.47 L392.5,237.41 L393.2,237.72 L393.9,237.8 L394.6,237.41 L395.3,236.12 L396,228.38 L396.7,210.38 L397.4,188.34 L398.1,186.1 L398.8,206.23 L399.5,227.16 L400.2,235.97 L400.9,237.03 L401.6,237.98 L402.3,237.61 L403,237.35 L403.7,237.46 L404.4,237.05 L405.1,230.98 L405.8,223.24 L406.5,230.73 L407.2,236.32 L407.9,237.89 L408.6,237.52 L409.3,237.79 L410,236.36 L410.7,234.75 L411.4,236.97 L412.1,237.38 L412.8,237.27 L413.5,237.8 L414.2,237.23 L414.9,237.4 L415.6,237.61 L416.3,237.81 L417,237.36 L417.7,237.24 L418.4,238.07 L419.1,237.51 L419.8,238.16 L420.5,238.1 L421.2,237.58 L421.9,237.66 L422.6,237.72 L423.3,237.84 L424,237.8 L424.7,237.76 L425.4,237.76 L426.1,237.57 L426.8,235.77 L427.5,235.23 L428.2,236.83 L428.9,237.25 L429.6,237.49 L430.3,238.18 L431,237.72 L431.7,237.75 L432.4,237.21 L433.1,237.62 L433.8,237.78 L434.5,237.22 L435.2,237.82 L435.9,237.83 L436.6,236.97 L437.3,234.58 L438,228.21 L438.7,230.81 L439.4,236.2 L440.1,237.84 L440.8,237.94 L441.5,237.22 L442.2,237.26 L442.9,237.88 L443.6,238.16 L444.3,237.45 L445,237.66 L445.7,237.79 L446.4,237.52 L447.1,237.51 L447.8,237.05 L448.5,236.02 L449.2,235.88 L449.9,236.63 L450.6,237.43 L451.3,237.96 L452,237.23 L452.7,237.77 L453.4,237.94 L454.1,237.51 L454.8,237.42 L455.5,238 L456.2,237.44 L456.9,237.39 L457.6,237.64 L458.3,237.9 L459,237.18 L459.7,235.78 L460.4,231.36 L461.1,232.43 L461.8,236.33 L462.5,237.98 L463.2,237.37 L463.9,237.54 L464.6,237.85 L465.3,238.08 L466,237.65 L466.7,237.43 L467.4,237.32 L468.1,237.73 L468.8,237.39 L469.5,238.01 L470.2,238.04 L470.9,237.38 L471.6,237.48" fill="none" stroke="#a093dd" stroke-width="1.3" stroke-linejoin="round"/>
<path d="M353.3,298.45 L354,298.31 L354.7,298.45 L355.4,298.08 L356.1,297.9 L356.8,298.03 L357.5,298.44 L358.2,298.02 L358.9,298.08 L359.6,298.13 L360.3,298.12 L361,297.96 L361.7,297.16 L362.4,291.66 L363.1,282.28 L363.8,277.55 L364.5,282.99 L365.2,292.33 L365.9,296.77 L366.6,298.39 L367.3,298.53 L368,297.98 L368.7,298.4 L369.4,298.47 L370.1,298.33 L370.8,298.22 L371.5,298.03 L372.2,298.07 L372.9,297.98 L373.6,297.85 L374.3,298.26 L375,298.01 L375.7,298.28 L376.4,296.43 L377.1,292.48 L377.8,286.09 L378.5,286.83 L379.2,293.1 L379.9,296.95 L380.6,297.4 L381.3,296.77 L382,297.03 L382.7,296.22 L383.4,295.96 L384.1,295.91 L384.8,295.52 L385.5,295.23 L386.2,295.56 L386.9,295.32 L387.6,295.24 L388.3,295.41 L389,296.21 L389.7,296.26 L390.4,296.86 L391.1,296.86 L391.8,297.05 L392.5,297.57 L393.2,298 L393.9,297.63 L394.6,298.2 L395.3,297.7 L396,292.64 L396.7,275.05 L397.4,249.44 L398.1,247.55 L398.8,271.45 L399.5,290.53 L400.2,297.01 L400.9,297.94 L401.6,298.22 L402.3,298.14 L403,298.18 L403.7,298.42 L404.4,297.8 L405.1,297.61 L405.8,293.4 L406.5,285.9 L407.2,293.35 L407.9,298.34 L408.6,298.48 L409.3,297.87 L410,298.19 L410.7,297.86 L411.4,296.84 L412.1,296.11 L412.8,297.5 L413.5,298.18 L414.2,298.09 L414.9,297.95 L415.6,298.06 L416.3,297.9 L417,298.24 L417.7,298.37 L418.4,298.1 L419.1,297.86 L419.8,297.94 L420.5,298.1 L421.2,298.28 L421.9,298.43 L422.6,298.1 L423.3,298.44 L424,298.3 L424.7,298.15 L425.4,298.1 L426.1,298.15 L426.8,297.9 L427.5,296.59 L428.2,296.44 L428.9,297.29 L429.6,297.85 L430.3,298.22 L431,298.36 L431.7,297.86 L432.4,298.14 L433.1,298.14 L433.8,298.5 L434.5,298.55 L435.2,298.1 L435.9,298.52 L436.6,298.43 L437.3,298.01 L438,298.17 L438.7,297.85 L439.4,296.77 L440.1,290.48 L440.8,293.35 L441.5,297.96 L442.2,298.33 L442.9,298.39 L443.6,298.25 L444.3,297.88 L445,298.27 L445.7,297.8 L446.4,297.91 L447.1,298.42 L447.8,297.84 L448.5,297.87 L449.2,297.88 L449.9,298.5 L450.6,297.94 L451.3,297.82 L452,298.47 L452.7,297.9 L453.4,298.48 L454.1,298.34 L454.8,298.47 L455.5,298.56 L456.2,298.26 L456.9,298.44 L457.6,297.83 L458.3,298.41 L459,298.21 L459.7,298.22 L460.4,295.07 L461.1,290.9 L461.8,295.73 L462.5,297.7 L463.2,298.06 L463.9,298.25 L464.6,298.46 L465.3,297.99 L466,297.94 L466.7,298 L467.4,298.29 L468.1,298.4 L468.8,298.11 L469.5,298.09 L470.2,298.12 L470.9,298.08 L471.6,298.13" fill="none" stroke="#79bf3e" stroke-width="1.4" stroke-linejoin="round"/>
<line x1="390.8" y1="182.5" x2="390.8" y2="301" stroke="#111" stroke-width="1.6" stroke-dasharray="3.6,3.8"/>
<line x1="405.1" y1="182.5" x2="405.1" y2="301" stroke="#111" stroke-width="1.6" stroke-dasharray="3.6,3.8"/>
<line x1="390.8" y1="182.8" x2="405.1" y2="182.8" stroke="#111" stroke-width="1.4" stroke-dasharray="4,3"/>
<line x1="426" y1="188.2" x2="437.5" y2="188.2" stroke="#a093dd" stroke-width="2"/>
<text x="438.9" y="191.1" font-size="7.9" font-weight="bold" fill="#5d4fae">CsPbBr<tspan font-size="5.3" dy="2">3</tspan></text>
<line x1="405.5" y1="251.9" x2="414.5" y2="251.9" stroke="#79bf3e" stroke-width="2"/>
<text x="415" y="254.8" font-size="7.8" font-weight="bold" fill="#1f8a2a">4.7% Mn-doped</text>
<text x="434" y="265.5" font-size="8.1" font-weight="bold" fill="#1f8a2a">CsPbBr<tspan font-size="5.5" dy="2">3</tspan></text>
<rect x="352.5" y="181.7" width="119.8" height="119.6" fill="none" stroke="#1c1c1c" stroke-width="1.3"/>
<line x1="352.6" y1="301.3" x2="352.6" y2="298.6" stroke="#1c1c1c" stroke-width="1.1"/>
<text x="352.95" y="314.6" font-size="10" text-anchor="middle" fill="#1a1a1a" letter-spacing="0.7" stroke="#1a1a1a" stroke-width="0.25">10</text>
<line x1="374.3" y1="301.3" x2="374.3" y2="298.6" stroke="#1c1c1c" stroke-width="1.1"/>
<text x="374.65" y="314.6" font-size="10" text-anchor="middle" fill="#1a1a1a" letter-spacing="0.7" stroke="#1a1a1a" stroke-width="0.25">20</text>
<line x1="396" y1="301.3" x2="396" y2="298.6" stroke="#1c1c1c" stroke-width="1.1"/>
<text x="396.35" y="314.6" font-size="10" text-anchor="middle" fill="#1a1a1a" letter-spacing="0.7" stroke="#1a1a1a" stroke-width="0.25">30</text>
<line x1="417.7" y1="301.3" x2="417.7" y2="298.6" stroke="#1c1c1c" stroke-width="1.1"/>
<text x="418.05" y="314.6" font-size="10" text-anchor="middle" fill="#1a1a1a" letter-spacing="0.7" stroke="#1a1a1a" stroke-width="0.25">40</text>
<line x1="439.4" y1="301.3" x2="439.4" y2="298.6" stroke="#1c1c1c" stroke-width="1.1"/>
<text x="439.75" y="314.6" font-size="10" text-anchor="middle" fill="#1a1a1a" letter-spacing="0.7" stroke="#1a1a1a" stroke-width="0.25">50</text>
<line x1="461.1" y1="301.3" x2="461.1" y2="298.6" stroke="#1c1c1c" stroke-width="1.1"/>
<text x="461.45" y="314.6" font-size="10" text-anchor="middle" fill="#1a1a1a" letter-spacing="0.7" stroke="#1a1a1a" stroke-width="0.25">60</text>
<line x1="363.45" y1="301.3" x2="363.45" y2="299.6" stroke="#1c1c1c" stroke-width="0.9"/>
<line x1="385.15" y1="301.3" x2="385.15" y2="299.6" stroke="#1c1c1c" stroke-width="0.9"/>
<line x1="406.85" y1="301.3" x2="406.85" y2="299.6" stroke="#1c1c1c" stroke-width="0.9"/>
<line x1="428.55" y1="301.3" x2="428.55" y2="299.6" stroke="#1c1c1c" stroke-width="0.9"/>
<line x1="450.25" y1="301.3" x2="450.25" y2="299.6" stroke="#1c1c1c" stroke-width="0.9"/>
<line x1="471.95" y1="301.3" x2="471.95" y2="299.6" stroke="#1c1c1c" stroke-width="0.9"/>
<text x="412.4" y="329" font-size="11" text-anchor="middle" fill="#1a1a1a" stroke="#1a1a1a" stroke-width="0.2">2Θ [deg.]</text>
<text transform="translate(342,239.75) rotate(-90)" font-size="10.8" text-anchor="middle" fill="#1a1a1a" stroke="#1a1a1a" stroke-width="0.2">Intensity (a.u.)</text>
<text x="339.5" y="178.6" font-size="12.4" fill="#1a1a1a" letter-spacing="0.3">(f)</text>
<line x1="405.5" y1="242.4" x2="506" y2="242.4" stroke="#111" stroke-width="1.2"/>
<path d="M512.7,242.4 L505.5,240 L505.5,244.8 Z" fill="#111"/>
<path d="M498.9,232.3 C499.48,231.92 501.47,230.97 502.4,230 C503.33,229.03 503.8,227.88 504.5,226.5 C505.2,225.12 505.9,223.37 506.6,221.7 C507.3,220.03 508.02,218.22 508.7,216.5 C509.38,214.78 509.85,213.98 510.7,211.4 C511.55,208.82 512.77,204.45 513.8,201 C514.83,197.55 516.03,193.1 516.9,190.7 C517.77,188.3 518.4,187.05 519,186.6 C519.6,186.15 519.98,186.97 520.5,188 C521.02,189.03 521.32,190.28 522.1,192.8 C522.88,195.32 524.17,200.18 525.2,203.1 C526.23,206.02 527.27,208.4 528.3,210.3 C529.33,212.2 530.2,212.93 531.4,214.5 C532.6,216.07 534.12,217.8 535.5,219.7 C536.88,221.6 538.45,224.18 539.7,225.9 C540.95,227.62 542.45,229.32 543,230" fill="none" stroke="#a093dd" stroke-width="1.4"/>
<path d="M498.9,298 C499.63,297.75 501.95,297 503.3,296.5 C504.65,296 505.78,295.72 507,295 C508.22,294.28 509.52,293.45 510.6,292.2 C511.68,290.95 512.53,289.43 513.5,287.5 C514.47,285.57 515.55,283.18 516.4,280.6 C517.25,278.02 517.88,274.9 518.6,272 C519.32,269.1 519.87,266.85 520.7,263.2 C521.53,259.55 522.63,253 523.6,250.1 C524.57,247.2 525.53,245.8 526.5,245.8 C527.47,245.8 528.43,247.2 529.4,250.1 C530.37,253 531.33,259.82 532.3,263.2 C533.27,266.58 533.98,268.23 535.2,270.4 C536.42,272.57 538.3,274.55 539.6,276.2 C540.9,277.85 542.43,279.62 543,280.3" fill="none" stroke="#79bf3e" stroke-width="1.5"/>
<line x1="519.5" y1="182.5" x2="519.5" y2="300.5" stroke="#111" stroke-width="1.5" stroke-dasharray="1.7,2.3"/>
<line x1="526" y1="182.5" x2="526" y2="300.5" stroke="#111" stroke-width="1.5" stroke-dasharray="1.7,2.3"/>
<rect x="498.6" y="181.8" width="44.8" height="118.9" fill="none" stroke="#1c1c1c" stroke-width="1.3"/>
<line x1="512.7" y1="234.8" x2="518.6" y2="234.8" stroke="#d2246e" stroke-width="1.5"/>
<path d="M515.4,232 L519.1,234.8 L515.4,237.6" fill="none" stroke="#d2246e" stroke-width="1.5" stroke-linejoin="miter"/>
<line x1="527.4" y1="234.8" x2="533.6" y2="234.8" stroke="#d2246e" stroke-width="1.5"/>
<path d="M530.6,232 L526.9,234.8 L530.6,237.6" fill="none" stroke="#d2246e" stroke-width="1.5" stroke-linejoin="miter"/>
<text x="499.05" y="314.6" font-size="10" text-anchor="middle" fill="#1a1a1a" letter-spacing="0.7" stroke="#1a1a1a" stroke-width="0.25">30</text>
<text x="527.75" y="314.6" font-size="10" text-anchor="middle" fill="#1a1a1a" letter-spacing="0.7" stroke="#1a1a1a" stroke-width="0.25">31</text>
<line x1="513.5" y1="300.7" x2="513.5" y2="298.5" stroke="#1c1c1c" stroke-width="1"/>
<line x1="527.6" y1="300.7" x2="527.6" y2="298.5" stroke="#1c1c1c" stroke-width="1"/>
<line x1="541.5" y1="300.7" x2="541.5" y2="298.5" stroke="#1c1c1c" stroke-width="1"/>
<text x="521.2" y="328.6" font-size="11" text-anchor="middle" fill="#1a1a1a" stroke="#1a1a1a" stroke-width="0.2">2Θ [deg.]</text>
<text transform="translate(491.9,239.75) rotate(-90)" font-size="10.8" text-anchor="middle" fill="#1a1a1a" stroke="#1a1a1a" stroke-width="0.2">Intensity (a.u.)</text>
<text x="482.4" y="178.7" font-size="12.4" fill="#1a1a1a" letter-spacing="0.3">(g)</text>
<text x="498.7" y="176.5" font-size="9.1" font-weight="bold" fill="#d2246e">Δ2Θ=0.18°</text>
</svg>
</body></html>
